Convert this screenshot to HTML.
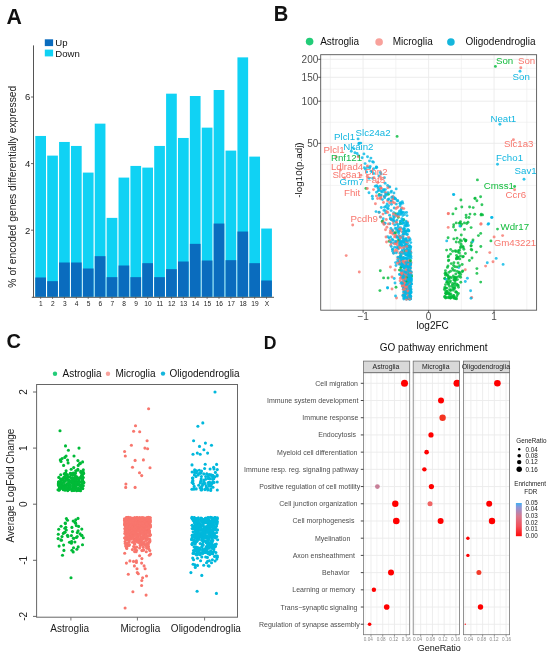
<!DOCTYPE html>
<html><head><meta charset="utf-8"><style>
html,body{margin:0;padding:0;background:#fff;}
svg{display:block;font-family:"Liberation Sans", sans-serif;will-change:transform;}
</style></head><body>
<svg width="550" height="656" viewBox="0 0 550 656">
<defs><linearGradient id="gr" x1="0" y1="0" x2="0" y2="1"><stop offset="0" stop-color="#3fb0f2"/><stop offset="0.12" stop-color="#8c96d8"/><stop offset="0.4" stop-color="#d9788e"/><stop offset="0.7" stop-color="#f2505a"/><stop offset="1" stop-color="#ff0a0a"/></linearGradient><clipPath id="cp0"><rect x="363.50" y="372.7" width="46.2" height="262.00"/></clipPath><clipPath id="cp1"><rect x="413.20" y="372.7" width="46.2" height="262.00"/></clipPath><clipPath id="cp2"><rect x="463.40" y="372.7" width="46.2" height="262.00"/></clipPath></defs>
<rect width="550" height="656" fill="#fff"/>
<text x="6.60" y="23.60" font-size="21.3" fill="#111" text-anchor="start" font-weight="bold" >A</text>
<rect x="35.30" y="135.96" width="10.70" height="160.84" fill="#10d2f4" />
<rect x="35.30" y="277.49" width="10.70" height="19.31" fill="#0a6cbe" />
<line x1="40.65" y1="296.80" x2="40.65" y2="298.80" stroke="#444" stroke-width="0.8" />
<text x="40.95" y="306.20" font-size="6.6" fill="#222" text-anchor="middle" font-weight="normal" >1</text>
<rect x="47.19" y="155.61" width="10.70" height="141.19" fill="#10d2f4" />
<rect x="47.19" y="281.15" width="10.70" height="15.65" fill="#0a6cbe" />
<line x1="52.54" y1="296.80" x2="52.54" y2="298.80" stroke="#444" stroke-width="0.8" />
<text x="52.84" y="306.20" font-size="6.6" fill="#222" text-anchor="middle" font-weight="normal" >2</text>
<rect x="59.08" y="141.96" width="10.70" height="154.84" fill="#10d2f4" />
<rect x="59.08" y="262.50" width="10.70" height="34.30" fill="#0a6cbe" />
<line x1="64.43" y1="296.80" x2="64.43" y2="298.80" stroke="#444" stroke-width="0.8" />
<text x="64.73" y="306.20" font-size="6.6" fill="#222" text-anchor="middle" font-weight="normal" >3</text>
<rect x="70.97" y="145.95" width="10.70" height="150.85" fill="#10d2f4" />
<rect x="70.97" y="262.50" width="10.70" height="34.30" fill="#0a6cbe" />
<line x1="76.32" y1="296.80" x2="76.32" y2="298.80" stroke="#444" stroke-width="0.8" />
<text x="76.62" y="306.20" font-size="6.6" fill="#222" text-anchor="middle" font-weight="normal" >4</text>
<rect x="82.86" y="172.59" width="10.70" height="124.21" fill="#10d2f4" />
<rect x="82.86" y="268.50" width="10.70" height="28.30" fill="#0a6cbe" />
<line x1="88.21" y1="296.80" x2="88.21" y2="298.80" stroke="#444" stroke-width="0.8" />
<text x="88.51" y="306.20" font-size="6.6" fill="#222" text-anchor="middle" font-weight="normal" >5</text>
<rect x="94.75" y="123.64" width="10.70" height="173.16" fill="#10d2f4" />
<rect x="94.75" y="256.17" width="10.70" height="40.63" fill="#0a6cbe" />
<line x1="100.10" y1="296.80" x2="100.10" y2="298.80" stroke="#444" stroke-width="0.8" />
<text x="100.40" y="306.20" font-size="6.6" fill="#222" text-anchor="middle" font-weight="normal" >6</text>
<rect x="106.64" y="217.88" width="10.70" height="78.92" fill="#10d2f4" />
<rect x="106.64" y="277.15" width="10.70" height="19.65" fill="#0a6cbe" />
<line x1="111.99" y1="296.80" x2="111.99" y2="298.80" stroke="#444" stroke-width="0.8" />
<text x="112.29" y="306.20" font-size="6.6" fill="#222" text-anchor="middle" font-weight="normal" >7</text>
<rect x="118.53" y="177.59" width="10.70" height="119.21" fill="#10d2f4" />
<rect x="118.53" y="265.50" width="10.70" height="31.30" fill="#0a6cbe" />
<line x1="123.88" y1="296.80" x2="123.88" y2="298.80" stroke="#444" stroke-width="0.8" />
<text x="124.18" y="306.20" font-size="6.6" fill="#222" text-anchor="middle" font-weight="normal" >8</text>
<rect x="130.42" y="165.93" width="10.70" height="130.87" fill="#10d2f4" />
<rect x="130.42" y="277.15" width="10.70" height="19.65" fill="#0a6cbe" />
<line x1="135.77" y1="296.80" x2="135.77" y2="298.80" stroke="#444" stroke-width="0.8" />
<text x="136.07" y="306.20" font-size="6.6" fill="#222" text-anchor="middle" font-weight="normal" >9</text>
<rect x="142.31" y="167.60" width="10.70" height="129.20" fill="#10d2f4" />
<rect x="142.31" y="263.17" width="10.70" height="33.63" fill="#0a6cbe" />
<line x1="147.66" y1="296.80" x2="147.66" y2="298.80" stroke="#444" stroke-width="0.8" />
<text x="147.96" y="306.20" font-size="6.6" fill="#222" text-anchor="middle" font-weight="normal" >10</text>
<rect x="154.20" y="145.95" width="10.70" height="150.85" fill="#10d2f4" />
<rect x="154.20" y="277.15" width="10.70" height="19.65" fill="#0a6cbe" />
<line x1="159.55" y1="296.80" x2="159.55" y2="298.80" stroke="#444" stroke-width="0.8" />
<text x="159.85" y="306.20" font-size="6.6" fill="#222" text-anchor="middle" font-weight="normal" >11</text>
<rect x="166.09" y="93.67" width="10.70" height="203.13" fill="#10d2f4" />
<rect x="166.09" y="269.16" width="10.70" height="27.64" fill="#0a6cbe" />
<line x1="171.44" y1="296.80" x2="171.44" y2="298.80" stroke="#444" stroke-width="0.8" />
<text x="171.74" y="306.20" font-size="6.6" fill="#222" text-anchor="middle" font-weight="normal" >12</text>
<rect x="177.98" y="137.96" width="10.70" height="158.84" fill="#10d2f4" />
<rect x="177.98" y="261.50" width="10.70" height="35.30" fill="#0a6cbe" />
<line x1="183.33" y1="296.80" x2="183.33" y2="298.80" stroke="#444" stroke-width="0.8" />
<text x="183.63" y="306.20" font-size="6.6" fill="#222" text-anchor="middle" font-weight="normal" >13</text>
<rect x="189.87" y="96.00" width="10.70" height="200.80" fill="#10d2f4" />
<rect x="189.87" y="243.85" width="10.70" height="52.95" fill="#0a6cbe" />
<line x1="195.22" y1="296.80" x2="195.22" y2="298.80" stroke="#444" stroke-width="0.8" />
<text x="195.52" y="306.20" font-size="6.6" fill="#222" text-anchor="middle" font-weight="normal" >14</text>
<rect x="201.76" y="127.64" width="10.70" height="169.16" fill="#10d2f4" />
<rect x="201.76" y="260.50" width="10.70" height="36.30" fill="#0a6cbe" />
<line x1="207.11" y1="296.80" x2="207.11" y2="298.80" stroke="#444" stroke-width="0.8" />
<text x="207.41" y="306.20" font-size="6.6" fill="#222" text-anchor="middle" font-weight="normal" >15</text>
<rect x="213.65" y="90.01" width="10.70" height="206.79" fill="#10d2f4" />
<rect x="213.65" y="223.54" width="10.70" height="73.26" fill="#0a6cbe" />
<line x1="219.00" y1="296.80" x2="219.00" y2="298.80" stroke="#444" stroke-width="0.8" />
<text x="219.30" y="306.20" font-size="6.6" fill="#222" text-anchor="middle" font-weight="normal" >16</text>
<rect x="225.54" y="150.61" width="10.70" height="146.19" fill="#10d2f4" />
<rect x="225.54" y="260.17" width="10.70" height="36.63" fill="#0a6cbe" />
<line x1="230.89" y1="296.80" x2="230.89" y2="298.80" stroke="#444" stroke-width="0.8" />
<text x="231.19" y="306.20" font-size="6.6" fill="#222" text-anchor="middle" font-weight="normal" >17</text>
<rect x="237.43" y="57.37" width="10.70" height="239.43" fill="#10d2f4" />
<rect x="237.43" y="231.53" width="10.70" height="65.27" fill="#0a6cbe" />
<line x1="242.78" y1="296.80" x2="242.78" y2="298.80" stroke="#444" stroke-width="0.8" />
<text x="243.08" y="306.20" font-size="6.6" fill="#222" text-anchor="middle" font-weight="normal" >18</text>
<rect x="249.32" y="156.61" width="10.70" height="140.19" fill="#10d2f4" />
<rect x="249.32" y="263.17" width="10.70" height="33.63" fill="#0a6cbe" />
<line x1="254.67" y1="296.80" x2="254.67" y2="298.80" stroke="#444" stroke-width="0.8" />
<text x="254.97" y="306.20" font-size="6.6" fill="#222" text-anchor="middle" font-weight="normal" >19</text>
<rect x="261.21" y="228.54" width="10.70" height="68.26" fill="#10d2f4" />
<rect x="261.21" y="280.48" width="10.70" height="16.32" fill="#0a6cbe" />
<line x1="266.56" y1="296.80" x2="266.56" y2="298.80" stroke="#444" stroke-width="0.8" />
<text x="266.86" y="306.20" font-size="6.6" fill="#222" text-anchor="middle" font-weight="normal" >X</text>
<line x1="33.50" y1="45.40" x2="33.50" y2="297.60" stroke="#555" stroke-width="1" />
<line x1="31.80" y1="297.30" x2="274.00" y2="297.30" stroke="#555" stroke-width="1" />
<line x1="31.00" y1="230.20" x2="33.50" y2="230.20" stroke="#444" stroke-width="0.8" />
<text x="30.20" y="233.60" font-size="9.5" fill="#222" text-anchor="end" font-weight="normal" >2</text>
<line x1="31.00" y1="163.60" x2="33.50" y2="163.60" stroke="#444" stroke-width="0.8" />
<text x="30.20" y="167.00" font-size="9.5" fill="#222" text-anchor="end" font-weight="normal" >4</text>
<line x1="31.00" y1="97.00" x2="33.50" y2="97.00" stroke="#444" stroke-width="0.8" />
<text x="30.20" y="100.40" font-size="9.5" fill="#222" text-anchor="end" font-weight="normal" >6</text>
<rect x="44.80" y="39.30" width="8.30" height="6.80" fill="#0a6cbe" />
<rect x="44.80" y="49.60" width="8.30" height="6.80" fill="#10d2f4" />
<text x="55.30" y="46.20" font-size="9.6" fill="#111" text-anchor="start" font-weight="normal" >Up</text>
<text x="55.30" y="56.50" font-size="9.6" fill="#111" text-anchor="start" font-weight="normal" >Down</text>
<text x="0.00" y="0.00" font-size="10.3" fill="#222" text-anchor="middle" font-weight="normal" transform="translate(16,186.7) rotate(-90)">% of encoded genes differentially expressed</text>
<text x="0.00" y="0.00" font-size="21.2" fill="#111" text-anchor="start" font-weight="bold" transform="translate(273.7,20.6) scale(0.95,1)">B</text>
<rect x="320.70" y="54.70" width="215.90" height="255.50" fill="#fff" />
<line x1="330.35" y1="54.70" x2="330.35" y2="310.20" stroke="#ebebeb" stroke-width="0.6" />
<line x1="363.10" y1="54.70" x2="363.10" y2="310.20" stroke="#ebebeb" stroke-width="0.9" />
<line x1="395.85" y1="54.70" x2="395.85" y2="310.20" stroke="#ebebeb" stroke-width="0.6" />
<line x1="428.60" y1="54.70" x2="428.60" y2="310.20" stroke="#ebebeb" stroke-width="0.9" />
<line x1="461.35" y1="54.70" x2="461.35" y2="310.20" stroke="#ebebeb" stroke-width="0.6" />
<line x1="494.10" y1="54.70" x2="494.10" y2="310.20" stroke="#ebebeb" stroke-width="0.9" />
<line x1="526.85" y1="54.70" x2="526.85" y2="310.20" stroke="#ebebeb" stroke-width="0.6" />
<line x1="320.70" y1="59.30" x2="536.60" y2="59.30" stroke="#ebebeb" stroke-width="0.9" />
<line x1="320.70" y1="77.30" x2="536.60" y2="77.30" stroke="#ebebeb" stroke-width="0.9" />
<line x1="320.70" y1="101.20" x2="536.60" y2="101.20" stroke="#ebebeb" stroke-width="0.9" />
<line x1="320.70" y1="143.30" x2="536.60" y2="143.30" stroke="#ebebeb" stroke-width="0.9" />
<line x1="320.70" y1="68.30" x2="536.60" y2="68.30" stroke="#ebebeb" stroke-width="0.6" />
<line x1="320.70" y1="89.25" x2="536.60" y2="89.25" stroke="#ebebeb" stroke-width="0.6" />
<line x1="320.70" y1="122.25" x2="536.60" y2="122.25" stroke="#ebebeb" stroke-width="0.6" />
<line x1="320.70" y1="164.35" x2="536.60" y2="164.35" stroke="#ebebeb" stroke-width="0.6" />
<line x1="320.70" y1="185.40" x2="536.60" y2="185.40" stroke="#ebebeb" stroke-width="0.6" />
<circle cx="385.5" cy="210.8" r="1.45" fill="#00b8e6" fill-opacity="0.8"/>
<circle cx="400.3" cy="221.5" r="1.45" fill="#00b8e6" fill-opacity="0.8"/>
<circle cx="457.1" cy="277.1" r="1.45" fill="#00ba38" fill-opacity="0.8"/>
<circle cx="388.4" cy="194.3" r="1.45" fill="#00ba38" fill-opacity="0.8"/>
<circle cx="460.8" cy="226.1" r="1.45" fill="#00ba38" fill-opacity="0.8"/>
<circle cx="389.8" cy="223.8" r="1.45" fill="#00b8e6" fill-opacity="0.8"/>
<circle cx="458.5" cy="250.6" r="1.45" fill="#00ba38" fill-opacity="0.8"/>
<circle cx="448.8" cy="260.1" r="1.45" fill="#00ba38" fill-opacity="0.8"/>
<circle cx="488.1" cy="224.2" r="1.45" fill="#00b8e6" fill-opacity="0.8"/>
<circle cx="411.1" cy="262.7" r="1.45" fill="#f8766d" fill-opacity="0.8"/>
<circle cx="407.6" cy="285.3" r="1.45" fill="#00b8e6" fill-opacity="0.8"/>
<circle cx="399.9" cy="253.2" r="1.45" fill="#f8766d" fill-opacity="0.8"/>
<circle cx="401.8" cy="266.5" r="1.45" fill="#00b8e6" fill-opacity="0.8"/>
<circle cx="394.5" cy="217.0" r="1.45" fill="#00b8e6" fill-opacity="0.8"/>
<circle cx="448.4" cy="260.7" r="1.45" fill="#00ba38" fill-opacity="0.8"/>
<circle cx="497.5" cy="229.1" r="1.45" fill="#00ba38" fill-opacity="0.8"/>
<circle cx="344.5" cy="178.0" r="1.45" fill="#f8766d" fill-opacity="0.8"/>
<circle cx="404.3" cy="281.5" r="1.45" fill="#00b8e6" fill-opacity="0.8"/>
<circle cx="408.8" cy="285.5" r="1.45" fill="#f8766d" fill-opacity="0.8"/>
<circle cx="409.5" cy="264.4" r="1.45" fill="#00b8e6" fill-opacity="0.8"/>
<circle cx="487.3" cy="262.7" r="1.45" fill="#00b8e6" fill-opacity="0.8"/>
<circle cx="445.9" cy="274.0" r="1.45" fill="#00ba38" fill-opacity="0.8"/>
<circle cx="390.7" cy="245.3" r="1.45" fill="#f8766d" fill-opacity="0.8"/>
<circle cx="408.3" cy="295.5" r="1.45" fill="#00b8e6" fill-opacity="0.8"/>
<circle cx="410.7" cy="288.9" r="1.45" fill="#f8766d" fill-opacity="0.8"/>
<circle cx="454.8" cy="280.2" r="1.45" fill="#00ba38" fill-opacity="0.8"/>
<circle cx="407.0" cy="258.6" r="1.45" fill="#00b8e6" fill-opacity="0.8"/>
<circle cx="379.3" cy="194.5" r="1.45" fill="#00ba38" fill-opacity="0.8"/>
<circle cx="408.5" cy="297.4" r="1.45" fill="#00b8e6" fill-opacity="0.8"/>
<circle cx="464.4" cy="222.9" r="1.45" fill="#00ba38" fill-opacity="0.8"/>
<circle cx="403.3" cy="287.3" r="1.45" fill="#00b8e6" fill-opacity="0.8"/>
<circle cx="402.1" cy="223.7" r="1.45" fill="#00b8e6" fill-opacity="0.8"/>
<circle cx="384.1" cy="223.9" r="1.45" fill="#00b8e6" fill-opacity="0.8"/>
<circle cx="404.6" cy="286.3" r="1.45" fill="#00b8e6" fill-opacity="0.8"/>
<circle cx="409.1" cy="240.6" r="1.45" fill="#00b8e6" fill-opacity="0.8"/>
<circle cx="449.6" cy="286.4" r="1.45" fill="#00ba38" fill-opacity="0.8"/>
<circle cx="392.0" cy="289.0" r="1.45" fill="#f8766d" fill-opacity="0.8"/>
<circle cx="409.7" cy="279.3" r="1.45" fill="#00b8e6" fill-opacity="0.8"/>
<circle cx="401.5" cy="266.8" r="1.45" fill="#00b8e6" fill-opacity="0.8"/>
<circle cx="459.5" cy="250.2" r="1.45" fill="#00ba38" fill-opacity="0.8"/>
<circle cx="405.4" cy="266.4" r="1.45" fill="#00b8e6" fill-opacity="0.8"/>
<circle cx="391.0" cy="201.1" r="1.45" fill="#00b8e6" fill-opacity="0.8"/>
<circle cx="393.1" cy="234.2" r="1.45" fill="#f8766d" fill-opacity="0.8"/>
<circle cx="455.6" cy="279.1" r="1.45" fill="#00ba38" fill-opacity="0.8"/>
<circle cx="381.3" cy="207.5" r="1.45" fill="#00b8e6" fill-opacity="0.8"/>
<circle cx="386.3" cy="219.5" r="1.45" fill="#f8766d" fill-opacity="0.8"/>
<circle cx="471.0" cy="246.0" r="1.45" fill="#00ba38" fill-opacity="0.8"/>
<circle cx="411.1" cy="289.5" r="1.45" fill="#00b8e6" fill-opacity="0.8"/>
<circle cx="402.5" cy="251.5" r="1.45" fill="#00b8e6" fill-opacity="0.8"/>
<circle cx="390.6" cy="236.9" r="1.45" fill="#00b8e6" fill-opacity="0.8"/>
<circle cx="406.8" cy="260.9" r="1.45" fill="#00b8e6" fill-opacity="0.8"/>
<circle cx="453.9" cy="297.7" r="1.45" fill="#00ba38" fill-opacity="0.8"/>
<circle cx="402.9" cy="295.7" r="1.45" fill="#f8766d" fill-opacity="0.8"/>
<circle cx="398.5" cy="248.8" r="1.45" fill="#00b8e6" fill-opacity="0.8"/>
<circle cx="401.2" cy="263.7" r="1.45" fill="#00b8e6" fill-opacity="0.8"/>
<circle cx="445.9" cy="293.3" r="1.45" fill="#00ba38" fill-opacity="0.8"/>
<circle cx="453.7" cy="287.9" r="1.45" fill="#00ba38" fill-opacity="0.8"/>
<circle cx="408.6" cy="295.8" r="1.45" fill="#00b8e6" fill-opacity="0.8"/>
<circle cx="402.8" cy="242.9" r="1.45" fill="#00b8e6" fill-opacity="0.8"/>
<circle cx="404.2" cy="270.8" r="1.45" fill="#00b8e6" fill-opacity="0.8"/>
<circle cx="457.0" cy="238.3" r="1.45" fill="#00ba38" fill-opacity="0.8"/>
<circle cx="369.5" cy="161.0" r="1.45" fill="#00b8e6" fill-opacity="0.8"/>
<circle cx="400.3" cy="264.1" r="1.45" fill="#f8766d" fill-opacity="0.8"/>
<circle cx="410.6" cy="292.2" r="1.45" fill="#00b8e6" fill-opacity="0.8"/>
<circle cx="410.8" cy="282.4" r="1.45" fill="#00b8e6" fill-opacity="0.8"/>
<circle cx="459.2" cy="242.2" r="1.45" fill="#00ba38" fill-opacity="0.8"/>
<circle cx="406.8" cy="265.0" r="1.45" fill="#00b8e6" fill-opacity="0.8"/>
<circle cx="453.9" cy="262.7" r="1.45" fill="#00ba38" fill-opacity="0.8"/>
<circle cx="411.5" cy="275.0" r="1.45" fill="#00b8e6" fill-opacity="0.8"/>
<circle cx="455.8" cy="274.0" r="1.45" fill="#00ba38" fill-opacity="0.8"/>
<circle cx="401.3" cy="270.1" r="1.45" fill="#f8766d" fill-opacity="0.8"/>
<circle cx="395.6" cy="213.7" r="1.45" fill="#00ba38" fill-opacity="0.8"/>
<circle cx="408.9" cy="258.7" r="1.45" fill="#00b8e6" fill-opacity="0.8"/>
<circle cx="411.3" cy="283.9" r="1.45" fill="#00b8e6" fill-opacity="0.8"/>
<circle cx="404.0" cy="233.4" r="1.45" fill="#f8766d" fill-opacity="0.8"/>
<circle cx="375.3" cy="186.2" r="1.45" fill="#00b8e6" fill-opacity="0.8"/>
<circle cx="463.9" cy="249.3" r="1.45" fill="#00ba38" fill-opacity="0.8"/>
<circle cx="445.0" cy="273.4" r="1.45" fill="#00ba38" fill-opacity="0.8"/>
<circle cx="404.9" cy="294.6" r="1.45" fill="#00b8e6" fill-opacity="0.8"/>
<circle cx="405.3" cy="283.4" r="1.45" fill="#f8766d" fill-opacity="0.8"/>
<circle cx="389.1" cy="241.3" r="1.45" fill="#00ba38" fill-opacity="0.8"/>
<circle cx="404.4" cy="214.6" r="1.45" fill="#00b8e6" fill-opacity="0.8"/>
<circle cx="408.9" cy="267.6" r="1.45" fill="#00b8e6" fill-opacity="0.8"/>
<circle cx="520.8" cy="67.7" r="1.45" fill="#f8766d" fill-opacity="0.8"/>
<circle cx="407.2" cy="234.2" r="1.45" fill="#00b8e6" fill-opacity="0.8"/>
<circle cx="409.2" cy="252.2" r="1.45" fill="#00b8e6" fill-opacity="0.8"/>
<circle cx="403.8" cy="267.1" r="1.45" fill="#f8766d" fill-opacity="0.8"/>
<circle cx="383.0" cy="221.1" r="1.45" fill="#f8766d" fill-opacity="0.8"/>
<circle cx="405.4" cy="281.9" r="1.45" fill="#f8766d" fill-opacity="0.8"/>
<circle cx="410.6" cy="298.7" r="1.45" fill="#00b8e6" fill-opacity="0.8"/>
<circle cx="446.7" cy="240.9" r="1.45" fill="#00b8e6" fill-opacity="0.8"/>
<circle cx="372.3" cy="171.9" r="1.45" fill="#00b8e6" fill-opacity="0.8"/>
<circle cx="459.9" cy="226.0" r="1.45" fill="#00b8e6" fill-opacity="0.8"/>
<circle cx="464.4" cy="229.4" r="1.45" fill="#00ba38" fill-opacity="0.8"/>
<circle cx="455.0" cy="277.5" r="1.45" fill="#00ba38" fill-opacity="0.8"/>
<circle cx="404.9" cy="287.5" r="1.45" fill="#f8766d" fill-opacity="0.8"/>
<circle cx="462.8" cy="256.9" r="1.45" fill="#00ba38" fill-opacity="0.8"/>
<circle cx="410.8" cy="273.9" r="1.45" fill="#00b8e6" fill-opacity="0.8"/>
<circle cx="476.9" cy="200.7" r="1.45" fill="#00ba38" fill-opacity="0.8"/>
<circle cx="388.6" cy="205.7" r="1.45" fill="#00b8e6" fill-opacity="0.8"/>
<circle cx="454.1" cy="297.3" r="1.45" fill="#00ba38" fill-opacity="0.8"/>
<circle cx="380.9" cy="188.1" r="1.45" fill="#f8766d" fill-opacity="0.8"/>
<circle cx="409.8" cy="256.1" r="1.45" fill="#00ba38" fill-opacity="0.8"/>
<circle cx="401.1" cy="270.8" r="1.45" fill="#00b8e6" fill-opacity="0.8"/>
<circle cx="448.8" cy="272.4" r="1.45" fill="#00ba38" fill-opacity="0.8"/>
<circle cx="387.7" cy="212.5" r="1.45" fill="#f8766d" fill-opacity="0.8"/>
<circle cx="404.3" cy="274.8" r="1.45" fill="#00b8e6" fill-opacity="0.8"/>
<circle cx="449.0" cy="277.6" r="1.45" fill="#00ba38" fill-opacity="0.8"/>
<circle cx="403.4" cy="281.6" r="1.45" fill="#f8766d" fill-opacity="0.8"/>
<circle cx="409.3" cy="282.9" r="1.45" fill="#00b8e6" fill-opacity="0.8"/>
<circle cx="377.6" cy="198.5" r="1.45" fill="#f8766d" fill-opacity="0.8"/>
<circle cx="382.5" cy="222.4" r="1.45" fill="#f8766d" fill-opacity="0.8"/>
<circle cx="466.0" cy="240.1" r="1.45" fill="#00ba38" fill-opacity="0.8"/>
<circle cx="403.8" cy="299.1" r="1.45" fill="#00b8e6" fill-opacity="0.8"/>
<circle cx="373.4" cy="162.2" r="1.45" fill="#00b8e6" fill-opacity="0.8"/>
<circle cx="402.1" cy="272.6" r="1.45" fill="#f8766d" fill-opacity="0.8"/>
<circle cx="396.3" cy="204.1" r="1.45" fill="#00b8e6" fill-opacity="0.8"/>
<circle cx="409.0" cy="252.1" r="1.45" fill="#00b8e6" fill-opacity="0.8"/>
<circle cx="406.6" cy="274.6" r="1.45" fill="#00b8e6" fill-opacity="0.8"/>
<circle cx="408.4" cy="279.0" r="1.45" fill="#00b8e6" fill-opacity="0.8"/>
<circle cx="404.0" cy="223.0" r="1.45" fill="#00b8e6" fill-opacity="0.8"/>
<circle cx="458.8" cy="267.6" r="1.45" fill="#00b8e6" fill-opacity="0.8"/>
<circle cx="406.2" cy="258.2" r="1.45" fill="#00b8e6" fill-opacity="0.8"/>
<circle cx="402.9" cy="221.5" r="1.45" fill="#00b8e6" fill-opacity="0.8"/>
<circle cx="408.9" cy="230.9" r="1.45" fill="#00b8e6" fill-opacity="0.8"/>
<circle cx="410.7" cy="276.5" r="1.45" fill="#00b8e6" fill-opacity="0.8"/>
<circle cx="399.3" cy="263.4" r="1.45" fill="#f8766d" fill-opacity="0.8"/>
<circle cx="403.2" cy="289.3" r="1.45" fill="#f8766d" fill-opacity="0.8"/>
<circle cx="396.2" cy="188.9" r="1.45" fill="#00b8e6" fill-opacity="0.8"/>
<circle cx="455.9" cy="298.6" r="1.45" fill="#00ba38" fill-opacity="0.8"/>
<circle cx="410.6" cy="263.1" r="1.45" fill="#00b8e6" fill-opacity="0.8"/>
<circle cx="372.8" cy="178.2" r="1.45" fill="#00b8e6" fill-opacity="0.8"/>
<circle cx="405.4" cy="281.9" r="1.45" fill="#00b8e6" fill-opacity="0.8"/>
<circle cx="410.1" cy="276.0" r="1.45" fill="#f8766d" fill-opacity="0.8"/>
<circle cx="393.7" cy="212.7" r="1.45" fill="#00b8e6" fill-opacity="0.8"/>
<circle cx="410.2" cy="254.4" r="1.45" fill="#00ba38" fill-opacity="0.8"/>
<circle cx="380.3" cy="186.3" r="1.45" fill="#00b8e6" fill-opacity="0.8"/>
<circle cx="405.0" cy="294.3" r="1.45" fill="#00b8e6" fill-opacity="0.8"/>
<circle cx="405.9" cy="254.7" r="1.45" fill="#00b8e6" fill-opacity="0.8"/>
<circle cx="410.3" cy="280.8" r="1.45" fill="#00b8e6" fill-opacity="0.8"/>
<circle cx="461.5" cy="241.1" r="1.45" fill="#00ba38" fill-opacity="0.8"/>
<circle cx="393.9" cy="193.0" r="1.45" fill="#00b8e6" fill-opacity="0.8"/>
<circle cx="402.7" cy="257.1" r="1.45" fill="#f8766d" fill-opacity="0.8"/>
<circle cx="392.5" cy="220.5" r="1.45" fill="#f8766d" fill-opacity="0.8"/>
<circle cx="397.8" cy="259.4" r="1.45" fill="#00b8e6" fill-opacity="0.8"/>
<circle cx="453.2" cy="270.3" r="1.45" fill="#00ba38" fill-opacity="0.8"/>
<circle cx="403.2" cy="279.0" r="1.45" fill="#f8766d" fill-opacity="0.8"/>
<circle cx="496.2" cy="258.4" r="1.45" fill="#00b8e6" fill-opacity="0.8"/>
<circle cx="461.1" cy="244.3" r="1.45" fill="#00ba38" fill-opacity="0.8"/>
<circle cx="463.3" cy="256.4" r="1.45" fill="#00ba38" fill-opacity="0.8"/>
<circle cx="396.8" cy="223.7" r="1.45" fill="#00b8e6" fill-opacity="0.8"/>
<circle cx="393.5" cy="243.3" r="1.45" fill="#00b8e6" fill-opacity="0.8"/>
<circle cx="404.1" cy="229.8" r="1.45" fill="#00b8e6" fill-opacity="0.8"/>
<circle cx="409.7" cy="294.0" r="1.45" fill="#00b8e6" fill-opacity="0.8"/>
<circle cx="399.3" cy="229.2" r="1.45" fill="#f8766d" fill-opacity="0.8"/>
<circle cx="364.4" cy="167.7" r="1.45" fill="#00b8e6" fill-opacity="0.8"/>
<circle cx="457.4" cy="294.8" r="1.45" fill="#00ba38" fill-opacity="0.8"/>
<circle cx="460.6" cy="277.2" r="1.45" fill="#00ba38" fill-opacity="0.8"/>
<circle cx="409.3" cy="279.0" r="1.45" fill="#00b8e6" fill-opacity="0.8"/>
<circle cx="395.7" cy="243.3" r="1.45" fill="#f8766d" fill-opacity="0.8"/>
<circle cx="359.3" cy="272.0" r="1.45" fill="#f8766d" fill-opacity="0.8"/>
<circle cx="474.9" cy="198.6" r="1.45" fill="#00ba38" fill-opacity="0.8"/>
<circle cx="405.9" cy="239.8" r="1.45" fill="#00b8e6" fill-opacity="0.8"/>
<circle cx="380.9" cy="197.4" r="1.45" fill="#f8766d" fill-opacity="0.8"/>
<circle cx="378.9" cy="176.0" r="1.45" fill="#00b8e6" fill-opacity="0.8"/>
<circle cx="455.1" cy="286.5" r="1.45" fill="#00ba38" fill-opacity="0.8"/>
<circle cx="404.8" cy="257.9" r="1.45" fill="#00b8e6" fill-opacity="0.8"/>
<circle cx="358.5" cy="155.6" r="1.45" fill="#00b8e6" fill-opacity="0.8"/>
<circle cx="456.7" cy="296.6" r="1.45" fill="#00ba38" fill-opacity="0.8"/>
<circle cx="402.2" cy="285.9" r="1.45" fill="#f8766d" fill-opacity="0.8"/>
<circle cx="400.7" cy="267.8" r="1.45" fill="#00ba38" fill-opacity="0.8"/>
<circle cx="406.6" cy="277.1" r="1.45" fill="#00b8e6" fill-opacity="0.8"/>
<circle cx="408.8" cy="287.4" r="1.45" fill="#00b8e6" fill-opacity="0.8"/>
<circle cx="396.7" cy="215.2" r="1.45" fill="#00b8e6" fill-opacity="0.8"/>
<circle cx="372.6" cy="198.8" r="1.45" fill="#00b8e6" fill-opacity="0.8"/>
<circle cx="409.5" cy="261.5" r="1.45" fill="#f8766d" fill-opacity="0.8"/>
<circle cx="459.2" cy="223.2" r="1.45" fill="#00ba38" fill-opacity="0.8"/>
<circle cx="406.4" cy="264.7" r="1.45" fill="#00b8e6" fill-opacity="0.8"/>
<circle cx="390.2" cy="232.8" r="1.45" fill="#f8766d" fill-opacity="0.8"/>
<circle cx="401.7" cy="231.6" r="1.45" fill="#f8766d" fill-opacity="0.8"/>
<circle cx="399.3" cy="261.3" r="1.45" fill="#f8766d" fill-opacity="0.8"/>
<circle cx="401.1" cy="228.9" r="1.45" fill="#f8766d" fill-opacity="0.8"/>
<circle cx="460.7" cy="274.5" r="1.45" fill="#00ba38" fill-opacity="0.8"/>
<circle cx="409.1" cy="290.0" r="1.45" fill="#00b8e6" fill-opacity="0.8"/>
<circle cx="469.4" cy="260.5" r="1.45" fill="#00ba38" fill-opacity="0.8"/>
<circle cx="457.9" cy="252.0" r="1.45" fill="#00ba38" fill-opacity="0.8"/>
<circle cx="405.9" cy="244.1" r="1.45" fill="#00b8e6" fill-opacity="0.8"/>
<circle cx="394.8" cy="233.5" r="1.45" fill="#f8766d" fill-opacity="0.8"/>
<circle cx="409.5" cy="276.5" r="1.45" fill="#00b8e6" fill-opacity="0.8"/>
<circle cx="360.8" cy="143.1" r="1.45" fill="#00b8e6" fill-opacity="0.8"/>
<circle cx="403.3" cy="265.7" r="1.45" fill="#f8766d" fill-opacity="0.8"/>
<circle cx="450.2" cy="277.1" r="1.45" fill="#00ba38" fill-opacity="0.8"/>
<circle cx="405.6" cy="254.8" r="1.45" fill="#00b8e6" fill-opacity="0.8"/>
<circle cx="393.7" cy="253.0" r="1.45" fill="#f8766d" fill-opacity="0.8"/>
<circle cx="400.2" cy="252.9" r="1.45" fill="#00b8e6" fill-opacity="0.8"/>
<circle cx="380.9" cy="195.4" r="1.45" fill="#f8766d" fill-opacity="0.8"/>
<circle cx="394.2" cy="232.9" r="1.45" fill="#00b8e6" fill-opacity="0.8"/>
<circle cx="387.6" cy="200.7" r="1.45" fill="#f8766d" fill-opacity="0.8"/>
<circle cx="391.4" cy="204.2" r="1.45" fill="#00b8e6" fill-opacity="0.8"/>
<circle cx="402.6" cy="278.1" r="1.45" fill="#00b8e6" fill-opacity="0.8"/>
<circle cx="451.2" cy="289.8" r="1.45" fill="#00ba38" fill-opacity="0.8"/>
<circle cx="405.1" cy="279.1" r="1.45" fill="#00b8e6" fill-opacity="0.8"/>
<circle cx="408.5" cy="273.7" r="1.45" fill="#f8766d" fill-opacity="0.8"/>
<circle cx="409.7" cy="286.4" r="1.45" fill="#00b8e6" fill-opacity="0.8"/>
<circle cx="393.0" cy="198.6" r="1.45" fill="#f8766d" fill-opacity="0.8"/>
<circle cx="410.5" cy="296.8" r="1.45" fill="#00b8e6" fill-opacity="0.8"/>
<circle cx="407.3" cy="281.8" r="1.45" fill="#f8766d" fill-opacity="0.8"/>
<circle cx="409.0" cy="247.5" r="1.45" fill="#00b8e6" fill-opacity="0.8"/>
<circle cx="445.2" cy="288.4" r="1.45" fill="#00ba38" fill-opacity="0.8"/>
<circle cx="467.4" cy="278.3" r="1.45" fill="#00b8e6" fill-opacity="0.8"/>
<circle cx="457.4" cy="271.4" r="1.45" fill="#00ba38" fill-opacity="0.8"/>
<circle cx="448.1" cy="237.8" r="1.45" fill="#00ba38" fill-opacity="0.8"/>
<circle cx="401.2" cy="237.1" r="1.45" fill="#f8766d" fill-opacity="0.8"/>
<circle cx="409.3" cy="285.1" r="1.45" fill="#00b8e6" fill-opacity="0.8"/>
<circle cx="409.1" cy="299.0" r="1.45" fill="#f8766d" fill-opacity="0.8"/>
<circle cx="461.7" cy="224.3" r="1.45" fill="#00ba38" fill-opacity="0.8"/>
<circle cx="396.5" cy="214.8" r="1.45" fill="#00b8e6" fill-opacity="0.8"/>
<circle cx="399.8" cy="244.5" r="1.45" fill="#00ba38" fill-opacity="0.8"/>
<circle cx="404.3" cy="278.5" r="1.45" fill="#00ba38" fill-opacity="0.8"/>
<circle cx="408.3" cy="288.4" r="1.45" fill="#f8766d" fill-opacity="0.8"/>
<circle cx="406.2" cy="225.1" r="1.45" fill="#f8766d" fill-opacity="0.8"/>
<circle cx="399.5" cy="262.0" r="1.45" fill="#f8766d" fill-opacity="0.8"/>
<circle cx="457.4" cy="279.6" r="1.45" fill="#00ba38" fill-opacity="0.8"/>
<circle cx="409.2" cy="265.0" r="1.45" fill="#00b8e6" fill-opacity="0.8"/>
<circle cx="411.0" cy="252.7" r="1.45" fill="#00b8e6" fill-opacity="0.8"/>
<circle cx="393.0" cy="240.2" r="1.45" fill="#00b8e6" fill-opacity="0.8"/>
<circle cx="407.1" cy="287.9" r="1.45" fill="#00b8e6" fill-opacity="0.8"/>
<circle cx="446.1" cy="293.7" r="1.45" fill="#00ba38" fill-opacity="0.8"/>
<circle cx="383.5" cy="202.5" r="1.45" fill="#f8766d" fill-opacity="0.8"/>
<circle cx="399.0" cy="237.1" r="1.45" fill="#00b8e6" fill-opacity="0.8"/>
<circle cx="403.5" cy="274.8" r="1.45" fill="#f8766d" fill-opacity="0.8"/>
<circle cx="408.1" cy="254.7" r="1.45" fill="#00b8e6" fill-opacity="0.8"/>
<circle cx="406.4" cy="285.0" r="1.45" fill="#f8766d" fill-opacity="0.8"/>
<circle cx="405.2" cy="242.9" r="1.45" fill="#00b8e6" fill-opacity="0.8"/>
<circle cx="481.0" cy="223.6" r="1.45" fill="#f8766d" fill-opacity="0.8"/>
<circle cx="404.8" cy="226.2" r="1.45" fill="#00b8e6" fill-opacity="0.8"/>
<circle cx="408.1" cy="269.7" r="1.45" fill="#f8766d" fill-opacity="0.8"/>
<circle cx="524.0" cy="179.2" r="1.45" fill="#00b8e6" fill-opacity="0.8"/>
<circle cx="410.2" cy="279.1" r="1.45" fill="#00b8e6" fill-opacity="0.8"/>
<circle cx="406.9" cy="285.8" r="1.45" fill="#00b8e6" fill-opacity="0.8"/>
<circle cx="394.2" cy="208.0" r="1.45" fill="#00b8e6" fill-opacity="0.8"/>
<circle cx="410.1" cy="287.1" r="1.45" fill="#00b8e6" fill-opacity="0.8"/>
<circle cx="401.9" cy="275.4" r="1.45" fill="#00b8e6" fill-opacity="0.8"/>
<circle cx="403.3" cy="234.5" r="1.45" fill="#00b8e6" fill-opacity="0.8"/>
<circle cx="401.9" cy="272.4" r="1.45" fill="#f8766d" fill-opacity="0.8"/>
<circle cx="400.6" cy="255.8" r="1.45" fill="#00ba38" fill-opacity="0.8"/>
<circle cx="446.6" cy="274.5" r="1.45" fill="#00ba38" fill-opacity="0.8"/>
<circle cx="406.0" cy="266.5" r="1.45" fill="#00b8e6" fill-opacity="0.8"/>
<circle cx="410.3" cy="266.2" r="1.45" fill="#f8766d" fill-opacity="0.8"/>
<circle cx="452.1" cy="296.6" r="1.45" fill="#00ba38" fill-opacity="0.8"/>
<circle cx="444.8" cy="278.6" r="1.45" fill="#00ba38" fill-opacity="0.8"/>
<circle cx="407.2" cy="293.7" r="1.45" fill="#00b8e6" fill-opacity="0.8"/>
<circle cx="407.4" cy="275.3" r="1.45" fill="#f8766d" fill-opacity="0.8"/>
<circle cx="408.9" cy="297.5" r="1.45" fill="#00b8e6" fill-opacity="0.8"/>
<circle cx="405.9" cy="281.7" r="1.45" fill="#00b8e6" fill-opacity="0.8"/>
<circle cx="380.3" cy="197.9" r="1.45" fill="#f8766d" fill-opacity="0.8"/>
<circle cx="396.3" cy="228.3" r="1.45" fill="#00b8e6" fill-opacity="0.8"/>
<circle cx="399.7" cy="214.8" r="1.45" fill="#00b8e6" fill-opacity="0.8"/>
<circle cx="381.1" cy="173.9" r="1.45" fill="#00b8e6" fill-opacity="0.8"/>
<circle cx="410.3" cy="255.5" r="1.45" fill="#00b8e6" fill-opacity="0.8"/>
<circle cx="455.4" cy="230.1" r="1.45" fill="#00ba38" fill-opacity="0.8"/>
<circle cx="470.6" cy="290.7" r="1.45" fill="#00b8e6" fill-opacity="0.8"/>
<circle cx="411.5" cy="276.2" r="1.45" fill="#00ba38" fill-opacity="0.8"/>
<circle cx="409.1" cy="293.5" r="1.45" fill="#00b8e6" fill-opacity="0.8"/>
<circle cx="410.8" cy="246.8" r="1.45" fill="#00b8e6" fill-opacity="0.8"/>
<circle cx="406.0" cy="280.8" r="1.45" fill="#00ba38" fill-opacity="0.8"/>
<circle cx="384.5" cy="192.1" r="1.45" fill="#00b8e6" fill-opacity="0.8"/>
<circle cx="410.4" cy="277.0" r="1.45" fill="#00b8e6" fill-opacity="0.8"/>
<circle cx="398.8" cy="242.4" r="1.45" fill="#00b8e6" fill-opacity="0.8"/>
<circle cx="398.8" cy="238.2" r="1.45" fill="#00b8e6" fill-opacity="0.8"/>
<circle cx="480.7" cy="282.1" r="1.45" fill="#00ba38" fill-opacity="0.8"/>
<circle cx="409.8" cy="283.1" r="1.45" fill="#00b8e6" fill-opacity="0.8"/>
<circle cx="402.1" cy="272.5" r="1.45" fill="#00b8e6" fill-opacity="0.8"/>
<circle cx="408.4" cy="225.5" r="1.45" fill="#00b8e6" fill-opacity="0.8"/>
<circle cx="401.3" cy="251.9" r="1.45" fill="#00b8e6" fill-opacity="0.8"/>
<circle cx="401.2" cy="274.6" r="1.45" fill="#00b8e6" fill-opacity="0.8"/>
<circle cx="409.7" cy="295.9" r="1.45" fill="#00b8e6" fill-opacity="0.8"/>
<circle cx="402.9" cy="234.5" r="1.45" fill="#00b8e6" fill-opacity="0.8"/>
<circle cx="409.5" cy="246.6" r="1.45" fill="#00b8e6" fill-opacity="0.8"/>
<circle cx="378.2" cy="190.9" r="1.45" fill="#00b8e6" fill-opacity="0.8"/>
<circle cx="373.7" cy="168.7" r="1.45" fill="#00b8e6" fill-opacity="0.8"/>
<circle cx="404.7" cy="277.1" r="1.45" fill="#00b8e6" fill-opacity="0.8"/>
<circle cx="407.8" cy="286.3" r="1.45" fill="#00ba38" fill-opacity="0.8"/>
<circle cx="411.0" cy="278.8" r="1.45" fill="#00b8e6" fill-opacity="0.8"/>
<circle cx="409.5" cy="267.4" r="1.45" fill="#00b8e6" fill-opacity="0.8"/>
<circle cx="403.7" cy="219.8" r="1.45" fill="#00ba38" fill-opacity="0.8"/>
<circle cx="400.5" cy="237.8" r="1.45" fill="#00b8e6" fill-opacity="0.8"/>
<circle cx="409.7" cy="245.8" r="1.45" fill="#00b8e6" fill-opacity="0.8"/>
<circle cx="457.9" cy="258.6" r="1.45" fill="#00ba38" fill-opacity="0.8"/>
<circle cx="409.4" cy="238.3" r="1.45" fill="#00b8e6" fill-opacity="0.8"/>
<circle cx="380.2" cy="176.6" r="1.45" fill="#f8766d" fill-opacity="0.8"/>
<circle cx="340.5" cy="170.0" r="1.45" fill="#f8766d" fill-opacity="0.8"/>
<circle cx="406.6" cy="279.9" r="1.45" fill="#00b8e6" fill-opacity="0.8"/>
<circle cx="460.2" cy="222.9" r="1.45" fill="#00ba38" fill-opacity="0.8"/>
<circle cx="448.0" cy="265.9" r="1.45" fill="#00ba38" fill-opacity="0.8"/>
<circle cx="407.7" cy="297.9" r="1.45" fill="#00b8e6" fill-opacity="0.8"/>
<circle cx="403.9" cy="292.3" r="1.45" fill="#00b8e6" fill-opacity="0.8"/>
<circle cx="405.7" cy="268.1" r="1.45" fill="#f8766d" fill-opacity="0.8"/>
<circle cx="409.4" cy="294.1" r="1.45" fill="#f8766d" fill-opacity="0.8"/>
<circle cx="454.7" cy="277.8" r="1.45" fill="#00ba38" fill-opacity="0.8"/>
<circle cx="455.4" cy="280.5" r="1.45" fill="#00ba38" fill-opacity="0.8"/>
<circle cx="379.1" cy="212.4" r="1.45" fill="#f8766d" fill-opacity="0.8"/>
<circle cx="407.5" cy="267.0" r="1.45" fill="#00b8e6" fill-opacity="0.8"/>
<circle cx="399.5" cy="211.3" r="1.45" fill="#00b8e6" fill-opacity="0.8"/>
<circle cx="409.9" cy="281.4" r="1.45" fill="#00b8e6" fill-opacity="0.8"/>
<circle cx="407.4" cy="279.0" r="1.45" fill="#00b8e6" fill-opacity="0.8"/>
<circle cx="502.6" cy="235.6" r="1.45" fill="#f8766d" fill-opacity="0.8"/>
<circle cx="393.1" cy="196.6" r="1.45" fill="#00b8e6" fill-opacity="0.8"/>
<circle cx="409.4" cy="286.4" r="1.45" fill="#00b8e6" fill-opacity="0.8"/>
<circle cx="404.2" cy="267.8" r="1.45" fill="#f8766d" fill-opacity="0.8"/>
<circle cx="358.2" cy="156.7" r="1.45" fill="#f8766d" fill-opacity="0.8"/>
<circle cx="405.0" cy="234.0" r="1.45" fill="#00b8e6" fill-opacity="0.8"/>
<circle cx="458.4" cy="293.4" r="1.45" fill="#00ba38" fill-opacity="0.8"/>
<circle cx="402.2" cy="276.3" r="1.45" fill="#00b8e6" fill-opacity="0.8"/>
<circle cx="402.5" cy="286.1" r="1.45" fill="#f8766d" fill-opacity="0.8"/>
<circle cx="382.2" cy="221.3" r="1.45" fill="#00ba38" fill-opacity="0.8"/>
<circle cx="409.7" cy="268.1" r="1.45" fill="#00b8e6" fill-opacity="0.8"/>
<circle cx="396.5" cy="298.0" r="1.45" fill="#f8766d" fill-opacity="0.8"/>
<circle cx="448.9" cy="294.3" r="1.45" fill="#00ba38" fill-opacity="0.8"/>
<circle cx="380.3" cy="216.9" r="1.45" fill="#00b8e6" fill-opacity="0.8"/>
<circle cx="407.0" cy="215.6" r="1.45" fill="#00b8e6" fill-opacity="0.8"/>
<circle cx="499.9" cy="124.3" r="1.45" fill="#00b8e6" fill-opacity="0.8"/>
<circle cx="404.9" cy="245.5" r="1.45" fill="#00b8e6" fill-opacity="0.8"/>
<circle cx="387.5" cy="287.6" r="1.45" fill="#00b8e6" fill-opacity="0.8"/>
<circle cx="408.8" cy="296.3" r="1.45" fill="#00b8e6" fill-opacity="0.8"/>
<circle cx="398.9" cy="239.7" r="1.45" fill="#00b8e6" fill-opacity="0.8"/>
<circle cx="402.2" cy="241.2" r="1.45" fill="#00b8e6" fill-opacity="0.8"/>
<circle cx="408.5" cy="264.9" r="1.45" fill="#00b8e6" fill-opacity="0.8"/>
<circle cx="399.7" cy="240.2" r="1.45" fill="#00b8e6" fill-opacity="0.8"/>
<circle cx="391.5" cy="191.1" r="1.45" fill="#00b8e6" fill-opacity="0.8"/>
<circle cx="406.4" cy="272.3" r="1.45" fill="#00b8e6" fill-opacity="0.8"/>
<circle cx="391.2" cy="243.1" r="1.45" fill="#f8766d" fill-opacity="0.8"/>
<circle cx="400.5" cy="221.5" r="1.45" fill="#00b8e6" fill-opacity="0.8"/>
<circle cx="383.2" cy="218.7" r="1.45" fill="#00b8e6" fill-opacity="0.8"/>
<circle cx="460.5" cy="255.9" r="1.45" fill="#00ba38" fill-opacity="0.8"/>
<circle cx="407.1" cy="274.0" r="1.45" fill="#f8766d" fill-opacity="0.8"/>
<circle cx="403.1" cy="239.5" r="1.45" fill="#00b8e6" fill-opacity="0.8"/>
<circle cx="401.6" cy="265.5" r="1.45" fill="#00b8e6" fill-opacity="0.8"/>
<circle cx="409.9" cy="271.8" r="1.45" fill="#f8766d" fill-opacity="0.8"/>
<circle cx="387.9" cy="192.8" r="1.45" fill="#00b8e6" fill-opacity="0.8"/>
<circle cx="389.0" cy="186.7" r="1.45" fill="#f8766d" fill-opacity="0.8"/>
<circle cx="405.9" cy="277.0" r="1.45" fill="#00b8e6" fill-opacity="0.8"/>
<circle cx="393.5" cy="219.9" r="1.45" fill="#00b8e6" fill-opacity="0.8"/>
<circle cx="405.8" cy="291.8" r="1.45" fill="#00b8e6" fill-opacity="0.8"/>
<circle cx="410.0" cy="278.2" r="1.45" fill="#f8766d" fill-opacity="0.8"/>
<circle cx="402.7" cy="203.3" r="1.45" fill="#00b8e6" fill-opacity="0.8"/>
<circle cx="478.4" cy="235.6" r="1.45" fill="#00ba38" fill-opacity="0.8"/>
<circle cx="405.7" cy="285.7" r="1.45" fill="#f8766d" fill-opacity="0.8"/>
<circle cx="408.5" cy="230.2" r="1.45" fill="#00b8e6" fill-opacity="0.8"/>
<circle cx="409.1" cy="263.4" r="1.45" fill="#00b8e6" fill-opacity="0.8"/>
<circle cx="448.4" cy="278.3" r="1.45" fill="#00ba38" fill-opacity="0.8"/>
<circle cx="404.7" cy="295.5" r="1.45" fill="#00b8e6" fill-opacity="0.8"/>
<circle cx="385.6" cy="212.9" r="1.45" fill="#00b8e6" fill-opacity="0.8"/>
<circle cx="402.1" cy="213.3" r="1.45" fill="#00b8e6" fill-opacity="0.8"/>
<circle cx="444.8" cy="278.5" r="1.45" fill="#00ba38" fill-opacity="0.8"/>
<circle cx="449.5" cy="296.7" r="1.45" fill="#00ba38" fill-opacity="0.8"/>
<circle cx="406.1" cy="241.3" r="1.45" fill="#00b8e6" fill-opacity="0.8"/>
<circle cx="401.8" cy="245.2" r="1.45" fill="#00b8e6" fill-opacity="0.8"/>
<circle cx="409.4" cy="274.4" r="1.45" fill="#00b8e6" fill-opacity="0.8"/>
<circle cx="408.9" cy="296.3" r="1.45" fill="#f8766d" fill-opacity="0.8"/>
<circle cx="407.7" cy="262.0" r="1.45" fill="#00b8e6" fill-opacity="0.8"/>
<circle cx="405.1" cy="290.6" r="1.45" fill="#00b8e6" fill-opacity="0.8"/>
<circle cx="346.2" cy="255.6" r="1.45" fill="#f8766d" fill-opacity="0.8"/>
<circle cx="408.4" cy="271.0" r="1.45" fill="#00b8e6" fill-opacity="0.8"/>
<circle cx="403.1" cy="232.1" r="1.45" fill="#00b8e6" fill-opacity="0.8"/>
<circle cx="456.4" cy="258.9" r="1.45" fill="#00ba38" fill-opacity="0.8"/>
<circle cx="409.2" cy="265.8" r="1.45" fill="#00b8e6" fill-opacity="0.8"/>
<circle cx="389.9" cy="240.4" r="1.45" fill="#f8766d" fill-opacity="0.8"/>
<circle cx="404.0" cy="293.2" r="1.45" fill="#f8766d" fill-opacity="0.8"/>
<circle cx="457.6" cy="257.3" r="1.45" fill="#00ba38" fill-opacity="0.8"/>
<circle cx="376.3" cy="166.9" r="1.45" fill="#00b8e6" fill-opacity="0.8"/>
<circle cx="397.4" cy="200.8" r="1.45" fill="#00b8e6" fill-opacity="0.8"/>
<circle cx="408.5" cy="253.4" r="1.45" fill="#00b8e6" fill-opacity="0.8"/>
<circle cx="404.6" cy="289.5" r="1.45" fill="#f8766d" fill-opacity="0.8"/>
<circle cx="352.7" cy="225.0" r="1.45" fill="#f8766d" fill-opacity="0.8"/>
<circle cx="383.7" cy="222.8" r="1.45" fill="#f8766d" fill-opacity="0.8"/>
<circle cx="396.8" cy="230.2" r="1.45" fill="#00b8e6" fill-opacity="0.8"/>
<circle cx="471.7" cy="297.5" r="1.45" fill="#f8766d" fill-opacity="0.8"/>
<circle cx="409.3" cy="290.0" r="1.45" fill="#00b8e6" fill-opacity="0.8"/>
<circle cx="411.5" cy="279.6" r="1.45" fill="#00b8e6" fill-opacity="0.8"/>
<circle cx="472.0" cy="258.0" r="1.45" fill="#00ba38" fill-opacity="0.8"/>
<circle cx="459.0" cy="276.2" r="1.45" fill="#00ba38" fill-opacity="0.8"/>
<circle cx="405.9" cy="292.4" r="1.45" fill="#00b8e6" fill-opacity="0.8"/>
<circle cx="396.7" cy="237.4" r="1.45" fill="#00b8e6" fill-opacity="0.8"/>
<circle cx="407.6" cy="255.8" r="1.45" fill="#00b8e6" fill-opacity="0.8"/>
<circle cx="401.8" cy="282.3" r="1.45" fill="#00b8e6" fill-opacity="0.8"/>
<circle cx="456.5" cy="255.5" r="1.45" fill="#00ba38" fill-opacity="0.8"/>
<circle cx="405.1" cy="225.2" r="1.45" fill="#00b8e6" fill-opacity="0.8"/>
<circle cx="454.7" cy="288.5" r="1.45" fill="#00ba38" fill-opacity="0.8"/>
<circle cx="395.5" cy="296.0" r="1.45" fill="#00b8e6" fill-opacity="0.8"/>
<circle cx="448.5" cy="255.9" r="1.45" fill="#00ba38" fill-opacity="0.8"/>
<circle cx="409.0" cy="295.3" r="1.45" fill="#00b8e6" fill-opacity="0.8"/>
<circle cx="464.2" cy="239.3" r="1.45" fill="#00ba38" fill-opacity="0.8"/>
<circle cx="406.0" cy="288.0" r="1.45" fill="#00b8e6" fill-opacity="0.8"/>
<circle cx="376.7" cy="167.3" r="1.45" fill="#00b8e6" fill-opacity="0.8"/>
<circle cx="410.4" cy="248.9" r="1.45" fill="#00b8e6" fill-opacity="0.8"/>
<circle cx="380.6" cy="198.9" r="1.45" fill="#f8766d" fill-opacity="0.8"/>
<circle cx="385.1" cy="223.2" r="1.45" fill="#00b8e6" fill-opacity="0.8"/>
<circle cx="408.5" cy="276.7" r="1.45" fill="#f8766d" fill-opacity="0.8"/>
<circle cx="402.3" cy="201.7" r="1.45" fill="#00b8e6" fill-opacity="0.8"/>
<circle cx="400.1" cy="260.7" r="1.45" fill="#f8766d" fill-opacity="0.8"/>
<circle cx="453.5" cy="227.0" r="1.45" fill="#00ba38" fill-opacity="0.8"/>
<circle cx="410.0" cy="282.6" r="1.45" fill="#f8766d" fill-opacity="0.8"/>
<circle cx="399.0" cy="247.8" r="1.45" fill="#f8766d" fill-opacity="0.8"/>
<circle cx="492.0" cy="217.4" r="1.45" fill="#00b8e6" fill-opacity="0.8"/>
<circle cx="407.9" cy="250.5" r="1.45" fill="#00b8e6" fill-opacity="0.8"/>
<circle cx="461.8" cy="207.0" r="1.45" fill="#00ba38" fill-opacity="0.8"/>
<circle cx="401.8" cy="264.7" r="1.45" fill="#00b8e6" fill-opacity="0.8"/>
<circle cx="396.0" cy="242.0" r="1.45" fill="#00b8e6" fill-opacity="0.8"/>
<circle cx="403.8" cy="291.4" r="1.45" fill="#00b8e6" fill-opacity="0.8"/>
<circle cx="380.6" cy="188.3" r="1.45" fill="#f8766d" fill-opacity="0.8"/>
<circle cx="401.9" cy="252.2" r="1.45" fill="#f8766d" fill-opacity="0.8"/>
<circle cx="407.7" cy="278.6" r="1.45" fill="#00b8e6" fill-opacity="0.8"/>
<circle cx="403.2" cy="223.1" r="1.45" fill="#00b8e6" fill-opacity="0.8"/>
<circle cx="394.2" cy="197.6" r="1.45" fill="#00b8e6" fill-opacity="0.8"/>
<circle cx="365.6" cy="169.3" r="1.45" fill="#00b8e6" fill-opacity="0.8"/>
<circle cx="383.9" cy="189.8" r="1.45" fill="#00b8e6" fill-opacity="0.8"/>
<circle cx="458.5" cy="287.2" r="1.45" fill="#00ba38" fill-opacity="0.8"/>
<circle cx="409.6" cy="277.6" r="1.45" fill="#00b8e6" fill-opacity="0.8"/>
<circle cx="453.8" cy="194.6" r="1.45" fill="#00b8e6" fill-opacity="0.8"/>
<circle cx="409.1" cy="263.6" r="1.45" fill="#00b8e6" fill-opacity="0.8"/>
<circle cx="410.7" cy="264.7" r="1.45" fill="#00b8e6" fill-opacity="0.8"/>
<circle cx="381.1" cy="191.3" r="1.45" fill="#00b8e6" fill-opacity="0.8"/>
<circle cx="403.1" cy="266.9" r="1.45" fill="#00b8e6" fill-opacity="0.8"/>
<circle cx="362.2" cy="157.8" r="1.45" fill="#00b8e6" fill-opacity="0.8"/>
<circle cx="376.5" cy="192.3" r="1.45" fill="#00b8e6" fill-opacity="0.8"/>
<circle cx="407.2" cy="265.3" r="1.45" fill="#00b8e6" fill-opacity="0.8"/>
<circle cx="477.4" cy="179.9" r="1.45" fill="#00ba38" fill-opacity="0.8"/>
<circle cx="446.8" cy="288.1" r="1.45" fill="#00ba38" fill-opacity="0.8"/>
<circle cx="403.4" cy="286.2" r="1.45" fill="#00b8e6" fill-opacity="0.8"/>
<circle cx="405.2" cy="274.1" r="1.45" fill="#00b8e6" fill-opacity="0.8"/>
<circle cx="452.4" cy="286.7" r="1.45" fill="#00ba38" fill-opacity="0.8"/>
<circle cx="395.7" cy="199.1" r="1.45" fill="#00b8e6" fill-opacity="0.8"/>
<circle cx="453.3" cy="275.9" r="1.45" fill="#00ba38" fill-opacity="0.8"/>
<circle cx="447.5" cy="293.0" r="1.45" fill="#00ba38" fill-opacity="0.8"/>
<circle cx="399.9" cy="242.6" r="1.45" fill="#00b8e6" fill-opacity="0.8"/>
<circle cx="392.6" cy="249.3" r="1.45" fill="#00b8e6" fill-opacity="0.8"/>
<circle cx="405.0" cy="250.7" r="1.45" fill="#00b8e6" fill-opacity="0.8"/>
<circle cx="407.5" cy="221.9" r="1.45" fill="#f8766d" fill-opacity="0.8"/>
<circle cx="396.0" cy="287.2" r="1.45" fill="#00ba38" fill-opacity="0.8"/>
<circle cx="407.7" cy="243.4" r="1.45" fill="#00b8e6" fill-opacity="0.8"/>
<circle cx="410.8" cy="242.6" r="1.45" fill="#00b8e6" fill-opacity="0.8"/>
<circle cx="405.7" cy="251.0" r="1.45" fill="#00ba38" fill-opacity="0.8"/>
<circle cx="409.3" cy="277.7" r="1.45" fill="#00ba38" fill-opacity="0.8"/>
<circle cx="468.0" cy="222.3" r="1.45" fill="#00ba38" fill-opacity="0.8"/>
<circle cx="407.6" cy="263.4" r="1.45" fill="#00b8e6" fill-opacity="0.8"/>
<circle cx="406.4" cy="286.3" r="1.45" fill="#f8766d" fill-opacity="0.8"/>
<circle cx="408.1" cy="266.9" r="1.45" fill="#00b8e6" fill-opacity="0.8"/>
<circle cx="374.0" cy="177.8" r="1.45" fill="#f8766d" fill-opacity="0.8"/>
<circle cx="404.8" cy="283.6" r="1.45" fill="#00ba38" fill-opacity="0.8"/>
<circle cx="444.6" cy="297.0" r="1.45" fill="#00ba38" fill-opacity="0.8"/>
<circle cx="408.5" cy="291.9" r="1.45" fill="#00b8e6" fill-opacity="0.8"/>
<circle cx="465.5" cy="241.0" r="1.45" fill="#00ba38" fill-opacity="0.8"/>
<circle cx="391.1" cy="210.6" r="1.45" fill="#00b8e6" fill-opacity="0.8"/>
<circle cx="399.9" cy="274.3" r="1.45" fill="#00b8e6" fill-opacity="0.8"/>
<circle cx="392.5" cy="249.4" r="1.45" fill="#00b8e6" fill-opacity="0.8"/>
<circle cx="465.4" cy="253.5" r="1.45" fill="#00ba38" fill-opacity="0.8"/>
<circle cx="407.8" cy="252.4" r="1.45" fill="#00b8e6" fill-opacity="0.8"/>
<circle cx="407.4" cy="270.0" r="1.45" fill="#00b8e6" fill-opacity="0.8"/>
<circle cx="449.9" cy="282.2" r="1.45" fill="#00ba38" fill-opacity="0.8"/>
<circle cx="410.2" cy="289.4" r="1.45" fill="#00b8e6" fill-opacity="0.8"/>
<circle cx="404.7" cy="284.5" r="1.45" fill="#f8766d" fill-opacity="0.8"/>
<circle cx="404.2" cy="268.3" r="1.45" fill="#00b8e6" fill-opacity="0.8"/>
<circle cx="403.5" cy="229.2" r="1.45" fill="#00b8e6" fill-opacity="0.8"/>
<circle cx="455.0" cy="298.6" r="1.45" fill="#00ba38" fill-opacity="0.8"/>
<circle cx="399.1" cy="235.9" r="1.45" fill="#f8766d" fill-opacity="0.8"/>
<circle cx="410.2" cy="298.5" r="1.45" fill="#00b8e6" fill-opacity="0.8"/>
<circle cx="410.2" cy="239.8" r="1.45" fill="#00b8e6" fill-opacity="0.8"/>
<circle cx="450.9" cy="293.9" r="1.45" fill="#00ba38" fill-opacity="0.8"/>
<circle cx="406.9" cy="286.9" r="1.45" fill="#00b8e6" fill-opacity="0.8"/>
<circle cx="456.6" cy="258.4" r="1.45" fill="#00ba38" fill-opacity="0.8"/>
<circle cx="402.1" cy="274.1" r="1.45" fill="#f8766d" fill-opacity="0.8"/>
<circle cx="396.0" cy="235.5" r="1.45" fill="#f8766d" fill-opacity="0.8"/>
<circle cx="408.3" cy="297.5" r="1.45" fill="#f8766d" fill-opacity="0.8"/>
<circle cx="455.7" cy="277.9" r="1.45" fill="#00ba38" fill-opacity="0.8"/>
<circle cx="459.2" cy="273.3" r="1.45" fill="#00ba38" fill-opacity="0.8"/>
<circle cx="403.4" cy="288.9" r="1.45" fill="#00b8e6" fill-opacity="0.8"/>
<circle cx="392.7" cy="251.3" r="1.45" fill="#00b8e6" fill-opacity="0.8"/>
<circle cx="405.8" cy="231.2" r="1.45" fill="#00ba38" fill-opacity="0.8"/>
<circle cx="460.9" cy="246.5" r="1.45" fill="#00ba38" fill-opacity="0.8"/>
<circle cx="451.5" cy="277.7" r="1.45" fill="#00ba38" fill-opacity="0.8"/>
<circle cx="493.0" cy="261.8" r="1.45" fill="#f8766d" fill-opacity="0.8"/>
<circle cx="406.7" cy="274.2" r="1.45" fill="#f8766d" fill-opacity="0.8"/>
<circle cx="458.5" cy="257.1" r="1.45" fill="#00ba38" fill-opacity="0.8"/>
<circle cx="406.0" cy="273.4" r="1.45" fill="#00b8e6" fill-opacity="0.8"/>
<circle cx="407.8" cy="298.2" r="1.45" fill="#00ba38" fill-opacity="0.8"/>
<circle cx="365.9" cy="188.4" r="1.45" fill="#00ba38" fill-opacity="0.8"/>
<circle cx="403.5" cy="294.9" r="1.45" fill="#00b8e6" fill-opacity="0.8"/>
<circle cx="447.4" cy="282.3" r="1.45" fill="#00ba38" fill-opacity="0.8"/>
<circle cx="395.6" cy="262.6" r="1.45" fill="#00b8e6" fill-opacity="0.8"/>
<circle cx="460.9" cy="200.0" r="1.45" fill="#00ba38" fill-opacity="0.8"/>
<circle cx="394.5" cy="203.0" r="1.45" fill="#f8766d" fill-opacity="0.8"/>
<circle cx="449.5" cy="289.6" r="1.45" fill="#00ba38" fill-opacity="0.8"/>
<circle cx="358.1" cy="138.9" r="1.45" fill="#00b8e6" fill-opacity="0.8"/>
<circle cx="406.2" cy="280.5" r="1.45" fill="#00b8e6" fill-opacity="0.8"/>
<circle cx="407.0" cy="248.0" r="1.45" fill="#00b8e6" fill-opacity="0.8"/>
<circle cx="351.3" cy="151.3" r="1.45" fill="#00b8e6" fill-opacity="0.8"/>
<circle cx="404.7" cy="258.7" r="1.45" fill="#00b8e6" fill-opacity="0.8"/>
<circle cx="382.5" cy="199.6" r="1.45" fill="#00b8e6" fill-opacity="0.8"/>
<circle cx="480.7" cy="233.4" r="1.45" fill="#00ba38" fill-opacity="0.8"/>
<circle cx="398.8" cy="231.6" r="1.45" fill="#00b8e6" fill-opacity="0.8"/>
<circle cx="384.7" cy="197.7" r="1.45" fill="#00b8e6" fill-opacity="0.8"/>
<circle cx="461.3" cy="235.0" r="1.45" fill="#00ba38" fill-opacity="0.8"/>
<circle cx="371.1" cy="171.2" r="1.45" fill="#00b8e6" fill-opacity="0.8"/>
<circle cx="394.2" cy="198.8" r="1.45" fill="#00b8e6" fill-opacity="0.8"/>
<circle cx="400.0" cy="246.6" r="1.45" fill="#00b8e6" fill-opacity="0.8"/>
<circle cx="409.5" cy="291.8" r="1.45" fill="#00b8e6" fill-opacity="0.8"/>
<circle cx="395.7" cy="221.6" r="1.45" fill="#00b8e6" fill-opacity="0.8"/>
<circle cx="393.1" cy="223.5" r="1.45" fill="#f8766d" fill-opacity="0.8"/>
<circle cx="456.8" cy="284.3" r="1.45" fill="#00ba38" fill-opacity="0.8"/>
<circle cx="409.2" cy="295.1" r="1.45" fill="#00b8e6" fill-opacity="0.8"/>
<circle cx="409.3" cy="272.0" r="1.45" fill="#f8766d" fill-opacity="0.8"/>
<circle cx="408.0" cy="287.4" r="1.45" fill="#f8766d" fill-opacity="0.8"/>
<circle cx="376.2" cy="167.9" r="1.45" fill="#00b8e6" fill-opacity="0.8"/>
<circle cx="446.0" cy="279.4" r="1.45" fill="#00b8e6" fill-opacity="0.8"/>
<circle cx="406.6" cy="251.3" r="1.45" fill="#00b8e6" fill-opacity="0.8"/>
<circle cx="408.4" cy="277.0" r="1.45" fill="#00b8e6" fill-opacity="0.8"/>
<circle cx="408.5" cy="279.9" r="1.45" fill="#00b8e6" fill-opacity="0.8"/>
<circle cx="370.2" cy="166.5" r="1.45" fill="#00b8e6" fill-opacity="0.8"/>
<circle cx="411.4" cy="278.1" r="1.45" fill="#00b8e6" fill-opacity="0.8"/>
<circle cx="409.3" cy="255.4" r="1.45" fill="#00b8e6" fill-opacity="0.8"/>
<circle cx="388.4" cy="223.9" r="1.45" fill="#f8766d" fill-opacity="0.8"/>
<circle cx="406.6" cy="250.6" r="1.45" fill="#00b8e6" fill-opacity="0.8"/>
<circle cx="406.2" cy="283.9" r="1.45" fill="#00b8e6" fill-opacity="0.8"/>
<circle cx="405.1" cy="287.8" r="1.45" fill="#00b8e6" fill-opacity="0.8"/>
<circle cx="456.2" cy="242.0" r="1.45" fill="#00ba38" fill-opacity="0.8"/>
<circle cx="403.1" cy="258.8" r="1.45" fill="#00b8e6" fill-opacity="0.8"/>
<circle cx="411.4" cy="284.0" r="1.45" fill="#00b8e6" fill-opacity="0.8"/>
<circle cx="410.1" cy="298.7" r="1.45" fill="#00b8e6" fill-opacity="0.8"/>
<circle cx="408.3" cy="266.6" r="1.45" fill="#00b8e6" fill-opacity="0.8"/>
<circle cx="409.6" cy="299.2" r="1.45" fill="#00b8e6" fill-opacity="0.8"/>
<circle cx="465.8" cy="240.7" r="1.45" fill="#00ba38" fill-opacity="0.8"/>
<circle cx="394.7" cy="225.0" r="1.45" fill="#00b8e6" fill-opacity="0.8"/>
<circle cx="448.5" cy="283.8" r="1.45" fill="#00ba38" fill-opacity="0.8"/>
<circle cx="406.6" cy="284.1" r="1.45" fill="#f8766d" fill-opacity="0.8"/>
<circle cx="408.8" cy="275.5" r="1.45" fill="#00b8e6" fill-opacity="0.8"/>
<circle cx="406.9" cy="287.0" r="1.45" fill="#f8766d" fill-opacity="0.8"/>
<circle cx="402.6" cy="283.6" r="1.45" fill="#f8766d" fill-opacity="0.8"/>
<circle cx="408.2" cy="287.0" r="1.45" fill="#f8766d" fill-opacity="0.8"/>
<circle cx="403.0" cy="260.4" r="1.45" fill="#00b8e6" fill-opacity="0.8"/>
<circle cx="407.7" cy="278.6" r="1.45" fill="#00b8e6" fill-opacity="0.8"/>
<circle cx="411.5" cy="280.9" r="1.45" fill="#00b8e6" fill-opacity="0.8"/>
<circle cx="392.8" cy="199.3" r="1.45" fill="#f8766d" fill-opacity="0.8"/>
<circle cx="404.2" cy="281.1" r="1.45" fill="#00b8e6" fill-opacity="0.8"/>
<circle cx="408.6" cy="255.8" r="1.45" fill="#00b8e6" fill-opacity="0.8"/>
<circle cx="367.3" cy="176.3" r="1.45" fill="#f8766d" fill-opacity="0.8"/>
<circle cx="471.2" cy="249.4" r="1.45" fill="#00ba38" fill-opacity="0.8"/>
<circle cx="379.0" cy="195.5" r="1.45" fill="#00b8e6" fill-opacity="0.8"/>
<circle cx="409.2" cy="246.5" r="1.45" fill="#00b8e6" fill-opacity="0.8"/>
<circle cx="402.7" cy="276.6" r="1.45" fill="#f8766d" fill-opacity="0.8"/>
<circle cx="405.4" cy="241.2" r="1.45" fill="#f8766d" fill-opacity="0.8"/>
<circle cx="445.7" cy="273.1" r="1.45" fill="#00ba38" fill-opacity="0.8"/>
<circle cx="452.6" cy="283.5" r="1.45" fill="#00ba38" fill-opacity="0.8"/>
<circle cx="460.5" cy="221.6" r="1.45" fill="#00ba38" fill-opacity="0.8"/>
<circle cx="404.9" cy="262.5" r="1.45" fill="#f8766d" fill-opacity="0.8"/>
<circle cx="399.4" cy="270.1" r="1.45" fill="#00ba38" fill-opacity="0.8"/>
<circle cx="376.4" cy="195.9" r="1.45" fill="#f8766d" fill-opacity="0.8"/>
<circle cx="404.2" cy="248.9" r="1.45" fill="#00b8e6" fill-opacity="0.8"/>
<circle cx="409.8" cy="290.9" r="1.45" fill="#00b8e6" fill-opacity="0.8"/>
<circle cx="466.1" cy="215.1" r="1.45" fill="#00ba38" fill-opacity="0.8"/>
<circle cx="394.6" cy="247.3" r="1.45" fill="#00b8e6" fill-opacity="0.8"/>
<circle cx="407.5" cy="282.9" r="1.45" fill="#00b8e6" fill-opacity="0.8"/>
<circle cx="449.0" cy="279.3" r="1.45" fill="#00ba38" fill-opacity="0.8"/>
<circle cx="386.5" cy="242.0" r="1.45" fill="#f8766d" fill-opacity="0.8"/>
<circle cx="393.9" cy="221.2" r="1.45" fill="#00b8e6" fill-opacity="0.8"/>
<circle cx="458.1" cy="263.0" r="1.45" fill="#00ba38" fill-opacity="0.8"/>
<circle cx="407.8" cy="263.4" r="1.45" fill="#00b8e6" fill-opacity="0.8"/>
<circle cx="406.4" cy="290.2" r="1.45" fill="#00b8e6" fill-opacity="0.8"/>
<circle cx="460.8" cy="282.3" r="1.45" fill="#00ba38" fill-opacity="0.8"/>
<circle cx="407.1" cy="225.2" r="1.45" fill="#00b8e6" fill-opacity="0.8"/>
<circle cx="401.3" cy="213.8" r="1.45" fill="#00b8e6" fill-opacity="0.8"/>
<circle cx="409.9" cy="260.7" r="1.45" fill="#00b8e6" fill-opacity="0.8"/>
<circle cx="403.8" cy="282.9" r="1.45" fill="#f8766d" fill-opacity="0.8"/>
<circle cx="408.4" cy="270.2" r="1.45" fill="#00b8e6" fill-opacity="0.8"/>
<circle cx="453.4" cy="295.7" r="1.45" fill="#00ba38" fill-opacity="0.8"/>
<circle cx="408.7" cy="295.3" r="1.45" fill="#00b8e6" fill-opacity="0.8"/>
<circle cx="447.5" cy="281.0" r="1.45" fill="#00ba38" fill-opacity="0.8"/>
<circle cx="406.3" cy="290.2" r="1.45" fill="#00b8e6" fill-opacity="0.8"/>
<circle cx="387.8" cy="187.7" r="1.45" fill="#f8766d" fill-opacity="0.8"/>
<circle cx="445.8" cy="297.6" r="1.45" fill="#00ba38" fill-opacity="0.8"/>
<circle cx="400.9" cy="211.8" r="1.45" fill="#00b8e6" fill-opacity="0.8"/>
<circle cx="393.5" cy="216.0" r="1.45" fill="#00b8e6" fill-opacity="0.8"/>
<circle cx="399.9" cy="244.3" r="1.45" fill="#00b8e6" fill-opacity="0.8"/>
<circle cx="489.8" cy="252.6" r="1.45" fill="#f8766d" fill-opacity="0.8"/>
<circle cx="451.3" cy="263.6" r="1.45" fill="#00ba38" fill-opacity="0.8"/>
<circle cx="405.7" cy="286.6" r="1.45" fill="#f8766d" fill-opacity="0.8"/>
<circle cx="453.5" cy="265.5" r="1.45" fill="#00ba38" fill-opacity="0.8"/>
<circle cx="408.0" cy="271.4" r="1.45" fill="#f8766d" fill-opacity="0.8"/>
<circle cx="385.5" cy="229.7" r="1.45" fill="#f8766d" fill-opacity="0.8"/>
<circle cx="398.3" cy="217.4" r="1.45" fill="#00ba38" fill-opacity="0.8"/>
<circle cx="400.9" cy="242.3" r="1.45" fill="#f8766d" fill-opacity="0.8"/>
<circle cx="405.9" cy="221.1" r="1.45" fill="#00b8e6" fill-opacity="0.8"/>
<circle cx="401.4" cy="248.0" r="1.45" fill="#f8766d" fill-opacity="0.8"/>
<circle cx="459.8" cy="258.9" r="1.45" fill="#00ba38" fill-opacity="0.8"/>
<circle cx="406.5" cy="285.3" r="1.45" fill="#00b8e6" fill-opacity="0.8"/>
<circle cx="405.9" cy="293.8" r="1.45" fill="#f8766d" fill-opacity="0.8"/>
<circle cx="387.6" cy="288.0" r="1.45" fill="#00b8e6" fill-opacity="0.8"/>
<circle cx="406.2" cy="278.7" r="1.45" fill="#00b8e6" fill-opacity="0.8"/>
<circle cx="403.8" cy="239.2" r="1.45" fill="#00b8e6" fill-opacity="0.8"/>
<circle cx="406.8" cy="277.2" r="1.45" fill="#00b8e6" fill-opacity="0.8"/>
<circle cx="401.3" cy="259.8" r="1.45" fill="#00b8e6" fill-opacity="0.8"/>
<circle cx="400.4" cy="278.3" r="1.45" fill="#f8766d" fill-opacity="0.8"/>
<circle cx="406.1" cy="265.0" r="1.45" fill="#00b8e6" fill-opacity="0.8"/>
<circle cx="406.6" cy="212.5" r="1.45" fill="#00b8e6" fill-opacity="0.8"/>
<circle cx="407.7" cy="246.2" r="1.45" fill="#00b8e6" fill-opacity="0.8"/>
<circle cx="397.8" cy="200.8" r="1.45" fill="#00b8e6" fill-opacity="0.8"/>
<circle cx="408.1" cy="275.5" r="1.45" fill="#00b8e6" fill-opacity="0.8"/>
<circle cx="402.4" cy="271.9" r="1.45" fill="#f8766d" fill-opacity="0.8"/>
<circle cx="402.4" cy="250.1" r="1.45" fill="#00b8e6" fill-opacity="0.8"/>
<circle cx="404.6" cy="271.9" r="1.45" fill="#00b8e6" fill-opacity="0.8"/>
<circle cx="403.4" cy="284.0" r="1.45" fill="#f8766d" fill-opacity="0.8"/>
<circle cx="409.2" cy="245.9" r="1.45" fill="#00b8e6" fill-opacity="0.8"/>
<circle cx="409.1" cy="260.6" r="1.45" fill="#f8766d" fill-opacity="0.8"/>
<circle cx="398.1" cy="231.8" r="1.45" fill="#00b8e6" fill-opacity="0.8"/>
<circle cx="390.6" cy="218.9" r="1.45" fill="#00b8e6" fill-opacity="0.8"/>
<circle cx="450.3" cy="298.1" r="1.45" fill="#00ba38" fill-opacity="0.8"/>
<circle cx="408.5" cy="231.1" r="1.45" fill="#00b8e6" fill-opacity="0.8"/>
<circle cx="398.5" cy="246.1" r="1.45" fill="#00b8e6" fill-opacity="0.8"/>
<circle cx="400.5" cy="256.0" r="1.45" fill="#00b8e6" fill-opacity="0.8"/>
<circle cx="385.1" cy="183.2" r="1.45" fill="#00b8e6" fill-opacity="0.8"/>
<circle cx="400.5" cy="236.1" r="1.45" fill="#00b8e6" fill-opacity="0.8"/>
<circle cx="387.1" cy="204.0" r="1.45" fill="#00b8e6" fill-opacity="0.8"/>
<circle cx="353.7" cy="148.6" r="1.45" fill="#00b8e6" fill-opacity="0.8"/>
<circle cx="389.6" cy="215.2" r="1.45" fill="#00b8e6" fill-opacity="0.8"/>
<circle cx="359.3" cy="143.1" r="1.45" fill="#00b8e6" fill-opacity="0.8"/>
<circle cx="396.0" cy="265.5" r="1.45" fill="#00b8e6" fill-opacity="0.8"/>
<circle cx="400.5" cy="227.7" r="1.45" fill="#00b8e6" fill-opacity="0.8"/>
<circle cx="397.0" cy="220.1" r="1.45" fill="#00b8e6" fill-opacity="0.8"/>
<circle cx="384.0" cy="224.4" r="1.45" fill="#f8766d" fill-opacity="0.8"/>
<circle cx="379.1" cy="212.3" r="1.45" fill="#00b8e6" fill-opacity="0.8"/>
<circle cx="471.5" cy="242.7" r="1.45" fill="#00ba38" fill-opacity="0.8"/>
<circle cx="400.6" cy="241.7" r="1.45" fill="#00b8e6" fill-opacity="0.8"/>
<circle cx="404.6" cy="228.7" r="1.45" fill="#00b8e6" fill-opacity="0.8"/>
<circle cx="357.1" cy="153.5" r="1.45" fill="#00b8e6" fill-opacity="0.8"/>
<circle cx="410.8" cy="286.7" r="1.45" fill="#00b8e6" fill-opacity="0.8"/>
<circle cx="395.9" cy="236.1" r="1.45" fill="#f8766d" fill-opacity="0.8"/>
<circle cx="466.8" cy="223.5" r="1.45" fill="#00ba38" fill-opacity="0.8"/>
<circle cx="455.0" cy="270.6" r="1.45" fill="#00ba38" fill-opacity="0.8"/>
<circle cx="392.0" cy="277.0" r="1.45" fill="#f8766d" fill-opacity="0.8"/>
<circle cx="399.5" cy="274.4" r="1.45" fill="#00b8e6" fill-opacity="0.8"/>
<circle cx="407.2" cy="242.0" r="1.45" fill="#f8766d" fill-opacity="0.8"/>
<circle cx="399.2" cy="257.3" r="1.45" fill="#00b8e6" fill-opacity="0.8"/>
<circle cx="408.6" cy="264.6" r="1.45" fill="#f8766d" fill-opacity="0.8"/>
<circle cx="405.4" cy="296.4" r="1.45" fill="#00b8e6" fill-opacity="0.8"/>
<circle cx="401.3" cy="212.3" r="1.45" fill="#00b8e6" fill-opacity="0.8"/>
<circle cx="448.9" cy="293.3" r="1.45" fill="#00ba38" fill-opacity="0.8"/>
<circle cx="406.4" cy="299.3" r="1.45" fill="#00b8e6" fill-opacity="0.8"/>
<circle cx="409.4" cy="296.9" r="1.45" fill="#f8766d" fill-opacity="0.8"/>
<circle cx="406.4" cy="299.3" r="1.45" fill="#f8766d" fill-opacity="0.8"/>
<circle cx="394.9" cy="250.8" r="1.45" fill="#f8766d" fill-opacity="0.8"/>
<circle cx="399.0" cy="229.1" r="1.45" fill="#00b8e6" fill-opacity="0.8"/>
<circle cx="367.6" cy="167.3" r="1.45" fill="#00b8e6" fill-opacity="0.8"/>
<circle cx="448.9" cy="297.7" r="1.45" fill="#00ba38" fill-opacity="0.8"/>
<circle cx="485.6" cy="266.1" r="1.45" fill="#f8766d" fill-opacity="0.8"/>
<circle cx="407.6" cy="275.8" r="1.45" fill="#f8766d" fill-opacity="0.8"/>
<circle cx="462.8" cy="270.9" r="1.45" fill="#00ba38" fill-opacity="0.8"/>
<circle cx="403.8" cy="231.1" r="1.45" fill="#00b8e6" fill-opacity="0.8"/>
<circle cx="409.8" cy="298.8" r="1.45" fill="#00b8e6" fill-opacity="0.8"/>
<circle cx="397.2" cy="251.5" r="1.45" fill="#f8766d" fill-opacity="0.8"/>
<circle cx="407.0" cy="277.5" r="1.45" fill="#00b8e6" fill-opacity="0.8"/>
<circle cx="405.0" cy="277.3" r="1.45" fill="#00b8e6" fill-opacity="0.8"/>
<circle cx="445.7" cy="298.0" r="1.45" fill="#00ba38" fill-opacity="0.8"/>
<circle cx="410.5" cy="298.9" r="1.45" fill="#00b8e6" fill-opacity="0.8"/>
<circle cx="395.0" cy="283.0" r="1.45" fill="#00b8e6" fill-opacity="0.8"/>
<circle cx="462.2" cy="264.5" r="1.45" fill="#00ba38" fill-opacity="0.8"/>
<circle cx="395.4" cy="236.3" r="1.45" fill="#f8766d" fill-opacity="0.8"/>
<circle cx="369.0" cy="192.8" r="1.45" fill="#00b8e6" fill-opacity="0.8"/>
<circle cx="409.2" cy="291.7" r="1.45" fill="#00b8e6" fill-opacity="0.8"/>
<circle cx="401.1" cy="277.5" r="1.45" fill="#f8766d" fill-opacity="0.8"/>
<circle cx="401.4" cy="208.8" r="1.45" fill="#00b8e6" fill-opacity="0.8"/>
<circle cx="471.0" cy="298.2" r="1.45" fill="#00b8e6" fill-opacity="0.8"/>
<circle cx="404.6" cy="212.6" r="1.45" fill="#00b8e6" fill-opacity="0.8"/>
<circle cx="395.2" cy="228.4" r="1.45" fill="#00b8e6" fill-opacity="0.8"/>
<circle cx="396.1" cy="208.5" r="1.45" fill="#f8766d" fill-opacity="0.8"/>
<circle cx="358.7" cy="143.8" r="1.45" fill="#00b8e6" fill-opacity="0.8"/>
<circle cx="450.5" cy="281.1" r="1.45" fill="#00ba38" fill-opacity="0.8"/>
<circle cx="393.0" cy="231.4" r="1.45" fill="#f8766d" fill-opacity="0.8"/>
<circle cx="411.2" cy="284.0" r="1.45" fill="#00b8e6" fill-opacity="0.8"/>
<circle cx="408.9" cy="257.3" r="1.45" fill="#00b8e6" fill-opacity="0.8"/>
<circle cx="404.5" cy="245.8" r="1.45" fill="#00b8e6" fill-opacity="0.8"/>
<circle cx="403.8" cy="289.4" r="1.45" fill="#f8766d" fill-opacity="0.8"/>
<circle cx="454.9" cy="266.8" r="1.45" fill="#00ba38" fill-opacity="0.8"/>
<circle cx="376.0" cy="211.6" r="1.45" fill="#00b8e6" fill-opacity="0.8"/>
<circle cx="405.8" cy="297.2" r="1.45" fill="#00b8e6" fill-opacity="0.8"/>
<circle cx="402.8" cy="212.1" r="1.45" fill="#00b8e6" fill-opacity="0.8"/>
<circle cx="404.3" cy="267.6" r="1.45" fill="#00b8e6" fill-opacity="0.8"/>
<circle cx="410.5" cy="277.2" r="1.45" fill="#00b8e6" fill-opacity="0.8"/>
<circle cx="460.3" cy="239.9" r="1.45" fill="#00ba38" fill-opacity="0.8"/>
<circle cx="398.5" cy="229.9" r="1.45" fill="#00b8e6" fill-opacity="0.8"/>
<circle cx="409.3" cy="283.3" r="1.45" fill="#00b8e6" fill-opacity="0.8"/>
<circle cx="395.0" cy="270.0" r="1.45" fill="#f8766d" fill-opacity="0.8"/>
<circle cx="369.1" cy="178.2" r="1.45" fill="#00b8e6" fill-opacity="0.8"/>
<circle cx="407.7" cy="297.2" r="1.45" fill="#f8766d" fill-opacity="0.8"/>
<circle cx="395.5" cy="232.7" r="1.45" fill="#00ba38" fill-opacity="0.8"/>
<circle cx="407.9" cy="284.9" r="1.45" fill="#00b8e6" fill-opacity="0.8"/>
<circle cx="409.6" cy="268.5" r="1.45" fill="#00b8e6" fill-opacity="0.8"/>
<circle cx="407.1" cy="230.9" r="1.45" fill="#00b8e6" fill-opacity="0.8"/>
<circle cx="448.2" cy="213.8" r="1.45" fill="#f8766d" fill-opacity="0.8"/>
<circle cx="407.3" cy="273.5" r="1.45" fill="#00b8e6" fill-opacity="0.8"/>
<circle cx="410.2" cy="251.4" r="1.45" fill="#00b8e6" fill-opacity="0.8"/>
<circle cx="409.7" cy="297.9" r="1.45" fill="#f8766d" fill-opacity="0.8"/>
<circle cx="465.3" cy="269.7" r="1.45" fill="#f8766d" fill-opacity="0.8"/>
<circle cx="388.1" cy="278.0" r="1.45" fill="#00ba38" fill-opacity="0.8"/>
<circle cx="408.4" cy="237.2" r="1.45" fill="#f8766d" fill-opacity="0.8"/>
<circle cx="373.8" cy="173.6" r="1.45" fill="#00b8e6" fill-opacity="0.8"/>
<circle cx="471.1" cy="227.6" r="1.45" fill="#00ba38" fill-opacity="0.8"/>
<circle cx="446.3" cy="293.8" r="1.45" fill="#00ba38" fill-opacity="0.8"/>
<circle cx="400.9" cy="210.1" r="1.45" fill="#00b8e6" fill-opacity="0.8"/>
<circle cx="476.9" cy="273.4" r="1.45" fill="#00ba38" fill-opacity="0.8"/>
<circle cx="404.3" cy="276.7" r="1.45" fill="#f8766d" fill-opacity="0.8"/>
<circle cx="455.9" cy="208.7" r="1.45" fill="#00ba38" fill-opacity="0.8"/>
<circle cx="401.8" cy="218.7" r="1.45" fill="#00b8e6" fill-opacity="0.8"/>
<circle cx="381.3" cy="179.3" r="1.45" fill="#f8766d" fill-opacity="0.8"/>
<circle cx="403.7" cy="297.8" r="1.45" fill="#00b8e6" fill-opacity="0.8"/>
<circle cx="403.7" cy="228.4" r="1.45" fill="#00b8e6" fill-opacity="0.8"/>
<circle cx="382.0" cy="192.0" r="1.45" fill="#00b8e6" fill-opacity="0.8"/>
<circle cx="410.2" cy="275.5" r="1.45" fill="#00b8e6" fill-opacity="0.8"/>
<circle cx="403.1" cy="285.5" r="1.45" fill="#f8766d" fill-opacity="0.8"/>
<circle cx="409.0" cy="293.4" r="1.45" fill="#00b8e6" fill-opacity="0.8"/>
<circle cx="404.2" cy="247.4" r="1.45" fill="#00b8e6" fill-opacity="0.8"/>
<circle cx="410.4" cy="264.5" r="1.45" fill="#00b8e6" fill-opacity="0.8"/>
<circle cx="402.2" cy="245.8" r="1.45" fill="#00b8e6" fill-opacity="0.8"/>
<circle cx="409.9" cy="288.9" r="1.45" fill="#00b8e6" fill-opacity="0.8"/>
<circle cx="462.2" cy="271.8" r="1.45" fill="#00ba38" fill-opacity="0.8"/>
<circle cx="475.1" cy="198.1" r="1.45" fill="#00ba38" fill-opacity="0.8"/>
<circle cx="405.3" cy="280.9" r="1.45" fill="#00b8e6" fill-opacity="0.8"/>
<circle cx="384.3" cy="196.3" r="1.45" fill="#f8766d" fill-opacity="0.8"/>
<circle cx="397.7" cy="247.9" r="1.45" fill="#00b8e6" fill-opacity="0.8"/>
<circle cx="409.5" cy="279.1" r="1.45" fill="#00b8e6" fill-opacity="0.8"/>
<circle cx="455.4" cy="250.6" r="1.45" fill="#00ba38" fill-opacity="0.8"/>
<circle cx="404.0" cy="242.0" r="1.45" fill="#00b8e6" fill-opacity="0.8"/>
<circle cx="410.0" cy="269.7" r="1.45" fill="#f8766d" fill-opacity="0.8"/>
<circle cx="408.8" cy="251.9" r="1.45" fill="#00b8e6" fill-opacity="0.8"/>
<circle cx="456.0" cy="292.2" r="1.45" fill="#00ba38" fill-opacity="0.8"/>
<circle cx="408.5" cy="279.8" r="1.45" fill="#00b8e6" fill-opacity="0.8"/>
<circle cx="399.5" cy="230.3" r="1.45" fill="#f8766d" fill-opacity="0.8"/>
<circle cx="402.0" cy="263.2" r="1.45" fill="#00b8e6" fill-opacity="0.8"/>
<circle cx="410.8" cy="291.2" r="1.45" fill="#00b8e6" fill-opacity="0.8"/>
<circle cx="453.8" cy="297.1" r="1.45" fill="#00ba38" fill-opacity="0.8"/>
<circle cx="389.2" cy="238.1" r="1.45" fill="#00b8e6" fill-opacity="0.8"/>
<circle cx="393.4" cy="214.0" r="1.45" fill="#f8766d" fill-opacity="0.8"/>
<circle cx="453.7" cy="224.8" r="1.45" fill="#00ba38" fill-opacity="0.8"/>
<circle cx="397.9" cy="240.7" r="1.45" fill="#00ba38" fill-opacity="0.8"/>
<circle cx="462.9" cy="246.5" r="1.45" fill="#00ba38" fill-opacity="0.8"/>
<circle cx="452.3" cy="285.3" r="1.45" fill="#00ba38" fill-opacity="0.8"/>
<circle cx="399.3" cy="264.3" r="1.45" fill="#00b8e6" fill-opacity="0.8"/>
<circle cx="410.4" cy="277.4" r="1.45" fill="#00b8e6" fill-opacity="0.8"/>
<circle cx="403.6" cy="282.0" r="1.45" fill="#f8766d" fill-opacity="0.8"/>
<circle cx="399.4" cy="258.4" r="1.45" fill="#00b8e6" fill-opacity="0.8"/>
<circle cx="336.0" cy="157.0" r="1.45" fill="#f8766d" fill-opacity="0.8"/>
<circle cx="400.2" cy="223.6" r="1.45" fill="#00ba38" fill-opacity="0.8"/>
<circle cx="473.2" cy="207.6" r="1.45" fill="#00ba38" fill-opacity="0.8"/>
<circle cx="411.0" cy="256.5" r="1.45" fill="#00b8e6" fill-opacity="0.8"/>
<circle cx="409.1" cy="296.2" r="1.45" fill="#00b8e6" fill-opacity="0.8"/>
<circle cx="453.8" cy="280.1" r="1.45" fill="#00ba38" fill-opacity="0.8"/>
<circle cx="394.9" cy="243.7" r="1.45" fill="#f8766d" fill-opacity="0.8"/>
<circle cx="405.8" cy="231.4" r="1.45" fill="#00b8e6" fill-opacity="0.8"/>
<circle cx="410.9" cy="292.0" r="1.45" fill="#00b8e6" fill-opacity="0.8"/>
<circle cx="408.4" cy="271.4" r="1.45" fill="#00b8e6" fill-opacity="0.8"/>
<circle cx="408.2" cy="295.0" r="1.45" fill="#f8766d" fill-opacity="0.8"/>
<circle cx="472.7" cy="241.5" r="1.45" fill="#00b8e6" fill-opacity="0.8"/>
<circle cx="403.0" cy="266.7" r="1.45" fill="#00b8e6" fill-opacity="0.8"/>
<circle cx="469.0" cy="217.5" r="1.45" fill="#00ba38" fill-opacity="0.8"/>
<circle cx="393.4" cy="218.4" r="1.45" fill="#00b8e6" fill-opacity="0.8"/>
<circle cx="407.4" cy="269.7" r="1.45" fill="#00b8e6" fill-opacity="0.8"/>
<circle cx="405.9" cy="270.1" r="1.45" fill="#f8766d" fill-opacity="0.8"/>
<circle cx="405.4" cy="287.3" r="1.45" fill="#f8766d" fill-opacity="0.8"/>
<circle cx="482.6" cy="214.9" r="1.45" fill="#00ba38" fill-opacity="0.8"/>
<circle cx="390.4" cy="267.0" r="1.45" fill="#f8766d" fill-opacity="0.8"/>
<circle cx="453.2" cy="290.3" r="1.45" fill="#00ba38" fill-opacity="0.8"/>
<circle cx="366.7" cy="171.9" r="1.45" fill="#00b8e6" fill-opacity="0.8"/>
<circle cx="410.0" cy="270.6" r="1.45" fill="#00b8e6" fill-opacity="0.8"/>
<circle cx="476.9" cy="268.6" r="1.45" fill="#00ba38" fill-opacity="0.8"/>
<circle cx="396.4" cy="243.3" r="1.45" fill="#f8766d" fill-opacity="0.8"/>
<circle cx="453.7" cy="298.1" r="1.45" fill="#00ba38" fill-opacity="0.8"/>
<circle cx="375.4" cy="203.8" r="1.45" fill="#f8766d" fill-opacity="0.8"/>
<circle cx="403.0" cy="252.8" r="1.45" fill="#00b8e6" fill-opacity="0.8"/>
<circle cx="410.4" cy="251.5" r="1.45" fill="#f8766d" fill-opacity="0.8"/>
<circle cx="401.4" cy="273.2" r="1.45" fill="#f8766d" fill-opacity="0.8"/>
<circle cx="453.7" cy="288.5" r="1.45" fill="#00ba38" fill-opacity="0.8"/>
<circle cx="403.1" cy="279.2" r="1.45" fill="#00b8e6" fill-opacity="0.8"/>
<circle cx="406.9" cy="255.2" r="1.45" fill="#00b8e6" fill-opacity="0.8"/>
<circle cx="405.7" cy="261.3" r="1.45" fill="#f8766d" fill-opacity="0.8"/>
<circle cx="410.1" cy="296.4" r="1.45" fill="#f8766d" fill-opacity="0.8"/>
<circle cx="398.2" cy="216.5" r="1.45" fill="#f8766d" fill-opacity="0.8"/>
<circle cx="407.1" cy="234.6" r="1.45" fill="#00b8e6" fill-opacity="0.8"/>
<circle cx="401.9" cy="261.6" r="1.45" fill="#00b8e6" fill-opacity="0.8"/>
<circle cx="379.1" cy="189.9" r="1.45" fill="#00b8e6" fill-opacity="0.8"/>
<circle cx="494.1" cy="237.0" r="1.45" fill="#f8766d" fill-opacity="0.8"/>
<circle cx="392.2" cy="229.9" r="1.45" fill="#f8766d" fill-opacity="0.8"/>
<circle cx="360.9" cy="175.3" r="1.45" fill="#f8766d" fill-opacity="0.8"/>
<circle cx="367.3" cy="188.5" r="1.45" fill="#f8766d" fill-opacity="0.8"/>
<circle cx="453.8" cy="295.4" r="1.45" fill="#00ba38" fill-opacity="0.8"/>
<circle cx="406.9" cy="258.8" r="1.45" fill="#00b8e6" fill-opacity="0.8"/>
<circle cx="411.1" cy="272.3" r="1.45" fill="#f8766d" fill-opacity="0.8"/>
<circle cx="385.4" cy="189.6" r="1.45" fill="#00b8e6" fill-opacity="0.8"/>
<circle cx="403.8" cy="264.5" r="1.45" fill="#00b8e6" fill-opacity="0.8"/>
<circle cx="409.6" cy="298.4" r="1.45" fill="#f8766d" fill-opacity="0.8"/>
<circle cx="411.3" cy="272.0" r="1.45" fill="#00b8e6" fill-opacity="0.8"/>
<circle cx="445.8" cy="293.2" r="1.45" fill="#00ba38" fill-opacity="0.8"/>
<circle cx="403.8" cy="208.6" r="1.45" fill="#f8766d" fill-opacity="0.8"/>
<circle cx="406.2" cy="277.8" r="1.45" fill="#f8766d" fill-opacity="0.8"/>
<circle cx="450.6" cy="249.4" r="1.45" fill="#00ba38" fill-opacity="0.8"/>
<circle cx="406.8" cy="279.1" r="1.45" fill="#f8766d" fill-opacity="0.8"/>
<circle cx="409.5" cy="295.4" r="1.45" fill="#00b8e6" fill-opacity="0.8"/>
<circle cx="385.7" cy="192.6" r="1.45" fill="#f8766d" fill-opacity="0.8"/>
<circle cx="406.8" cy="245.1" r="1.45" fill="#00b8e6" fill-opacity="0.8"/>
<circle cx="457.0" cy="266.9" r="1.45" fill="#00ba38" fill-opacity="0.8"/>
<circle cx="407.2" cy="297.7" r="1.45" fill="#00b8e6" fill-opacity="0.8"/>
<circle cx="450.5" cy="271.2" r="1.45" fill="#00ba38" fill-opacity="0.8"/>
<circle cx="460.4" cy="247.7" r="1.45" fill="#00ba38" fill-opacity="0.8"/>
<circle cx="513.4" cy="139.7" r="1.45" fill="#f8766d" fill-opacity="0.8"/>
<circle cx="490.9" cy="240.9" r="1.45" fill="#00ba38" fill-opacity="0.8"/>
<circle cx="397.4" cy="241.6" r="1.45" fill="#f8766d" fill-opacity="0.8"/>
<circle cx="406.1" cy="238.8" r="1.45" fill="#00b8e6" fill-opacity="0.8"/>
<circle cx="408.8" cy="282.2" r="1.45" fill="#f8766d" fill-opacity="0.8"/>
<circle cx="456.5" cy="298.9" r="1.45" fill="#00ba38" fill-opacity="0.8"/>
<circle cx="447.7" cy="275.8" r="1.45" fill="#00ba38" fill-opacity="0.8"/>
<circle cx="459.5" cy="272.2" r="1.45" fill="#00ba38" fill-opacity="0.8"/>
<circle cx="391.3" cy="201.1" r="1.45" fill="#00b8e6" fill-opacity="0.8"/>
<circle cx="407.7" cy="291.5" r="1.45" fill="#f8766d" fill-opacity="0.8"/>
<circle cx="391.5" cy="232.8" r="1.45" fill="#f8766d" fill-opacity="0.8"/>
<circle cx="402.5" cy="284.9" r="1.45" fill="#f8766d" fill-opacity="0.8"/>
<circle cx="396.3" cy="252.9" r="1.45" fill="#00b8e6" fill-opacity="0.8"/>
<circle cx="409.9" cy="286.5" r="1.45" fill="#00b8e6" fill-opacity="0.8"/>
<circle cx="410.1" cy="293.6" r="1.45" fill="#00b8e6" fill-opacity="0.8"/>
<circle cx="410.4" cy="278.2" r="1.45" fill="#00b8e6" fill-opacity="0.8"/>
<circle cx="445.5" cy="275.2" r="1.45" fill="#00ba38" fill-opacity="0.8"/>
<circle cx="386.3" cy="195.2" r="1.45" fill="#00b8e6" fill-opacity="0.8"/>
<circle cx="389.6" cy="202.7" r="1.45" fill="#f8766d" fill-opacity="0.8"/>
<circle cx="520.0" cy="71.3" r="1.45" fill="#00b8e6" fill-opacity="0.8"/>
<circle cx="386.0" cy="206.2" r="1.45" fill="#00b8e6" fill-opacity="0.8"/>
<circle cx="410.9" cy="258.2" r="1.45" fill="#00b8e6" fill-opacity="0.8"/>
<circle cx="373.5" cy="189.6" r="1.45" fill="#f8766d" fill-opacity="0.8"/>
<circle cx="405.4" cy="282.9" r="1.45" fill="#f8766d" fill-opacity="0.8"/>
<circle cx="390.5" cy="217.6" r="1.45" fill="#f8766d" fill-opacity="0.8"/>
<circle cx="480.9" cy="224.2" r="1.45" fill="#f8766d" fill-opacity="0.8"/>
<circle cx="405.4" cy="266.0" r="1.45" fill="#00b8e6" fill-opacity="0.8"/>
<circle cx="409.9" cy="298.4" r="1.45" fill="#f8766d" fill-opacity="0.8"/>
<circle cx="455.0" cy="282.9" r="1.45" fill="#00ba38" fill-opacity="0.8"/>
<circle cx="403.4" cy="241.2" r="1.45" fill="#00b8e6" fill-opacity="0.8"/>
<circle cx="396.5" cy="249.4" r="1.45" fill="#f8766d" fill-opacity="0.8"/>
<circle cx="392.8" cy="202.3" r="1.45" fill="#f8766d" fill-opacity="0.8"/>
<circle cx="401.0" cy="242.3" r="1.45" fill="#00b8e6" fill-opacity="0.8"/>
<circle cx="394.6" cy="236.9" r="1.45" fill="#f8766d" fill-opacity="0.8"/>
<circle cx="372.3" cy="196.2" r="1.45" fill="#00b8e6" fill-opacity="0.8"/>
<circle cx="445.7" cy="288.1" r="1.45" fill="#00ba38" fill-opacity="0.8"/>
<circle cx="387.6" cy="185.4" r="1.45" fill="#00b8e6" fill-opacity="0.8"/>
<circle cx="471.8" cy="250.0" r="1.45" fill="#00ba38" fill-opacity="0.8"/>
<circle cx="410.4" cy="283.4" r="1.45" fill="#00b8e6" fill-opacity="0.8"/>
<circle cx="397.8" cy="214.2" r="1.45" fill="#00b8e6" fill-opacity="0.8"/>
<circle cx="383.0" cy="214.1" r="1.45" fill="#f8766d" fill-opacity="0.8"/>
<circle cx="392.8" cy="196.7" r="1.45" fill="#f8766d" fill-opacity="0.8"/>
<circle cx="402.6" cy="264.9" r="1.45" fill="#00b8e6" fill-opacity="0.8"/>
<circle cx="387.7" cy="236.8" r="1.45" fill="#00b8e6" fill-opacity="0.8"/>
<circle cx="497.5" cy="164.3" r="1.45" fill="#00b8e6" fill-opacity="0.8"/>
<circle cx="410.7" cy="267.9" r="1.45" fill="#00b8e6" fill-opacity="0.8"/>
<circle cx="395.2" cy="198.4" r="1.45" fill="#00b8e6" fill-opacity="0.8"/>
<circle cx="452.7" cy="251.2" r="1.45" fill="#00ba38" fill-opacity="0.8"/>
<circle cx="392.5" cy="230.5" r="1.45" fill="#00b8e6" fill-opacity="0.8"/>
<circle cx="407.3" cy="249.2" r="1.45" fill="#00b8e6" fill-opacity="0.8"/>
<circle cx="384.4" cy="196.6" r="1.45" fill="#00b8e6" fill-opacity="0.8"/>
<circle cx="401.1" cy="242.1" r="1.45" fill="#00b8e6" fill-opacity="0.8"/>
<circle cx="402.4" cy="260.1" r="1.45" fill="#00b8e6" fill-opacity="0.8"/>
<circle cx="399.1" cy="230.9" r="1.45" fill="#00b8e6" fill-opacity="0.8"/>
<circle cx="401.9" cy="207.9" r="1.45" fill="#f8766d" fill-opacity="0.8"/>
<circle cx="409.9" cy="252.0" r="1.45" fill="#00b8e6" fill-opacity="0.8"/>
<circle cx="449.3" cy="293.6" r="1.45" fill="#00ba38" fill-opacity="0.8"/>
<circle cx="397.1" cy="136.4" r="1.45" fill="#00ba38" fill-opacity="0.8"/>
<circle cx="396.5" cy="222.2" r="1.45" fill="#f8766d" fill-opacity="0.8"/>
<circle cx="406.0" cy="222.7" r="1.45" fill="#00b8e6" fill-opacity="0.8"/>
<circle cx="406.2" cy="280.5" r="1.45" fill="#00b8e6" fill-opacity="0.8"/>
<circle cx="491.6" cy="217.5" r="1.45" fill="#00b8e6" fill-opacity="0.8"/>
<circle cx="455.8" cy="291.8" r="1.45" fill="#00ba38" fill-opacity="0.8"/>
<circle cx="378.2" cy="188.4" r="1.45" fill="#00b8e6" fill-opacity="0.8"/>
<circle cx="380.3" cy="172.4" r="1.45" fill="#00b8e6" fill-opacity="0.8"/>
<circle cx="410.0" cy="297.4" r="1.45" fill="#00b8e6" fill-opacity="0.8"/>
<circle cx="408.8" cy="253.9" r="1.45" fill="#00b8e6" fill-opacity="0.8"/>
<circle cx="376.7" cy="185.8" r="1.45" fill="#00b8e6" fill-opacity="0.8"/>
<circle cx="381.2" cy="188.3" r="1.45" fill="#f8766d" fill-opacity="0.8"/>
<circle cx="354.9" cy="152.7" r="1.45" fill="#00b8e6" fill-opacity="0.8"/>
<circle cx="407.2" cy="286.1" r="1.45" fill="#f8766d" fill-opacity="0.8"/>
<circle cx="406.4" cy="266.3" r="1.45" fill="#00b8e6" fill-opacity="0.8"/>
<circle cx="406.2" cy="277.1" r="1.45" fill="#00b8e6" fill-opacity="0.8"/>
<circle cx="481.0" cy="215.1" r="1.45" fill="#00ba38" fill-opacity="0.8"/>
<circle cx="404.3" cy="274.6" r="1.45" fill="#00b8e6" fill-opacity="0.8"/>
<circle cx="406.1" cy="293.1" r="1.45" fill="#00b8e6" fill-opacity="0.8"/>
<circle cx="397.8" cy="257.7" r="1.45" fill="#f8766d" fill-opacity="0.8"/>
<circle cx="407.1" cy="223.0" r="1.45" fill="#00b8e6" fill-opacity="0.8"/>
<circle cx="386.8" cy="211.8" r="1.45" fill="#f8766d" fill-opacity="0.8"/>
<circle cx="514.6" cy="186.5" r="1.45" fill="#00ba38" fill-opacity="0.8"/>
<circle cx="409.1" cy="283.5" r="1.45" fill="#f8766d" fill-opacity="0.8"/>
<circle cx="406.7" cy="284.5" r="1.45" fill="#00b8e6" fill-opacity="0.8"/>
<circle cx="406.8" cy="246.4" r="1.45" fill="#00b8e6" fill-opacity="0.8"/>
<circle cx="400.1" cy="280.7" r="1.45" fill="#f8766d" fill-opacity="0.8"/>
<circle cx="409.3" cy="250.2" r="1.45" fill="#00b8e6" fill-opacity="0.8"/>
<circle cx="407.4" cy="223.2" r="1.45" fill="#00b8e6" fill-opacity="0.8"/>
<circle cx="383.9" cy="210.4" r="1.45" fill="#00b8e6" fill-opacity="0.8"/>
<circle cx="400.6" cy="203.9" r="1.45" fill="#00b8e6" fill-opacity="0.8"/>
<circle cx="448.4" cy="213.5" r="1.45" fill="#f8766d" fill-opacity="0.8"/>
<circle cx="408.9" cy="292.8" r="1.45" fill="#00b8e6" fill-opacity="0.8"/>
<circle cx="398.5" cy="213.2" r="1.45" fill="#00b8e6" fill-opacity="0.8"/>
<circle cx="465.3" cy="281.5" r="1.45" fill="#00b8e6" fill-opacity="0.8"/>
<circle cx="405.0" cy="279.7" r="1.45" fill="#f8766d" fill-opacity="0.8"/>
<circle cx="408.3" cy="290.9" r="1.45" fill="#f8766d" fill-opacity="0.8"/>
<circle cx="459.6" cy="265.7" r="1.45" fill="#00ba38" fill-opacity="0.8"/>
<circle cx="406.8" cy="246.4" r="1.45" fill="#f8766d" fill-opacity="0.8"/>
<circle cx="401.9" cy="277.1" r="1.45" fill="#f8766d" fill-opacity="0.8"/>
<circle cx="397.7" cy="261.4" r="1.45" fill="#00b8e6" fill-opacity="0.8"/>
<circle cx="384.6" cy="207.3" r="1.45" fill="#00b8e6" fill-opacity="0.8"/>
<circle cx="410.4" cy="295.6" r="1.45" fill="#00b8e6" fill-opacity="0.8"/>
<circle cx="390.8" cy="242.0" r="1.45" fill="#00b8e6" fill-opacity="0.8"/>
<circle cx="480.8" cy="246.5" r="1.45" fill="#00ba38" fill-opacity="0.8"/>
<circle cx="406.3" cy="251.0" r="1.45" fill="#f8766d" fill-opacity="0.8"/>
<circle cx="399.5" cy="247.1" r="1.45" fill="#f8766d" fill-opacity="0.8"/>
<circle cx="406.5" cy="278.3" r="1.45" fill="#f8766d" fill-opacity="0.8"/>
<circle cx="403.0" cy="278.1" r="1.45" fill="#00b8e6" fill-opacity="0.8"/>
<circle cx="406.2" cy="277.6" r="1.45" fill="#f8766d" fill-opacity="0.8"/>
<circle cx="388.0" cy="199.5" r="1.45" fill="#00b8e6" fill-opacity="0.8"/>
<circle cx="401.0" cy="283.2" r="1.45" fill="#00b8e6" fill-opacity="0.8"/>
<circle cx="391.3" cy="219.7" r="1.45" fill="#00b8e6" fill-opacity="0.8"/>
<circle cx="401.8" cy="270.5" r="1.45" fill="#00b8e6" fill-opacity="0.8"/>
<circle cx="380.3" cy="270.8" r="1.45" fill="#00ba38" fill-opacity="0.8"/>
<circle cx="383.4" cy="189.9" r="1.45" fill="#00b8e6" fill-opacity="0.8"/>
<circle cx="457.0" cy="257.7" r="1.45" fill="#00ba38" fill-opacity="0.8"/>
<circle cx="399.9" cy="228.7" r="1.45" fill="#f8766d" fill-opacity="0.8"/>
<circle cx="403.0" cy="279.4" r="1.45" fill="#f8766d" fill-opacity="0.8"/>
<circle cx="403.7" cy="247.4" r="1.45" fill="#f8766d" fill-opacity="0.8"/>
<circle cx="405.7" cy="280.6" r="1.45" fill="#00b8e6" fill-opacity="0.8"/>
<circle cx="392.2" cy="239.3" r="1.45" fill="#00b8e6" fill-opacity="0.8"/>
<circle cx="401.4" cy="220.9" r="1.45" fill="#00b8e6" fill-opacity="0.8"/>
<circle cx="400.6" cy="257.2" r="1.45" fill="#00b8e6" fill-opacity="0.8"/>
<circle cx="402.5" cy="283.4" r="1.45" fill="#00b8e6" fill-opacity="0.8"/>
<circle cx="372.5" cy="161.6" r="1.45" fill="#00b8e6" fill-opacity="0.8"/>
<circle cx="445.4" cy="270.8" r="1.45" fill="#00ba38" fill-opacity="0.8"/>
<circle cx="451.2" cy="297.6" r="1.45" fill="#00ba38" fill-opacity="0.8"/>
<circle cx="400.1" cy="223.8" r="1.45" fill="#00b8e6" fill-opacity="0.8"/>
<circle cx="452.4" cy="268.5" r="1.45" fill="#00ba38" fill-opacity="0.8"/>
<circle cx="403.7" cy="262.0" r="1.45" fill="#f8766d" fill-opacity="0.8"/>
<circle cx="452.9" cy="213.9" r="1.45" fill="#00ba38" fill-opacity="0.8"/>
<circle cx="409.9" cy="278.0" r="1.45" fill="#00b8e6" fill-opacity="0.8"/>
<circle cx="495.4" cy="66.4" r="1.45" fill="#00ba38" fill-opacity="0.8"/>
<circle cx="450.6" cy="298.0" r="1.45" fill="#00ba38" fill-opacity="0.8"/>
<circle cx="379.9" cy="290.6" r="1.45" fill="#00ba38" fill-opacity="0.8"/>
<circle cx="445.0" cy="296.3" r="1.45" fill="#00ba38" fill-opacity="0.8"/>
<circle cx="394.2" cy="278.5" r="1.45" fill="#00b8e6" fill-opacity="0.8"/>
<circle cx="370.9" cy="158.1" r="1.45" fill="#00b8e6" fill-opacity="0.8"/>
<circle cx="466.2" cy="217.5" r="1.45" fill="#00ba38" fill-opacity="0.8"/>
<circle cx="367.5" cy="156.8" r="1.45" fill="#00b8e6" fill-opacity="0.8"/>
<circle cx="403.3" cy="276.4" r="1.45" fill="#00b8e6" fill-opacity="0.8"/>
<circle cx="410.8" cy="296.2" r="1.45" fill="#00b8e6" fill-opacity="0.8"/>
<circle cx="448.2" cy="227.4" r="1.45" fill="#f8766d" fill-opacity="0.8"/>
<circle cx="397.9" cy="257.1" r="1.45" fill="#00b8e6" fill-opacity="0.8"/>
<circle cx="476.4" cy="252.1" r="1.45" fill="#00ba38" fill-opacity="0.8"/>
<circle cx="409.7" cy="276.1" r="1.45" fill="#00b8e6" fill-opacity="0.8"/>
<circle cx="447.6" cy="297.5" r="1.45" fill="#00ba38" fill-opacity="0.8"/>
<circle cx="406.6" cy="226.0" r="1.45" fill="#00b8e6" fill-opacity="0.8"/>
<circle cx="405.1" cy="294.2" r="1.45" fill="#00b8e6" fill-opacity="0.8"/>
<circle cx="447.2" cy="291.3" r="1.45" fill="#00ba38" fill-opacity="0.8"/>
<circle cx="400.6" cy="202.8" r="1.45" fill="#00b8e6" fill-opacity="0.8"/>
<circle cx="450.4" cy="290.8" r="1.45" fill="#00ba38" fill-opacity="0.8"/>
<circle cx="480.6" cy="196.7" r="1.45" fill="#00ba38" fill-opacity="0.8"/>
<circle cx="369.7" cy="168.0" r="1.45" fill="#00b8e6" fill-opacity="0.8"/>
<circle cx="481.3" cy="214.2" r="1.45" fill="#00ba38" fill-opacity="0.8"/>
<circle cx="386.9" cy="227.3" r="1.45" fill="#f8766d" fill-opacity="0.8"/>
<circle cx="454.3" cy="277.8" r="1.45" fill="#00ba38" fill-opacity="0.8"/>
<circle cx="450.5" cy="254.1" r="1.45" fill="#00ba38" fill-opacity="0.8"/>
<circle cx="474.8" cy="214.2" r="1.45" fill="#00ba38" fill-opacity="0.8"/>
<circle cx="407.1" cy="279.6" r="1.45" fill="#f8766d" fill-opacity="0.8"/>
<circle cx="448.4" cy="284.6" r="1.45" fill="#00ba38" fill-opacity="0.8"/>
<circle cx="473.0" cy="240.0" r="1.45" fill="#00ba38" fill-opacity="0.8"/>
<circle cx="395.6" cy="241.5" r="1.45" fill="#00b8e6" fill-opacity="0.8"/>
<circle cx="408.9" cy="274.1" r="1.45" fill="#00b8e6" fill-opacity="0.8"/>
<circle cx="408.6" cy="278.6" r="1.45" fill="#00b8e6" fill-opacity="0.8"/>
<circle cx="503.1" cy="264.4" r="1.45" fill="#00b8e6" fill-opacity="0.8"/>
<circle cx="396.8" cy="247.4" r="1.45" fill="#00b8e6" fill-opacity="0.8"/>
<circle cx="444.9" cy="287.2" r="1.45" fill="#00ba38" fill-opacity="0.8"/>
<circle cx="391.3" cy="246.6" r="1.45" fill="#00b8e6" fill-opacity="0.8"/>
<circle cx="463.2" cy="247.5" r="1.45" fill="#00ba38" fill-opacity="0.8"/>
<circle cx="455.7" cy="251.5" r="1.45" fill="#00ba38" fill-opacity="0.8"/>
<circle cx="454.3" cy="284.4" r="1.45" fill="#00ba38" fill-opacity="0.8"/>
<circle cx="398.7" cy="233.5" r="1.45" fill="#00b8e6" fill-opacity="0.8"/>
<circle cx="390.9" cy="192.3" r="1.45" fill="#00b8e6" fill-opacity="0.8"/>
<circle cx="410.1" cy="291.7" r="1.45" fill="#00b8e6" fill-opacity="0.8"/>
<circle cx="446.6" cy="250.1" r="1.45" fill="#00ba38" fill-opacity="0.8"/>
<circle cx="409.1" cy="287.3" r="1.45" fill="#00b8e6" fill-opacity="0.8"/>
<circle cx="409.9" cy="280.1" r="1.45" fill="#00b8e6" fill-opacity="0.8"/>
<circle cx="398.3" cy="226.9" r="1.45" fill="#00b8e6" fill-opacity="0.8"/>
<circle cx="386.0" cy="237.0" r="1.45" fill="#f8766d" fill-opacity="0.8"/>
<circle cx="365.1" cy="163.6" r="1.45" fill="#00b8e6" fill-opacity="0.8"/>
<circle cx="377.8" cy="182.5" r="1.45" fill="#f8766d" fill-opacity="0.8"/>
<circle cx="402.9" cy="295.5" r="1.45" fill="#00b8e6" fill-opacity="0.8"/>
<circle cx="408.6" cy="276.1" r="1.45" fill="#00b8e6" fill-opacity="0.8"/>
<circle cx="514.6" cy="189.8" r="1.45" fill="#f8766d" fill-opacity="0.8"/>
<circle cx="395.9" cy="215.6" r="1.45" fill="#f8766d" fill-opacity="0.8"/>
<circle cx="406.7" cy="272.8" r="1.45" fill="#f8766d" fill-opacity="0.8"/>
<circle cx="377.7" cy="186.7" r="1.45" fill="#00b8e6" fill-opacity="0.8"/>
<circle cx="410.6" cy="279.3" r="1.45" fill="#00b8e6" fill-opacity="0.8"/>
<circle cx="407.1" cy="281.6" r="1.45" fill="#00ba38" fill-opacity="0.8"/>
<circle cx="406.0" cy="238.9" r="1.45" fill="#00b8e6" fill-opacity="0.8"/>
<circle cx="397.1" cy="244.8" r="1.45" fill="#f8766d" fill-opacity="0.8"/>
<circle cx="390.3" cy="218.7" r="1.45" fill="#00b8e6" fill-opacity="0.8"/>
<circle cx="407.8" cy="229.4" r="1.45" fill="#00b8e6" fill-opacity="0.8"/>
<circle cx="404.3" cy="298.0" r="1.45" fill="#00b8e6" fill-opacity="0.8"/>
<circle cx="407.7" cy="283.2" r="1.45" fill="#00b8e6" fill-opacity="0.8"/>
<circle cx="469.6" cy="207.0" r="1.45" fill="#00ba38" fill-opacity="0.8"/>
<circle cx="405.4" cy="274.1" r="1.45" fill="#f8766d" fill-opacity="0.8"/>
<circle cx="408.3" cy="279.6" r="1.45" fill="#00b8e6" fill-opacity="0.8"/>
<circle cx="406.6" cy="277.9" r="1.45" fill="#00ba38" fill-opacity="0.8"/>
<circle cx="405.8" cy="278.8" r="1.45" fill="#f8766d" fill-opacity="0.8"/>
<circle cx="408.3" cy="282.6" r="1.45" fill="#00b8e6" fill-opacity="0.8"/>
<circle cx="447.4" cy="267.4" r="1.45" fill="#00ba38" fill-opacity="0.8"/>
<circle cx="403.5" cy="253.3" r="1.45" fill="#f8766d" fill-opacity="0.8"/>
<circle cx="407.4" cy="240.8" r="1.45" fill="#00b8e6" fill-opacity="0.8"/>
<circle cx="444.4" cy="289.5" r="1.45" fill="#00ba38" fill-opacity="0.8"/>
<circle cx="398.0" cy="225.0" r="1.45" fill="#00b8e6" fill-opacity="0.8"/>
<circle cx="385.7" cy="194.2" r="1.45" fill="#00b8e6" fill-opacity="0.8"/>
<circle cx="401.3" cy="258.1" r="1.45" fill="#00b8e6" fill-opacity="0.8"/>
<circle cx="405.4" cy="240.0" r="1.45" fill="#00b8e6" fill-opacity="0.8"/>
<circle cx="401.2" cy="244.4" r="1.45" fill="#00b8e6" fill-opacity="0.8"/>
<circle cx="459.4" cy="253.0" r="1.45" fill="#00ba38" fill-opacity="0.8"/>
<circle cx="389.8" cy="187.0" r="1.45" fill="#00b8e6" fill-opacity="0.8"/>
<circle cx="410.6" cy="273.5" r="1.45" fill="#f8766d" fill-opacity="0.8"/>
<circle cx="404.1" cy="253.4" r="1.45" fill="#00b8e6" fill-opacity="0.8"/>
<circle cx="405.9" cy="232.6" r="1.45" fill="#00b8e6" fill-opacity="0.8"/>
<circle cx="411.1" cy="292.7" r="1.45" fill="#00b8e6" fill-opacity="0.8"/>
<circle cx="401.5" cy="254.4" r="1.45" fill="#00b8e6" fill-opacity="0.8"/>
<circle cx="457.5" cy="285.2" r="1.45" fill="#00ba38" fill-opacity="0.8"/>
<circle cx="387.4" cy="207.9" r="1.45" fill="#00b8e6" fill-opacity="0.8"/>
<circle cx="470.0" cy="214.1" r="1.45" fill="#00ba38" fill-opacity="0.8"/>
<circle cx="454.7" cy="279.2" r="1.45" fill="#00ba38" fill-opacity="0.8"/>
<circle cx="400.2" cy="243.2" r="1.45" fill="#00b8e6" fill-opacity="0.8"/>
<circle cx="456.2" cy="222.9" r="1.45" fill="#00ba38" fill-opacity="0.8"/>
<circle cx="410.5" cy="260.8" r="1.45" fill="#00ba38" fill-opacity="0.8"/>
<circle cx="403.4" cy="257.5" r="1.45" fill="#00b8e6" fill-opacity="0.8"/>
<circle cx="403.0" cy="219.5" r="1.45" fill="#00b8e6" fill-opacity="0.8"/>
<circle cx="397.5" cy="263.2" r="1.45" fill="#f8766d" fill-opacity="0.8"/>
<circle cx="403.0" cy="236.8" r="1.45" fill="#f8766d" fill-opacity="0.8"/>
<circle cx="405.0" cy="263.2" r="1.45" fill="#f8766d" fill-opacity="0.8"/>
<circle cx="399.9" cy="203.3" r="1.45" fill="#00b8e6" fill-opacity="0.8"/>
<circle cx="405.5" cy="253.3" r="1.45" fill="#00b8e6" fill-opacity="0.8"/>
<circle cx="403.0" cy="277.2" r="1.45" fill="#00b8e6" fill-opacity="0.8"/>
<circle cx="363.9" cy="153.9" r="1.45" fill="#00b8e6" fill-opacity="0.8"/>
<circle cx="456.6" cy="292.1" r="1.45" fill="#00ba38" fill-opacity="0.8"/>
<circle cx="380.6" cy="217.1" r="1.45" fill="#f8766d" fill-opacity="0.8"/>
<circle cx="367.4" cy="165.9" r="1.45" fill="#f8766d" fill-opacity="0.8"/>
<circle cx="448.1" cy="275.6" r="1.45" fill="#00ba38" fill-opacity="0.8"/>
<circle cx="405.0" cy="290.2" r="1.45" fill="#f8766d" fill-opacity="0.8"/>
<circle cx="471.2" cy="245.6" r="1.45" fill="#00ba38" fill-opacity="0.8"/>
<circle cx="384.4" cy="177.8" r="1.45" fill="#00b8e6" fill-opacity="0.8"/>
<circle cx="446.7" cy="282.2" r="1.45" fill="#00ba38" fill-opacity="0.8"/>
<circle cx="448.2" cy="256.9" r="1.45" fill="#00ba38" fill-opacity="0.8"/>
<circle cx="403.0" cy="237.5" r="1.45" fill="#00b8e6" fill-opacity="0.8"/>
<circle cx="405.1" cy="291.7" r="1.45" fill="#00b8e6" fill-opacity="0.8"/>
<circle cx="406.0" cy="272.9" r="1.45" fill="#f8766d" fill-opacity="0.8"/>
<circle cx="393.5" cy="253.2" r="1.45" fill="#00b8e6" fill-opacity="0.8"/>
<circle cx="397.1" cy="236.8" r="1.45" fill="#00b8e6" fill-opacity="0.8"/>
<circle cx="388.3" cy="208.8" r="1.45" fill="#00b8e6" fill-opacity="0.8"/>
<circle cx="458.9" cy="272.6" r="1.45" fill="#00ba38" fill-opacity="0.8"/>
<circle cx="381.1" cy="195.1" r="1.45" fill="#00b8e6" fill-opacity="0.8"/>
<circle cx="400.3" cy="237.7" r="1.45" fill="#f8766d" fill-opacity="0.8"/>
<circle cx="408.8" cy="266.4" r="1.45" fill="#00b8e6" fill-opacity="0.8"/>
<circle cx="445.8" cy="291.5" r="1.45" fill="#00ba38" fill-opacity="0.8"/>
<circle cx="481.9" cy="204.7" r="1.45" fill="#00ba38" fill-opacity="0.8"/>
<circle cx="488.6" cy="223.6" r="1.45" fill="#00b8e6" fill-opacity="0.8"/>
<circle cx="453.8" cy="238.9" r="1.45" fill="#00ba38" fill-opacity="0.8"/>
<circle cx="445.5" cy="284.6" r="1.45" fill="#00ba38" fill-opacity="0.8"/>
<circle cx="406.0" cy="262.6" r="1.45" fill="#00b8e6" fill-opacity="0.8"/>
<circle cx="390.9" cy="228.5" r="1.45" fill="#00b8e6" fill-opacity="0.8"/>
<circle cx="389.1" cy="199.0" r="1.45" fill="#00b8e6" fill-opacity="0.8"/>
<circle cx="403.0" cy="261.2" r="1.45" fill="#f8766d" fill-opacity="0.8"/>
<circle cx="383.6" cy="277.9" r="1.45" fill="#00ba38" fill-opacity="0.8"/>
<circle cx="410.5" cy="247.2" r="1.45" fill="#00b8e6" fill-opacity="0.8"/>
<circle cx="450.7" cy="295.8" r="1.45" fill="#00ba38" fill-opacity="0.8"/>
<circle cx="453.5" cy="194.5" r="1.45" fill="#00b8e6" fill-opacity="0.8"/>
<circle cx="397.7" cy="207.2" r="1.45" fill="#f8766d" fill-opacity="0.8"/>
<circle cx="446.9" cy="291.7" r="1.45" fill="#00ba38" fill-opacity="0.8"/>
<circle cx="400.1" cy="205.8" r="1.45" fill="#00b8e6" fill-opacity="0.8"/>
<circle cx="407.8" cy="279.3" r="1.45" fill="#00b8e6" fill-opacity="0.8"/>
<circle cx="390.4" cy="230.8" r="1.45" fill="#f8766d" fill-opacity="0.8"/>
<circle cx="405.5" cy="272.3" r="1.45" fill="#00b8e6" fill-opacity="0.8"/>
<circle cx="410.4" cy="274.6" r="1.45" fill="#00b8e6" fill-opacity="0.8"/>
<circle cx="391.8" cy="197.3" r="1.45" fill="#00b8e6" fill-opacity="0.8"/>
<circle cx="403.4" cy="277.4" r="1.45" fill="#00b8e6" fill-opacity="0.8"/>
<circle cx="458.1" cy="285.3" r="1.45" fill="#00ba38" fill-opacity="0.8"/>
<circle cx="402.7" cy="215.6" r="1.45" fill="#00b8e6" fill-opacity="0.8"/>
<circle cx="406.5" cy="272.7" r="1.45" fill="#00b8e6" fill-opacity="0.8"/>
<circle cx="409.7" cy="281.1" r="1.45" fill="#00b8e6" fill-opacity="0.8"/>
<rect x="320.70" y="54.70" width="215.90" height="255.50" fill="none" stroke="#555" stroke-width="0.9"/>
<text x="496.00" y="63.80" font-size="9.7" fill="#12bb3c" text-anchor="start" font-weight="normal" >Son</text>
<text x="518.00" y="63.80" font-size="9.7" fill="#f8766d" text-anchor="start" font-weight="normal" >Son</text>
<text x="512.60" y="79.80" font-size="9.7" fill="#12b6e0" text-anchor="start" font-weight="normal" >Son</text>
<text x="490.40" y="121.80" font-size="9.7" fill="#12b6e0" text-anchor="start" font-weight="normal" >Neat1</text>
<text x="503.90" y="147.10" font-size="9.7" fill="#f8766d" text-anchor="start" font-weight="normal" >Slc1a3</text>
<text x="496.10" y="161.30" font-size="9.7" fill="#12b6e0" text-anchor="start" font-weight="normal" >Fcho1</text>
<text x="514.60" y="174.30" font-size="9.7" fill="#12b6e0" text-anchor="start" font-weight="normal" >Sav1</text>
<text x="483.80" y="189.00" font-size="9.7" fill="#12bb3c" text-anchor="start" font-weight="normal" >Cmss1</text>
<text x="505.60" y="198.40" font-size="9.7" fill="#f8766d" text-anchor="start" font-weight="normal" >Ccr6</text>
<text x="500.50" y="230.40" font-size="9.7" fill="#12bb3c" text-anchor="start" font-weight="normal" >Wdr17</text>
<text x="493.70" y="245.80" font-size="9.7" fill="#f8766d" text-anchor="start" font-weight="normal" >Gm43221</text>
<text x="355.60" y="135.60" font-size="9.7" fill="#12b6e0" text-anchor="start" font-weight="normal" >Slc24a2</text>
<text x="334.10" y="140.40" font-size="9.7" fill="#12b6e0" text-anchor="start" font-weight="normal" >Plcl1</text>
<text x="343.30" y="149.80" font-size="9.7" fill="#12b6e0" text-anchor="start" font-weight="normal" >Nkain2</text>
<text x="323.60" y="152.70" font-size="9.7" fill="#f8766d" text-anchor="start" font-weight="normal" >Plcl1</text>
<text x="330.90" y="160.70" font-size="9.7" fill="#13b84a" text-anchor="start" font-weight="normal" >Rnf121</text>
<text x="330.90" y="169.50" font-size="9.7" fill="#f8766d" text-anchor="start" font-weight="normal" >Ldlrad4</text>
<text x="364.40" y="174.50" font-size="9.7" fill="#f8766d" text-anchor="start" font-weight="normal" >Chn2</text>
<text x="332.40" y="177.50" font-size="9.7" fill="#f8766d" text-anchor="start" font-weight="normal" >Slc8a1</text>
<text x="339.60" y="184.70" font-size="9.7" fill="#12b6e0" text-anchor="start" font-weight="normal" >Grm7</text>
<text x="365.80" y="183.30" font-size="9.7" fill="#f8766d" text-anchor="start" font-weight="normal" >Fat3</text>
<text x="344.00" y="196.40" font-size="9.7" fill="#f8766d" text-anchor="start" font-weight="normal" >Fhit</text>
<text x="350.50" y="221.60" font-size="9.7" fill="#f8766d" text-anchor="start" font-weight="normal" >Pcdh9</text>
<line x1="318.20" y1="59.30" x2="320.70" y2="59.30" stroke="#333" stroke-width="0.8" />
<text x="318.30" y="62.60" font-size="10" fill="#4d4d4d" text-anchor="end" font-weight="normal" >200</text>
<line x1="318.20" y1="77.30" x2="320.70" y2="77.30" stroke="#333" stroke-width="0.8" />
<text x="318.30" y="80.60" font-size="10" fill="#4d4d4d" text-anchor="end" font-weight="normal" >150</text>
<line x1="318.20" y1="101.20" x2="320.70" y2="101.20" stroke="#333" stroke-width="0.8" />
<text x="318.30" y="104.50" font-size="10" fill="#4d4d4d" text-anchor="end" font-weight="normal" >100</text>
<line x1="318.20" y1="143.30" x2="320.70" y2="143.30" stroke="#333" stroke-width="0.8" />
<text x="318.30" y="146.60" font-size="10" fill="#4d4d4d" text-anchor="end" font-weight="normal" >50</text>
<line x1="363.10" y1="310.20" x2="363.10" y2="312.70" stroke="#333" stroke-width="0.8" />
<text x="363.10" y="319.60" font-size="10" fill="#4d4d4d" text-anchor="middle" font-weight="normal" >−1</text>
<line x1="428.60" y1="310.20" x2="428.60" y2="312.70" stroke="#333" stroke-width="0.8" />
<text x="428.60" y="319.60" font-size="10" fill="#4d4d4d" text-anchor="middle" font-weight="normal" >0</text>
<line x1="494.10" y1="310.20" x2="494.10" y2="312.70" stroke="#333" stroke-width="0.8" />
<text x="494.10" y="319.60" font-size="10" fill="#4d4d4d" text-anchor="middle" font-weight="normal" >1</text>
<text x="432.70" y="329.40" font-size="10" fill="#111" text-anchor="middle" font-weight="normal" >log2FC</text>
<text x="0.00" y="0.00" font-size="9.9" fill="#111" text-anchor="middle" font-weight="normal" transform="translate(302.4,170.1) rotate(-90)">-log10(p.adj)</text>
<circle cx="309.6" cy="41.6" r="3.80" fill="#22cc78" />
<circle cx="379.1" cy="42.0" r="3.80" fill="#f8a19b" />
<circle cx="450.9" cy="42.0" r="3.80" fill="#14b6dc" />
<text x="320.20" y="45.30" font-size="10" fill="#111" text-anchor="start" font-weight="normal" >Astroglia</text>
<text x="392.70" y="45.30" font-size="10" fill="#111" text-anchor="start" font-weight="normal" >Microglia</text>
<text x="465.50" y="45.30" font-size="10" fill="#111" text-anchor="start" font-weight="normal" >Oligodendroglia</text>
<text x="6.60" y="348.30" font-size="20" fill="#111" text-anchor="start" font-weight="bold" >C</text>
<circle cx="75.1" cy="477.3" r="1.55" fill="#00ba38" />
<circle cx="63.1" cy="486.5" r="1.55" fill="#00ba38" />
<circle cx="58.7" cy="482.2" r="1.55" fill="#00ba38" />
<circle cx="75.2" cy="481.4" r="1.55" fill="#00ba38" />
<circle cx="75.1" cy="478.1" r="1.55" fill="#00ba38" />
<circle cx="64.7" cy="484.6" r="1.55" fill="#00ba38" />
<circle cx="78.2" cy="478.0" r="1.55" fill="#00ba38" />
<circle cx="76.8" cy="482.9" r="1.55" fill="#00ba38" />
<circle cx="74.8" cy="489.3" r="1.55" fill="#00ba38" />
<circle cx="62.5" cy="487.4" r="1.55" fill="#00ba38" />
<circle cx="76.5" cy="482.4" r="1.55" fill="#00ba38" />
<circle cx="65.3" cy="481.1" r="1.55" fill="#00ba38" />
<circle cx="82.4" cy="477.6" r="1.55" fill="#00ba38" />
<circle cx="74.1" cy="478.8" r="1.55" fill="#00ba38" />
<circle cx="76.8" cy="476.9" r="1.55" fill="#00ba38" />
<circle cx="69.4" cy="489.2" r="1.55" fill="#00ba38" />
<circle cx="80.8" cy="487.4" r="1.55" fill="#00ba38" />
<circle cx="64.9" cy="488.2" r="1.55" fill="#00ba38" />
<circle cx="74.4" cy="485.7" r="1.55" fill="#00ba38" />
<circle cx="80.2" cy="489.3" r="1.55" fill="#00ba38" />
<circle cx="73.0" cy="487.8" r="1.55" fill="#00ba38" />
<circle cx="78.7" cy="480.8" r="1.55" fill="#00ba38" />
<circle cx="62.1" cy="486.6" r="1.55" fill="#00ba38" />
<circle cx="80.9" cy="477.1" r="1.55" fill="#00ba38" />
<circle cx="74.2" cy="489.4" r="1.55" fill="#00ba38" />
<circle cx="71.4" cy="480.6" r="1.55" fill="#00ba38" />
<circle cx="77.3" cy="478.6" r="1.55" fill="#00ba38" />
<circle cx="76.6" cy="490.7" r="1.55" fill="#00ba38" />
<circle cx="65.6" cy="473.2" r="1.55" fill="#00ba38" />
<circle cx="72.8" cy="484.6" r="1.55" fill="#00ba38" />
<circle cx="64.2" cy="473.9" r="1.55" fill="#00ba38" />
<circle cx="72.9" cy="480.8" r="1.55" fill="#00ba38" />
<circle cx="79.3" cy="480.1" r="1.55" fill="#00ba38" />
<circle cx="74.9" cy="480.2" r="1.55" fill="#00ba38" />
<circle cx="68.9" cy="482.0" r="1.55" fill="#00ba38" />
<circle cx="63.3" cy="489.8" r="1.55" fill="#00ba38" />
<circle cx="80.5" cy="490.7" r="1.55" fill="#00ba38" />
<circle cx="74.8" cy="473.7" r="1.55" fill="#00ba38" />
<circle cx="75.9" cy="477.3" r="1.55" fill="#00ba38" />
<circle cx="68.7" cy="485.2" r="1.55" fill="#00ba38" />
<circle cx="73.3" cy="488.8" r="1.55" fill="#00ba38" />
<circle cx="75.6" cy="473.1" r="1.55" fill="#00ba38" />
<circle cx="61.8" cy="485.8" r="1.55" fill="#00ba38" />
<circle cx="82.8" cy="488.6" r="1.55" fill="#00ba38" />
<circle cx="74.6" cy="481.3" r="1.55" fill="#00ba38" />
<circle cx="65.4" cy="473.9" r="1.55" fill="#00ba38" />
<circle cx="69.9" cy="476.7" r="1.55" fill="#00ba38" />
<circle cx="81.9" cy="477.7" r="1.55" fill="#00ba38" />
<circle cx="83.2" cy="472.0" r="1.55" fill="#00ba38" />
<circle cx="58.8" cy="477.4" r="1.55" fill="#00ba38" />
<circle cx="68.2" cy="489.0" r="1.55" fill="#00ba38" />
<circle cx="59.0" cy="490.2" r="1.55" fill="#00ba38" />
<circle cx="80.9" cy="482.3" r="1.55" fill="#00ba38" />
<circle cx="62.6" cy="485.9" r="1.55" fill="#00ba38" />
<circle cx="77.1" cy="483.6" r="1.55" fill="#00ba38" />
<circle cx="70.3" cy="473.4" r="1.55" fill="#00ba38" />
<circle cx="83.2" cy="481.5" r="1.55" fill="#00ba38" />
<circle cx="63.7" cy="488.6" r="1.55" fill="#00ba38" />
<circle cx="66.4" cy="485.4" r="1.55" fill="#00ba38" />
<circle cx="63.5" cy="482.4" r="1.55" fill="#00ba38" />
<circle cx="71.5" cy="478.3" r="1.55" fill="#00ba38" />
<circle cx="68.6" cy="488.9" r="1.55" fill="#00ba38" />
<circle cx="74.3" cy="479.4" r="1.55" fill="#00ba38" />
<circle cx="73.2" cy="474.2" r="1.55" fill="#00ba38" />
<circle cx="71.3" cy="474.4" r="1.55" fill="#00ba38" />
<circle cx="60.5" cy="479.1" r="1.55" fill="#00ba38" />
<circle cx="71.5" cy="482.9" r="1.55" fill="#00ba38" />
<circle cx="77.9" cy="490.0" r="1.55" fill="#00ba38" />
<circle cx="76.3" cy="478.1" r="1.55" fill="#00ba38" />
<circle cx="77.9" cy="481.5" r="1.55" fill="#00ba38" />
<circle cx="81.2" cy="476.6" r="1.55" fill="#00ba38" />
<circle cx="82.5" cy="476.1" r="1.55" fill="#00ba38" />
<circle cx="72.4" cy="478.4" r="1.55" fill="#00ba38" />
<circle cx="60.1" cy="487.7" r="1.55" fill="#00ba38" />
<circle cx="60.8" cy="483.9" r="1.55" fill="#00ba38" />
<circle cx="80.2" cy="485.7" r="1.55" fill="#00ba38" />
<circle cx="74.5" cy="487.6" r="1.55" fill="#00ba38" />
<circle cx="66.0" cy="478.6" r="1.55" fill="#00ba38" />
<circle cx="59.5" cy="487.6" r="1.55" fill="#00ba38" />
<circle cx="76.2" cy="487.0" r="1.55" fill="#00ba38" />
<circle cx="75.2" cy="478.4" r="1.55" fill="#00ba38" />
<circle cx="74.6" cy="486.1" r="1.55" fill="#00ba38" />
<circle cx="68.4" cy="489.6" r="1.55" fill="#00ba38" />
<circle cx="58.5" cy="485.4" r="1.55" fill="#00ba38" />
<circle cx="75.2" cy="475.6" r="1.55" fill="#00ba38" />
<circle cx="68.0" cy="476.9" r="1.55" fill="#00ba38" />
<circle cx="77.0" cy="484.6" r="1.55" fill="#00ba38" />
<circle cx="68.9" cy="479.8" r="1.55" fill="#00ba38" />
<circle cx="58.7" cy="482.0" r="1.55" fill="#00ba38" />
<circle cx="75.6" cy="484.7" r="1.55" fill="#00ba38" />
<circle cx="59.6" cy="488.2" r="1.55" fill="#00ba38" />
<circle cx="73.4" cy="473.3" r="1.55" fill="#00ba38" />
<circle cx="67.5" cy="480.1" r="1.55" fill="#00ba38" />
<circle cx="58.7" cy="481.7" r="1.55" fill="#00ba38" />
<circle cx="75.6" cy="484.9" r="1.55" fill="#00ba38" />
<circle cx="82.4" cy="479.8" r="1.55" fill="#00ba38" />
<circle cx="79.1" cy="489.1" r="1.55" fill="#00ba38" />
<circle cx="79.0" cy="490.4" r="1.55" fill="#00ba38" />
<circle cx="68.6" cy="487.4" r="1.55" fill="#00ba38" />
<circle cx="65.3" cy="488.8" r="1.55" fill="#00ba38" />
<circle cx="82.5" cy="480.0" r="1.55" fill="#00ba38" />
<circle cx="82.7" cy="473.7" r="1.55" fill="#00ba38" />
<circle cx="72.0" cy="488.9" r="1.55" fill="#00ba38" />
<circle cx="83.5" cy="473.3" r="1.55" fill="#00ba38" />
<circle cx="73.1" cy="473.1" r="1.55" fill="#00ba38" />
<circle cx="68.2" cy="480.2" r="1.55" fill="#00ba38" />
<circle cx="60.5" cy="488.7" r="1.55" fill="#00ba38" />
<circle cx="62.6" cy="486.4" r="1.55" fill="#00ba38" />
<circle cx="62.1" cy="479.6" r="1.55" fill="#00ba38" />
<circle cx="69.5" cy="485.2" r="1.55" fill="#00ba38" />
<circle cx="74.1" cy="479.1" r="1.55" fill="#00ba38" />
<circle cx="78.1" cy="478.5" r="1.55" fill="#00ba38" />
<circle cx="60.9" cy="480.9" r="1.55" fill="#00ba38" />
<circle cx="74.3" cy="489.8" r="1.55" fill="#00ba38" />
<circle cx="83.9" cy="482.5" r="1.55" fill="#00ba38" />
<circle cx="78.9" cy="485.2" r="1.55" fill="#00ba38" />
<circle cx="66.7" cy="484.8" r="1.55" fill="#00ba38" />
<circle cx="72.5" cy="482.2" r="1.55" fill="#00ba38" />
<circle cx="72.7" cy="477.9" r="1.55" fill="#00ba38" />
<circle cx="64.9" cy="477.3" r="1.55" fill="#00ba38" />
<circle cx="68.0" cy="484.2" r="1.55" fill="#00ba38" />
<circle cx="80.9" cy="472.5" r="1.55" fill="#00ba38" />
<circle cx="72.6" cy="475.3" r="1.55" fill="#00ba38" />
<circle cx="58.0" cy="489.7" r="1.55" fill="#00ba38" />
<circle cx="68.6" cy="487.8" r="1.55" fill="#00ba38" />
<circle cx="74.7" cy="483.2" r="1.55" fill="#00ba38" />
<circle cx="58.7" cy="483.3" r="1.55" fill="#00ba38" />
<circle cx="62.0" cy="484.3" r="1.55" fill="#00ba38" />
<circle cx="67.4" cy="485.2" r="1.55" fill="#00ba38" />
<circle cx="60.0" cy="482.8" r="1.55" fill="#00ba38" />
<circle cx="61.8" cy="479.1" r="1.55" fill="#00ba38" />
<circle cx="65.5" cy="487.2" r="1.55" fill="#00ba38" />
<circle cx="81.9" cy="474.5" r="1.55" fill="#00ba38" />
<circle cx="69.3" cy="487.6" r="1.55" fill="#00ba38" />
<circle cx="69.5" cy="484.9" r="1.55" fill="#00ba38" />
<circle cx="63.2" cy="479.6" r="1.55" fill="#00ba38" />
<circle cx="64.8" cy="480.9" r="1.55" fill="#00ba38" />
<circle cx="65.5" cy="474.6" r="1.55" fill="#00ba38" />
<circle cx="75.0" cy="489.5" r="1.55" fill="#00ba38" />
<circle cx="67.3" cy="483.6" r="1.55" fill="#00ba38" />
<circle cx="59.3" cy="489.8" r="1.55" fill="#00ba38" />
<circle cx="75.3" cy="477.2" r="1.55" fill="#00ba38" />
<circle cx="66.0" cy="474.9" r="1.55" fill="#00ba38" />
<circle cx="73.6" cy="483.3" r="1.55" fill="#00ba38" />
<circle cx="75.9" cy="485.5" r="1.55" fill="#00ba38" />
<circle cx="70.1" cy="481.5" r="1.55" fill="#00ba38" />
<circle cx="78.9" cy="482.9" r="1.55" fill="#00ba38" />
<circle cx="73.9" cy="490.5" r="1.55" fill="#00ba38" />
<circle cx="61.6" cy="482.9" r="1.55" fill="#00ba38" />
<circle cx="64.8" cy="487.3" r="1.55" fill="#00ba38" />
<circle cx="59.5" cy="485.2" r="1.55" fill="#00ba38" />
<circle cx="75.9" cy="480.0" r="1.55" fill="#00ba38" />
<circle cx="81.9" cy="484.5" r="1.55" fill="#00ba38" />
<circle cx="78.0" cy="483.3" r="1.55" fill="#00ba38" />
<circle cx="77.9" cy="478.8" r="1.55" fill="#00ba38" />
<circle cx="65.8" cy="487.2" r="1.55" fill="#00ba38" />
<circle cx="72.8" cy="489.4" r="1.55" fill="#00ba38" />
<circle cx="66.1" cy="475.1" r="1.55" fill="#00ba38" />
<circle cx="60.8" cy="486.3" r="1.55" fill="#00ba38" />
<circle cx="77.3" cy="484.4" r="1.55" fill="#00ba38" />
<circle cx="73.4" cy="484.6" r="1.55" fill="#00ba38" />
<circle cx="75.6" cy="488.5" r="1.55" fill="#00ba38" />
<circle cx="78.3" cy="488.2" r="1.55" fill="#00ba38" />
<circle cx="69.3" cy="484.3" r="1.55" fill="#00ba38" />
<circle cx="79.8" cy="478.1" r="1.55" fill="#00ba38" />
<circle cx="82.4" cy="481.8" r="1.55" fill="#00ba38" />
<circle cx="64.0" cy="477.3" r="1.55" fill="#00ba38" />
<circle cx="69.1" cy="487.2" r="1.55" fill="#00ba38" />
<circle cx="72.5" cy="485.9" r="1.55" fill="#00ba38" />
<circle cx="80.4" cy="485.6" r="1.55" fill="#00ba38" />
<circle cx="71.4" cy="488.8" r="1.55" fill="#00ba38" />
<circle cx="67.7" cy="477.2" r="1.55" fill="#00ba38" />
<circle cx="82.4" cy="488.2" r="1.55" fill="#00ba38" />
<circle cx="59.3" cy="484.8" r="1.55" fill="#00ba38" />
<circle cx="66.6" cy="478.2" r="1.55" fill="#00ba38" />
<circle cx="83.5" cy="483.1" r="1.55" fill="#00ba38" />
<circle cx="70.0" cy="486.2" r="1.55" fill="#00ba38" />
<circle cx="65.1" cy="490.3" r="1.55" fill="#00ba38" />
<circle cx="79.3" cy="484.8" r="1.55" fill="#00ba38" />
<circle cx="63.9" cy="481.3" r="1.55" fill="#00ba38" />
<circle cx="71.0" cy="474.7" r="1.55" fill="#00ba38" />
<circle cx="83.3" cy="485.8" r="1.55" fill="#00ba38" />
<circle cx="71.9" cy="490.6" r="1.55" fill="#00ba38" />
<circle cx="76.1" cy="484.9" r="1.55" fill="#00ba38" />
<circle cx="81.5" cy="477.8" r="1.55" fill="#00ba38" />
<circle cx="69.7" cy="488.5" r="1.55" fill="#00ba38" />
<circle cx="83.3" cy="477.6" r="1.55" fill="#00ba38" />
<circle cx="81.3" cy="485.6" r="1.55" fill="#00ba38" />
<circle cx="71.2" cy="481.1" r="1.55" fill="#00ba38" />
<circle cx="58.3" cy="483.9" r="1.55" fill="#00ba38" />
<circle cx="81.6" cy="476.1" r="1.55" fill="#00ba38" />
<circle cx="63.0" cy="487.7" r="1.55" fill="#00ba38" />
<circle cx="71.9" cy="474.0" r="1.55" fill="#00ba38" />
<circle cx="67.8" cy="490.6" r="1.55" fill="#00ba38" />
<circle cx="64.0" cy="477.2" r="1.55" fill="#00ba38" />
<circle cx="66.9" cy="489.8" r="1.55" fill="#00ba38" />
<circle cx="82.3" cy="482.8" r="1.55" fill="#00ba38" />
<circle cx="60.2" cy="488.2" r="1.55" fill="#00ba38" />
<circle cx="74.2" cy="489.8" r="1.55" fill="#00ba38" />
<circle cx="76.0" cy="482.9" r="1.55" fill="#00ba38" />
<circle cx="77.8" cy="469.2" r="1.55" fill="#00ba38" />
<circle cx="61.0" cy="461.4" r="1.55" fill="#00ba38" />
<circle cx="60.3" cy="459.9" r="1.55" fill="#00ba38" />
<circle cx="83.3" cy="469.7" r="1.55" fill="#00ba38" />
<circle cx="80.2" cy="463.0" r="1.55" fill="#00ba38" />
<circle cx="64.8" cy="457.4" r="1.55" fill="#00ba38" />
<circle cx="67.6" cy="460.1" r="1.55" fill="#00ba38" />
<circle cx="60.7" cy="474.8" r="1.55" fill="#00ba38" />
<circle cx="74.3" cy="473.6" r="1.55" fill="#00ba38" />
<circle cx="79.9" cy="463.2" r="1.55" fill="#00ba38" />
<circle cx="77.7" cy="470.2" r="1.55" fill="#00ba38" />
<circle cx="66.1" cy="470.8" r="1.55" fill="#00ba38" />
<circle cx="68.1" cy="462.9" r="1.55" fill="#00ba38" />
<circle cx="66.1" cy="456.0" r="1.55" fill="#00ba38" />
<circle cx="80.8" cy="471.4" r="1.55" fill="#00ba38" />
<circle cx="62.1" cy="458.5" r="1.55" fill="#00ba38" />
<circle cx="71.2" cy="469.3" r="1.55" fill="#00ba38" />
<circle cx="67.5" cy="474.8" r="1.55" fill="#00ba38" />
<circle cx="77.9" cy="460.6" r="1.55" fill="#00ba38" />
<circle cx="65.8" cy="473.1" r="1.55" fill="#00ba38" />
<circle cx="75.7" cy="470.7" r="1.55" fill="#00ba38" />
<circle cx="83.5" cy="473.5" r="1.55" fill="#00ba38" />
<circle cx="71.6" cy="473.8" r="1.55" fill="#00ba38" />
<circle cx="82.6" cy="461.9" r="1.55" fill="#00ba38" />
<circle cx="80.1" cy="463.7" r="1.55" fill="#00ba38" />
<circle cx="63.6" cy="465.4" r="1.55" fill="#00ba38" />
<circle cx="73.7" cy="467.6" r="1.55" fill="#00ba38" />
<circle cx="78.2" cy="465.4" r="1.55" fill="#00ba38" />
<circle cx="65.5" cy="445.9" r="1.55" fill="#00ba38" />
<circle cx="68.4" cy="450.3" r="1.55" fill="#00ba38" />
<circle cx="60.0" cy="430.7" r="1.55" fill="#00ba38" />
<circle cx="79.0" cy="448.1" r="1.55" fill="#00ba38" />
<circle cx="74.0" cy="456.0" r="1.55" fill="#00ba38" />
<circle cx="67.9" cy="536.4" r="1.55" fill="#00ba38" />
<circle cx="71.4" cy="535.6" r="1.55" fill="#00ba38" />
<circle cx="66.4" cy="518.6" r="1.55" fill="#00ba38" />
<circle cx="76.4" cy="537.5" r="1.55" fill="#00ba38" />
<circle cx="77.3" cy="532.6" r="1.55" fill="#00ba38" />
<circle cx="67.5" cy="535.2" r="1.55" fill="#00ba38" />
<circle cx="78.6" cy="526.4" r="1.55" fill="#00ba38" />
<circle cx="76.9" cy="549.3" r="1.55" fill="#00ba38" />
<circle cx="76.3" cy="525.6" r="1.55" fill="#00ba38" />
<circle cx="81.9" cy="535.2" r="1.55" fill="#00ba38" />
<circle cx="78.0" cy="518.4" r="1.55" fill="#00ba38" />
<circle cx="80.1" cy="533.9" r="1.55" fill="#00ba38" />
<circle cx="58.1" cy="538.6" r="1.55" fill="#00ba38" />
<circle cx="71.8" cy="541.5" r="1.55" fill="#00ba38" />
<circle cx="61.1" cy="526.3" r="1.55" fill="#00ba38" />
<circle cx="72.5" cy="531.6" r="1.55" fill="#00ba38" />
<circle cx="58.3" cy="534.3" r="1.55" fill="#00ba38" />
<circle cx="75.6" cy="523.2" r="1.55" fill="#00ba38" />
<circle cx="77.2" cy="536.6" r="1.55" fill="#00ba38" />
<circle cx="64.6" cy="532.2" r="1.55" fill="#00ba38" />
<circle cx="63.6" cy="545.1" r="1.55" fill="#00ba38" />
<circle cx="67.5" cy="520.3" r="1.55" fill="#00ba38" />
<circle cx="63.3" cy="533.4" r="1.55" fill="#00ba38" />
<circle cx="63.9" cy="550.4" r="1.55" fill="#00ba38" />
<circle cx="75.1" cy="522.3" r="1.55" fill="#00ba38" />
<circle cx="65.2" cy="523.0" r="1.55" fill="#00ba38" />
<circle cx="65.0" cy="532.2" r="1.55" fill="#00ba38" />
<circle cx="61.5" cy="540.2" r="1.55" fill="#00ba38" />
<circle cx="60.9" cy="539.9" r="1.55" fill="#00ba38" />
<circle cx="83.3" cy="537.8" r="1.55" fill="#00ba38" />
<circle cx="82.5" cy="544.7" r="1.55" fill="#00ba38" />
<circle cx="62.0" cy="536.6" r="1.55" fill="#00ba38" />
<circle cx="78.1" cy="530.7" r="1.55" fill="#00ba38" />
<circle cx="75.2" cy="522.7" r="1.55" fill="#00ba38" />
<circle cx="81.8" cy="529.1" r="1.55" fill="#00ba38" />
<circle cx="66.3" cy="530.0" r="1.55" fill="#00ba38" />
<circle cx="71.9" cy="527.4" r="1.55" fill="#00ba38" />
<circle cx="71.9" cy="550.3" r="1.55" fill="#00ba38" />
<circle cx="71.4" cy="543.2" r="1.55" fill="#00ba38" />
<circle cx="73.2" cy="521.0" r="1.55" fill="#00ba38" />
<circle cx="73.4" cy="538.2" r="1.55" fill="#00ba38" />
<circle cx="64.8" cy="528.3" r="1.55" fill="#00ba38" />
<circle cx="58.7" cy="529.3" r="1.55" fill="#00ba38" />
<circle cx="65.4" cy="523.6" r="1.55" fill="#00ba38" />
<circle cx="81.6" cy="535.5" r="1.55" fill="#00ba38" />
<circle cx="71.3" cy="541.8" r="1.55" fill="#00ba38" />
<circle cx="69.5" cy="542.3" r="1.55" fill="#00ba38" />
<circle cx="75.7" cy="519.8" r="1.55" fill="#00ba38" />
<circle cx="74.9" cy="542.0" r="1.55" fill="#00ba38" />
<circle cx="78.2" cy="546.9" r="1.55" fill="#00ba38" />
<circle cx="59.1" cy="546.1" r="1.55" fill="#00ba38" />
<circle cx="73.2" cy="551.9" r="1.55" fill="#00ba38" />
<circle cx="73.8" cy="538.2" r="1.55" fill="#00ba38" />
<circle cx="65.8" cy="527.3" r="1.55" fill="#00ba38" />
<circle cx="73.5" cy="547.7" r="1.55" fill="#00ba38" />
<circle cx="62.5" cy="555.3" r="1.55" fill="#00ba38" />
<circle cx="71.0" cy="577.7" r="1.55" fill="#00ba38" />
<circle cx="148.6" cy="408.8" r="1.55" fill="#f8766d" />
<circle cx="135.5" cy="425.7" r="1.55" fill="#f8766d" />
<circle cx="133.6" cy="431.3" r="1.55" fill="#f8766d" />
<circle cx="139.7" cy="431.8" r="1.55" fill="#f8766d" />
<circle cx="147.1" cy="440.8" r="1.55" fill="#f8766d" />
<circle cx="131.4" cy="445.3" r="1.55" fill="#f8766d" />
<circle cx="144.9" cy="448.1" r="1.55" fill="#f8766d" />
<circle cx="147.6" cy="448.7" r="1.55" fill="#f8766d" />
<circle cx="124.6" cy="451.5" r="1.55" fill="#f8766d" />
<circle cx="125.3" cy="456.0" r="1.55" fill="#f8766d" />
<circle cx="135.1" cy="460.4" r="1.55" fill="#f8766d" />
<circle cx="143.4" cy="459.9" r="1.55" fill="#f8766d" />
<circle cx="132.5" cy="467.2" r="1.55" fill="#f8766d" />
<circle cx="150.0" cy="467.7" r="1.55" fill="#f8766d" />
<circle cx="139.5" cy="472.8" r="1.55" fill="#f8766d" />
<circle cx="141.7" cy="475.6" r="1.55" fill="#f8766d" />
<circle cx="125.9" cy="484.0" r="1.55" fill="#f8766d" />
<circle cx="125.7" cy="487.4" r="1.55" fill="#f8766d" />
<circle cx="135.1" cy="487.4" r="1.55" fill="#f8766d" />
<circle cx="140.0" cy="527.5" r="1.55" fill="#f8766d" />
<circle cx="135.6" cy="519.1" r="1.55" fill="#f8766d" />
<circle cx="147.6" cy="519.9" r="1.55" fill="#f8766d" />
<circle cx="142.6" cy="539.2" r="1.55" fill="#f8766d" />
<circle cx="139.1" cy="525.1" r="1.55" fill="#f8766d" />
<circle cx="126.0" cy="531.4" r="1.55" fill="#f8766d" />
<circle cx="130.1" cy="534.1" r="1.55" fill="#f8766d" />
<circle cx="126.5" cy="517.8" r="1.55" fill="#f8766d" />
<circle cx="140.2" cy="539.5" r="1.55" fill="#f8766d" />
<circle cx="127.2" cy="519.1" r="1.55" fill="#f8766d" />
<circle cx="126.5" cy="531.2" r="1.55" fill="#f8766d" />
<circle cx="142.8" cy="532.6" r="1.55" fill="#f8766d" />
<circle cx="142.9" cy="525.3" r="1.55" fill="#f8766d" />
<circle cx="149.7" cy="519.5" r="1.55" fill="#f8766d" />
<circle cx="133.8" cy="521.6" r="1.55" fill="#f8766d" />
<circle cx="145.0" cy="525.7" r="1.55" fill="#f8766d" />
<circle cx="144.7" cy="531.5" r="1.55" fill="#f8766d" />
<circle cx="134.4" cy="518.4" r="1.55" fill="#f8766d" />
<circle cx="131.5" cy="526.9" r="1.55" fill="#f8766d" />
<circle cx="143.9" cy="519.8" r="1.55" fill="#f8766d" />
<circle cx="132.5" cy="542.2" r="1.55" fill="#f8766d" />
<circle cx="128.6" cy="523.1" r="1.55" fill="#f8766d" />
<circle cx="134.7" cy="527.8" r="1.55" fill="#f8766d" />
<circle cx="126.8" cy="517.5" r="1.55" fill="#f8766d" />
<circle cx="133.3" cy="518.9" r="1.55" fill="#f8766d" />
<circle cx="138.0" cy="520.1" r="1.55" fill="#f8766d" />
<circle cx="136.3" cy="527.4" r="1.55" fill="#f8766d" />
<circle cx="134.2" cy="523.2" r="1.55" fill="#f8766d" />
<circle cx="132.5" cy="520.8" r="1.55" fill="#f8766d" />
<circle cx="137.4" cy="522.5" r="1.55" fill="#f8766d" />
<circle cx="143.0" cy="537.9" r="1.55" fill="#f8766d" />
<circle cx="145.8" cy="534.6" r="1.55" fill="#f8766d" />
<circle cx="147.4" cy="539.5" r="1.55" fill="#f8766d" />
<circle cx="133.7" cy="518.9" r="1.55" fill="#f8766d" />
<circle cx="132.4" cy="549.6" r="1.55" fill="#f8766d" />
<circle cx="127.7" cy="545.0" r="1.55" fill="#f8766d" />
<circle cx="147.1" cy="517.9" r="1.55" fill="#f8766d" />
<circle cx="139.4" cy="531.1" r="1.55" fill="#f8766d" />
<circle cx="139.5" cy="534.1" r="1.55" fill="#f8766d" />
<circle cx="149.7" cy="525.7" r="1.55" fill="#f8766d" />
<circle cx="141.0" cy="521.5" r="1.55" fill="#f8766d" />
<circle cx="147.6" cy="524.0" r="1.55" fill="#f8766d" />
<circle cx="125.0" cy="528.8" r="1.55" fill="#f8766d" />
<circle cx="146.0" cy="529.6" r="1.55" fill="#f8766d" />
<circle cx="125.0" cy="538.1" r="1.55" fill="#f8766d" />
<circle cx="135.2" cy="539.2" r="1.55" fill="#f8766d" />
<circle cx="146.7" cy="530.6" r="1.55" fill="#f8766d" />
<circle cx="145.8" cy="538.7" r="1.55" fill="#f8766d" />
<circle cx="143.7" cy="521.0" r="1.55" fill="#f8766d" />
<circle cx="144.7" cy="535.4" r="1.55" fill="#f8766d" />
<circle cx="136.5" cy="518.7" r="1.55" fill="#f8766d" />
<circle cx="149.9" cy="519.4" r="1.55" fill="#f8766d" />
<circle cx="146.8" cy="518.3" r="1.55" fill="#f8766d" />
<circle cx="124.5" cy="520.4" r="1.55" fill="#f8766d" />
<circle cx="149.1" cy="542.0" r="1.55" fill="#f8766d" />
<circle cx="132.6" cy="526.6" r="1.55" fill="#f8766d" />
<circle cx="132.1" cy="522.4" r="1.55" fill="#f8766d" />
<circle cx="148.1" cy="529.9" r="1.55" fill="#f8766d" />
<circle cx="145.4" cy="538.4" r="1.55" fill="#f8766d" />
<circle cx="136.5" cy="533.4" r="1.55" fill="#f8766d" />
<circle cx="134.3" cy="534.6" r="1.55" fill="#f8766d" />
<circle cx="146.4" cy="535.4" r="1.55" fill="#f8766d" />
<circle cx="129.1" cy="541.7" r="1.55" fill="#f8766d" />
<circle cx="142.5" cy="527.3" r="1.55" fill="#f8766d" />
<circle cx="149.2" cy="527.3" r="1.55" fill="#f8766d" />
<circle cx="126.8" cy="539.6" r="1.55" fill="#f8766d" />
<circle cx="130.1" cy="530.8" r="1.55" fill="#f8766d" />
<circle cx="129.0" cy="526.1" r="1.55" fill="#f8766d" />
<circle cx="145.3" cy="534.7" r="1.55" fill="#f8766d" />
<circle cx="139.8" cy="528.2" r="1.55" fill="#f8766d" />
<circle cx="145.1" cy="536.5" r="1.55" fill="#f8766d" />
<circle cx="129.2" cy="525.1" r="1.55" fill="#f8766d" />
<circle cx="133.3" cy="538.4" r="1.55" fill="#f8766d" />
<circle cx="135.2" cy="525.9" r="1.55" fill="#f8766d" />
<circle cx="127.3" cy="545.8" r="1.55" fill="#f8766d" />
<circle cx="126.0" cy="519.8" r="1.55" fill="#f8766d" />
<circle cx="149.9" cy="522.6" r="1.55" fill="#f8766d" />
<circle cx="141.3" cy="527.9" r="1.55" fill="#f8766d" />
<circle cx="149.3" cy="519.5" r="1.55" fill="#f8766d" />
<circle cx="136.1" cy="540.8" r="1.55" fill="#f8766d" />
<circle cx="148.2" cy="525.1" r="1.55" fill="#f8766d" />
<circle cx="143.8" cy="517.9" r="1.55" fill="#f8766d" />
<circle cx="141.2" cy="537.0" r="1.55" fill="#f8766d" />
<circle cx="133.2" cy="536.3" r="1.55" fill="#f8766d" />
<circle cx="132.3" cy="521.9" r="1.55" fill="#f8766d" />
<circle cx="126.8" cy="534.3" r="1.55" fill="#f8766d" />
<circle cx="131.7" cy="523.0" r="1.55" fill="#f8766d" />
<circle cx="145.3" cy="524.1" r="1.55" fill="#f8766d" />
<circle cx="126.2" cy="538.0" r="1.55" fill="#f8766d" />
<circle cx="141.5" cy="541.0" r="1.55" fill="#f8766d" />
<circle cx="138.3" cy="534.4" r="1.55" fill="#f8766d" />
<circle cx="146.8" cy="529.9" r="1.55" fill="#f8766d" />
<circle cx="142.6" cy="526.0" r="1.55" fill="#f8766d" />
<circle cx="133.4" cy="534.2" r="1.55" fill="#f8766d" />
<circle cx="129.1" cy="537.5" r="1.55" fill="#f8766d" />
<circle cx="141.6" cy="544.9" r="1.55" fill="#f8766d" />
<circle cx="131.5" cy="533.1" r="1.55" fill="#f8766d" />
<circle cx="142.9" cy="532.2" r="1.55" fill="#f8766d" />
<circle cx="134.8" cy="547.5" r="1.55" fill="#f8766d" />
<circle cx="124.6" cy="524.8" r="1.55" fill="#f8766d" />
<circle cx="134.3" cy="530.4" r="1.55" fill="#f8766d" />
<circle cx="133.8" cy="520.6" r="1.55" fill="#f8766d" />
<circle cx="140.1" cy="528.9" r="1.55" fill="#f8766d" />
<circle cx="129.5" cy="527.4" r="1.55" fill="#f8766d" />
<circle cx="140.8" cy="531.8" r="1.55" fill="#f8766d" />
<circle cx="128.5" cy="539.9" r="1.55" fill="#f8766d" />
<circle cx="125.1" cy="541.5" r="1.55" fill="#f8766d" />
<circle cx="136.2" cy="533.0" r="1.55" fill="#f8766d" />
<circle cx="127.1" cy="533.2" r="1.55" fill="#f8766d" />
<circle cx="149.4" cy="523.2" r="1.55" fill="#f8766d" />
<circle cx="143.3" cy="527.8" r="1.55" fill="#f8766d" />
<circle cx="142.0" cy="522.3" r="1.55" fill="#f8766d" />
<circle cx="145.6" cy="520.2" r="1.55" fill="#f8766d" />
<circle cx="133.6" cy="532.7" r="1.55" fill="#f8766d" />
<circle cx="149.6" cy="533.1" r="1.55" fill="#f8766d" />
<circle cx="132.0" cy="523.1" r="1.55" fill="#f8766d" />
<circle cx="126.0" cy="519.6" r="1.55" fill="#f8766d" />
<circle cx="149.1" cy="529.9" r="1.55" fill="#f8766d" />
<circle cx="138.2" cy="528.1" r="1.55" fill="#f8766d" />
<circle cx="126.0" cy="519.1" r="1.55" fill="#f8766d" />
<circle cx="126.9" cy="521.7" r="1.55" fill="#f8766d" />
<circle cx="142.4" cy="518.5" r="1.55" fill="#f8766d" />
<circle cx="127.7" cy="528.2" r="1.55" fill="#f8766d" />
<circle cx="148.7" cy="528.0" r="1.55" fill="#f8766d" />
<circle cx="125.8" cy="539.8" r="1.55" fill="#f8766d" />
<circle cx="140.4" cy="520.7" r="1.55" fill="#f8766d" />
<circle cx="136.5" cy="550.2" r="1.55" fill="#f8766d" />
<circle cx="130.7" cy="524.1" r="1.55" fill="#f8766d" />
<circle cx="137.4" cy="539.2" r="1.55" fill="#f8766d" />
<circle cx="142.8" cy="531.6" r="1.55" fill="#f8766d" />
<circle cx="148.5" cy="526.0" r="1.55" fill="#f8766d" />
<circle cx="134.6" cy="534.8" r="1.55" fill="#f8766d" />
<circle cx="148.2" cy="546.7" r="1.55" fill="#f8766d" />
<circle cx="134.7" cy="517.7" r="1.55" fill="#f8766d" />
<circle cx="134.3" cy="519.1" r="1.55" fill="#f8766d" />
<circle cx="146.1" cy="524.7" r="1.55" fill="#f8766d" />
<circle cx="136.5" cy="535.4" r="1.55" fill="#f8766d" />
<circle cx="150.4" cy="526.5" r="1.55" fill="#f8766d" />
<circle cx="140.8" cy="520.1" r="1.55" fill="#f8766d" />
<circle cx="143.8" cy="528.5" r="1.55" fill="#f8766d" />
<circle cx="147.3" cy="525.4" r="1.55" fill="#f8766d" />
<circle cx="129.9" cy="534.9" r="1.55" fill="#f8766d" />
<circle cx="149.1" cy="518.6" r="1.55" fill="#f8766d" />
<circle cx="127.8" cy="520.5" r="1.55" fill="#f8766d" />
<circle cx="148.8" cy="521.5" r="1.55" fill="#f8766d" />
<circle cx="145.1" cy="521.5" r="1.55" fill="#f8766d" />
<circle cx="141.6" cy="537.2" r="1.55" fill="#f8766d" />
<circle cx="132.8" cy="537.5" r="1.55" fill="#f8766d" />
<circle cx="146.4" cy="522.7" r="1.55" fill="#f8766d" />
<circle cx="150.0" cy="541.1" r="1.55" fill="#f8766d" />
<circle cx="148.0" cy="518.8" r="1.55" fill="#f8766d" />
<circle cx="140.1" cy="530.0" r="1.55" fill="#f8766d" />
<circle cx="143.7" cy="520.8" r="1.55" fill="#f8766d" />
<circle cx="137.6" cy="520.7" r="1.55" fill="#f8766d" />
<circle cx="135.8" cy="533.2" r="1.55" fill="#f8766d" />
<circle cx="127.8" cy="528.9" r="1.55" fill="#f8766d" />
<circle cx="132.1" cy="534.8" r="1.55" fill="#f8766d" />
<circle cx="149.7" cy="536.0" r="1.55" fill="#f8766d" />
<circle cx="134.6" cy="543.9" r="1.55" fill="#f8766d" />
<circle cx="148.4" cy="530.5" r="1.55" fill="#f8766d" />
<circle cx="134.6" cy="531.2" r="1.55" fill="#f8766d" />
<circle cx="145.7" cy="521.5" r="1.55" fill="#f8766d" />
<circle cx="144.6" cy="519.0" r="1.55" fill="#f8766d" />
<circle cx="128.2" cy="517.4" r="1.55" fill="#f8766d" />
<circle cx="147.9" cy="519.3" r="1.55" fill="#f8766d" />
<circle cx="149.8" cy="550.6" r="1.55" fill="#f8766d" />
<circle cx="141.7" cy="521.3" r="1.55" fill="#f8766d" />
<circle cx="132.4" cy="534.2" r="1.55" fill="#f8766d" />
<circle cx="131.6" cy="529.0" r="1.55" fill="#f8766d" />
<circle cx="129.7" cy="529.2" r="1.55" fill="#f8766d" />
<circle cx="127.3" cy="524.8" r="1.55" fill="#f8766d" />
<circle cx="134.2" cy="536.0" r="1.55" fill="#f8766d" />
<circle cx="124.8" cy="533.5" r="1.55" fill="#f8766d" />
<circle cx="146.3" cy="521.2" r="1.55" fill="#f8766d" />
<circle cx="130.8" cy="533.4" r="1.55" fill="#f8766d" />
<circle cx="125.1" cy="531.5" r="1.55" fill="#f8766d" />
<circle cx="139.9" cy="530.0" r="1.55" fill="#f8766d" />
<circle cx="142.0" cy="529.5" r="1.55" fill="#f8766d" />
<circle cx="136.1" cy="551.7" r="1.55" fill="#f8766d" />
<circle cx="127.7" cy="532.0" r="1.55" fill="#f8766d" />
<circle cx="146.7" cy="519.6" r="1.55" fill="#f8766d" />
<circle cx="131.0" cy="537.7" r="1.55" fill="#f8766d" />
<circle cx="148.6" cy="535.5" r="1.55" fill="#f8766d" />
<circle cx="138.4" cy="529.8" r="1.55" fill="#f8766d" />
<circle cx="131.9" cy="521.2" r="1.55" fill="#f8766d" />
<circle cx="149.5" cy="519.7" r="1.55" fill="#f8766d" />
<circle cx="126.5" cy="523.1" r="1.55" fill="#f8766d" />
<circle cx="148.0" cy="522.5" r="1.55" fill="#f8766d" />
<circle cx="127.8" cy="524.8" r="1.55" fill="#f8766d" />
<circle cx="145.7" cy="532.3" r="1.55" fill="#f8766d" />
<circle cx="139.6" cy="548.0" r="1.55" fill="#f8766d" />
<circle cx="141.8" cy="521.8" r="1.55" fill="#f8766d" />
<circle cx="127.3" cy="528.4" r="1.55" fill="#f8766d" />
<circle cx="125.4" cy="530.4" r="1.55" fill="#f8766d" />
<circle cx="139.6" cy="539.4" r="1.55" fill="#f8766d" />
<circle cx="134.5" cy="517.9" r="1.55" fill="#f8766d" />
<circle cx="144.7" cy="535.0" r="1.55" fill="#f8766d" />
<circle cx="128.1" cy="519.4" r="1.55" fill="#f8766d" />
<circle cx="145.7" cy="531.2" r="1.55" fill="#f8766d" />
<circle cx="127.3" cy="543.2" r="1.55" fill="#f8766d" />
<circle cx="149.2" cy="531.6" r="1.55" fill="#f8766d" />
<circle cx="150.3" cy="517.8" r="1.55" fill="#f8766d" />
<circle cx="131.9" cy="528.2" r="1.55" fill="#f8766d" />
<circle cx="148.7" cy="522.7" r="1.55" fill="#f8766d" />
<circle cx="125.2" cy="543.4" r="1.55" fill="#f8766d" />
<circle cx="147.8" cy="525.6" r="1.55" fill="#f8766d" />
<circle cx="145.4" cy="535.5" r="1.55" fill="#f8766d" />
<circle cx="139.2" cy="542.3" r="1.55" fill="#f8766d" />
<circle cx="133.4" cy="531.3" r="1.55" fill="#f8766d" />
<circle cx="130.8" cy="526.1" r="1.55" fill="#f8766d" />
<circle cx="146.6" cy="532.6" r="1.55" fill="#f8766d" />
<circle cx="128.2" cy="522.8" r="1.55" fill="#f8766d" />
<circle cx="146.0" cy="518.7" r="1.55" fill="#f8766d" />
<circle cx="147.6" cy="538.2" r="1.55" fill="#f8766d" />
<circle cx="128.6" cy="528.9" r="1.55" fill="#f8766d" />
<circle cx="149.5" cy="521.3" r="1.55" fill="#f8766d" />
<circle cx="148.5" cy="524.2" r="1.55" fill="#f8766d" />
<circle cx="138.8" cy="530.2" r="1.55" fill="#f8766d" />
<circle cx="124.5" cy="518.8" r="1.55" fill="#f8766d" />
<circle cx="132.6" cy="520.3" r="1.55" fill="#f8766d" />
<circle cx="129.4" cy="519.9" r="1.55" fill="#f8766d" />
<circle cx="126.3" cy="522.0" r="1.55" fill="#f8766d" />
<circle cx="147.4" cy="543.1" r="1.55" fill="#f8766d" />
<circle cx="136.8" cy="518.7" r="1.55" fill="#f8766d" />
<circle cx="141.0" cy="524.5" r="1.55" fill="#f8766d" />
<circle cx="130.2" cy="526.0" r="1.55" fill="#f8766d" />
<circle cx="138.0" cy="519.8" r="1.55" fill="#f8766d" />
<circle cx="148.8" cy="548.9" r="1.55" fill="#f8766d" />
<circle cx="138.4" cy="524.0" r="1.55" fill="#f8766d" />
<circle cx="125.5" cy="522.2" r="1.55" fill="#f8766d" />
<circle cx="145.8" cy="526.6" r="1.55" fill="#f8766d" />
<circle cx="128.0" cy="525.3" r="1.55" fill="#f8766d" />
<circle cx="146.4" cy="524.4" r="1.55" fill="#f8766d" />
<circle cx="147.0" cy="547.6" r="1.55" fill="#f8766d" />
<circle cx="136.6" cy="530.6" r="1.55" fill="#f8766d" />
<circle cx="125.3" cy="523.9" r="1.55" fill="#f8766d" />
<circle cx="142.8" cy="526.0" r="1.55" fill="#f8766d" />
<circle cx="129.5" cy="526.2" r="1.55" fill="#f8766d" />
<circle cx="147.7" cy="518.4" r="1.55" fill="#f8766d" />
<circle cx="146.6" cy="545.1" r="1.55" fill="#f8766d" />
<circle cx="150.3" cy="534.7" r="1.55" fill="#f8766d" />
<circle cx="124.8" cy="537.8" r="1.55" fill="#f8766d" />
<circle cx="137.2" cy="523.3" r="1.55" fill="#f8766d" />
<circle cx="128.8" cy="536.6" r="1.55" fill="#f8766d" />
<circle cx="124.7" cy="522.9" r="1.55" fill="#f8766d" />
<circle cx="129.2" cy="530.3" r="1.55" fill="#f8766d" />
<circle cx="141.1" cy="540.1" r="1.55" fill="#f8766d" />
<circle cx="144.1" cy="520.8" r="1.55" fill="#f8766d" />
<circle cx="125.0" cy="528.5" r="1.55" fill="#f8766d" />
<circle cx="129.9" cy="529.9" r="1.55" fill="#f8766d" />
<circle cx="146.3" cy="551.7" r="1.55" fill="#f8766d" />
<circle cx="144.6" cy="528.2" r="1.55" fill="#f8766d" />
<circle cx="146.7" cy="526.0" r="1.55" fill="#f8766d" />
<circle cx="142.2" cy="519.3" r="1.55" fill="#f8766d" />
<circle cx="147.7" cy="520.5" r="1.55" fill="#f8766d" />
<circle cx="133.6" cy="535.0" r="1.55" fill="#f8766d" />
<circle cx="145.0" cy="531.5" r="1.55" fill="#f8766d" />
<circle cx="150.3" cy="527.0" r="1.55" fill="#f8766d" />
<circle cx="145.2" cy="526.6" r="1.55" fill="#f8766d" />
<circle cx="133.2" cy="519.8" r="1.55" fill="#f8766d" />
<circle cx="143.4" cy="521.2" r="1.55" fill="#f8766d" />
<circle cx="134.3" cy="527.3" r="1.55" fill="#f8766d" />
<circle cx="133.5" cy="527.0" r="1.55" fill="#f8766d" />
<circle cx="139.3" cy="519.7" r="1.55" fill="#f8766d" />
<circle cx="126.6" cy="547.7" r="1.55" fill="#f8766d" />
<circle cx="139.7" cy="543.1" r="1.55" fill="#f8766d" />
<circle cx="127.5" cy="526.6" r="1.55" fill="#f8766d" />
<circle cx="137.8" cy="522.5" r="1.55" fill="#f8766d" />
<circle cx="134.9" cy="521.6" r="1.55" fill="#f8766d" />
<circle cx="135.1" cy="539.5" r="1.55" fill="#f8766d" />
<circle cx="125.2" cy="525.9" r="1.55" fill="#f8766d" />
<circle cx="139.1" cy="535.4" r="1.55" fill="#f8766d" />
<circle cx="130.2" cy="525.6" r="1.55" fill="#f8766d" />
<circle cx="142.8" cy="543.9" r="1.55" fill="#f8766d" />
<circle cx="134.0" cy="540.1" r="1.55" fill="#f8766d" />
<circle cx="143.2" cy="547.2" r="1.55" fill="#f8766d" />
<circle cx="137.5" cy="519.8" r="1.55" fill="#f8766d" />
<circle cx="140.1" cy="519.8" r="1.55" fill="#f8766d" />
<circle cx="143.0" cy="531.8" r="1.55" fill="#f8766d" />
<circle cx="143.8" cy="543.7" r="1.55" fill="#f8766d" />
<circle cx="129.1" cy="540.9" r="1.55" fill="#f8766d" />
<circle cx="141.0" cy="521.4" r="1.55" fill="#f8766d" />
<circle cx="128.9" cy="528.6" r="1.55" fill="#f8766d" />
<circle cx="149.8" cy="517.7" r="1.55" fill="#f8766d" />
<circle cx="144.2" cy="519.7" r="1.55" fill="#f8766d" />
<circle cx="147.0" cy="535.9" r="1.55" fill="#f8766d" />
<circle cx="130.3" cy="537.3" r="1.55" fill="#f8766d" />
<circle cx="125.5" cy="520.5" r="1.55" fill="#f8766d" />
<circle cx="138.2" cy="524.3" r="1.55" fill="#f8766d" />
<circle cx="143.2" cy="519.9" r="1.55" fill="#f8766d" />
<circle cx="148.6" cy="523.4" r="1.55" fill="#f8766d" />
<circle cx="144.6" cy="544.6" r="1.55" fill="#f8766d" />
<circle cx="134.2" cy="525.3" r="1.55" fill="#f8766d" />
<circle cx="138.3" cy="525.8" r="1.55" fill="#f8766d" />
<circle cx="136.4" cy="517.9" r="1.55" fill="#f8766d" />
<circle cx="131.9" cy="518.1" r="1.55" fill="#f8766d" />
<circle cx="130.5" cy="531.4" r="1.55" fill="#f8766d" />
<circle cx="126.4" cy="526.8" r="1.55" fill="#f8766d" />
<circle cx="143.3" cy="522.7" r="1.55" fill="#f8766d" />
<circle cx="125.3" cy="519.6" r="1.55" fill="#f8766d" />
<circle cx="141.7" cy="538.6" r="1.55" fill="#f8766d" />
<circle cx="145.3" cy="525.8" r="1.55" fill="#f8766d" />
<circle cx="138.7" cy="524.5" r="1.55" fill="#f8766d" />
<circle cx="147.6" cy="522.1" r="1.55" fill="#f8766d" />
<circle cx="142.3" cy="524.1" r="1.55" fill="#f8766d" />
<circle cx="126.5" cy="522.9" r="1.55" fill="#f8766d" />
<circle cx="149.1" cy="524.1" r="1.55" fill="#f8766d" />
<circle cx="150.2" cy="526.0" r="1.55" fill="#f8766d" />
<circle cx="126.3" cy="543.8" r="1.55" fill="#f8766d" />
<circle cx="147.1" cy="521.7" r="1.55" fill="#f8766d" />
<circle cx="131.4" cy="533.4" r="1.55" fill="#f8766d" />
<circle cx="145.3" cy="536.7" r="1.55" fill="#f8766d" />
<circle cx="147.0" cy="520.2" r="1.55" fill="#f8766d" />
<circle cx="148.8" cy="531.1" r="1.55" fill="#f8766d" />
<circle cx="128.7" cy="519.0" r="1.55" fill="#f8766d" />
<circle cx="142.7" cy="523.9" r="1.55" fill="#f8766d" />
<circle cx="149.0" cy="521.3" r="1.55" fill="#f8766d" />
<circle cx="139.6" cy="529.2" r="1.55" fill="#f8766d" />
<circle cx="141.0" cy="517.7" r="1.55" fill="#f8766d" />
<circle cx="125.6" cy="546.1" r="1.55" fill="#f8766d" />
<circle cx="132.8" cy="520.4" r="1.55" fill="#f8766d" />
<circle cx="143.2" cy="536.6" r="1.55" fill="#f8766d" />
<circle cx="124.7" cy="524.2" r="1.55" fill="#f8766d" />
<circle cx="134.8" cy="544.1" r="1.55" fill="#f8766d" />
<circle cx="150.3" cy="521.8" r="1.55" fill="#f8766d" />
<circle cx="131.2" cy="528.8" r="1.55" fill="#f8766d" />
<circle cx="145.6" cy="518.6" r="1.55" fill="#f8766d" />
<circle cx="138.1" cy="523.4" r="1.55" fill="#f8766d" />
<circle cx="134.6" cy="551.6" r="1.55" fill="#f8766d" />
<circle cx="142.3" cy="527.1" r="1.55" fill="#f8766d" />
<circle cx="140.0" cy="520.0" r="1.55" fill="#f8766d" />
<circle cx="127.6" cy="530.5" r="1.55" fill="#f8766d" />
<circle cx="148.1" cy="532.3" r="1.55" fill="#f8766d" />
<circle cx="131.9" cy="522.0" r="1.55" fill="#f8766d" />
<circle cx="127.0" cy="518.8" r="1.55" fill="#f8766d" />
<circle cx="148.8" cy="523.1" r="1.55" fill="#f8766d" />
<circle cx="126.8" cy="548.5" r="1.55" fill="#f8766d" />
<circle cx="141.9" cy="550.6" r="1.55" fill="#f8766d" />
<circle cx="148.3" cy="531.3" r="1.55" fill="#f8766d" />
<circle cx="139.5" cy="530.8" r="1.55" fill="#f8766d" />
<circle cx="135.9" cy="529.9" r="1.55" fill="#f8766d" />
<circle cx="127.3" cy="521.2" r="1.55" fill="#f8766d" />
<circle cx="145.8" cy="532.2" r="1.55" fill="#f8766d" />
<circle cx="148.3" cy="523.0" r="1.55" fill="#f8766d" />
<circle cx="138.1" cy="540.4" r="1.55" fill="#f8766d" />
<circle cx="133.0" cy="521.9" r="1.55" fill="#f8766d" />
<circle cx="128.0" cy="520.4" r="1.55" fill="#f8766d" />
<circle cx="149.3" cy="531.5" r="1.55" fill="#f8766d" />
<circle cx="147.7" cy="527.0" r="1.55" fill="#f8766d" />
<circle cx="135.0" cy="524.4" r="1.55" fill="#f8766d" />
<circle cx="142.3" cy="517.5" r="1.55" fill="#f8766d" />
<circle cx="144.8" cy="544.8" r="1.55" fill="#f8766d" />
<circle cx="137.4" cy="523.2" r="1.55" fill="#f8766d" />
<circle cx="126.3" cy="520.2" r="1.55" fill="#f8766d" />
<circle cx="136.9" cy="517.7" r="1.55" fill="#f8766d" />
<circle cx="135.0" cy="540.8" r="1.55" fill="#f8766d" />
<circle cx="146.7" cy="518.8" r="1.55" fill="#f8766d" />
<circle cx="147.4" cy="526.4" r="1.55" fill="#f8766d" />
<circle cx="146.9" cy="520.5" r="1.55" fill="#f8766d" />
<circle cx="126.6" cy="547.5" r="1.55" fill="#f8766d" />
<circle cx="139.2" cy="534.3" r="1.55" fill="#f8766d" />
<circle cx="132.9" cy="522.3" r="1.55" fill="#f8766d" />
<circle cx="142.8" cy="525.5" r="1.55" fill="#f8766d" />
<circle cx="143.0" cy="534.5" r="1.55" fill="#f8766d" />
<circle cx="131.2" cy="532.2" r="1.55" fill="#f8766d" />
<circle cx="149.1" cy="519.7" r="1.55" fill="#f8766d" />
<circle cx="144.4" cy="541.9" r="1.55" fill="#f8766d" />
<circle cx="145.5" cy="544.8" r="1.55" fill="#f8766d" />
<circle cx="146.1" cy="535.3" r="1.55" fill="#f8766d" />
<circle cx="138.0" cy="521.3" r="1.55" fill="#f8766d" />
<circle cx="148.3" cy="519.1" r="1.55" fill="#f8766d" />
<circle cx="134.3" cy="533.4" r="1.55" fill="#f8766d" />
<circle cx="139.8" cy="533.1" r="1.55" fill="#f8766d" />
<circle cx="126.0" cy="532.1" r="1.55" fill="#f8766d" />
<circle cx="138.0" cy="525.2" r="1.55" fill="#f8766d" />
<circle cx="149.0" cy="520.7" r="1.55" fill="#f8766d" />
<circle cx="142.0" cy="524.2" r="1.55" fill="#f8766d" />
<circle cx="144.3" cy="525.3" r="1.55" fill="#f8766d" />
<circle cx="149.7" cy="539.4" r="1.55" fill="#f8766d" />
<circle cx="137.9" cy="535.9" r="1.55" fill="#f8766d" />
<circle cx="146.8" cy="548.3" r="1.55" fill="#f8766d" />
<circle cx="134.4" cy="531.4" r="1.55" fill="#f8766d" />
<circle cx="140.2" cy="545.6" r="1.55" fill="#f8766d" />
<circle cx="130.0" cy="517.5" r="1.55" fill="#f8766d" />
<circle cx="142.2" cy="531.4" r="1.55" fill="#f8766d" />
<circle cx="141.6" cy="530.7" r="1.55" fill="#f8766d" />
<circle cx="141.0" cy="525.5" r="1.55" fill="#f8766d" />
<circle cx="133.1" cy="529.4" r="1.55" fill="#f8766d" />
<circle cx="141.3" cy="536.7" r="1.55" fill="#f8766d" />
<circle cx="137.3" cy="535.3" r="1.55" fill="#f8766d" />
<circle cx="141.8" cy="532.5" r="1.55" fill="#f8766d" />
<circle cx="126.3" cy="520.9" r="1.55" fill="#f8766d" />
<circle cx="139.3" cy="518.9" r="1.55" fill="#f8766d" />
<circle cx="148.4" cy="543.9" r="1.55" fill="#f8766d" />
<circle cx="143.6" cy="518.2" r="1.55" fill="#f8766d" />
<circle cx="147.5" cy="525.1" r="1.55" fill="#f8766d" />
<circle cx="150.4" cy="524.9" r="1.55" fill="#f8766d" />
<circle cx="129.2" cy="528.2" r="1.55" fill="#f8766d" />
<circle cx="128.0" cy="518.0" r="1.55" fill="#f8766d" />
<circle cx="134.1" cy="527.9" r="1.55" fill="#f8766d" />
<circle cx="148.1" cy="532.0" r="1.55" fill="#f8766d" />
<circle cx="144.5" cy="521.0" r="1.55" fill="#f8766d" />
<circle cx="148.6" cy="527.7" r="1.55" fill="#f8766d" />
<circle cx="131.6" cy="536.4" r="1.55" fill="#f8766d" />
<circle cx="145.5" cy="522.5" r="1.55" fill="#f8766d" />
<circle cx="146.0" cy="546.0" r="1.55" fill="#f8766d" />
<circle cx="137.4" cy="542.1" r="1.55" fill="#f8766d" />
<circle cx="128.0" cy="518.7" r="1.55" fill="#f8766d" />
<circle cx="143.4" cy="532.7" r="1.55" fill="#f8766d" />
<circle cx="140.5" cy="527.1" r="1.55" fill="#f8766d" />
<circle cx="130.6" cy="518.3" r="1.55" fill="#f8766d" />
<circle cx="144.8" cy="528.9" r="1.55" fill="#f8766d" />
<circle cx="148.0" cy="524.8" r="1.55" fill="#f8766d" />
<circle cx="137.7" cy="538.5" r="1.55" fill="#f8766d" />
<circle cx="136.5" cy="538.7" r="1.55" fill="#f8766d" />
<circle cx="127.7" cy="531.9" r="1.55" fill="#f8766d" />
<circle cx="140.3" cy="525.2" r="1.55" fill="#f8766d" />
<circle cx="127.9" cy="536.8" r="1.55" fill="#f8766d" />
<circle cx="135.5" cy="538.6" r="1.55" fill="#f8766d" />
<circle cx="136.7" cy="547.1" r="1.55" fill="#f8766d" />
<circle cx="148.0" cy="523.2" r="1.55" fill="#f8766d" />
<circle cx="141.6" cy="523.9" r="1.55" fill="#f8766d" />
<circle cx="126.3" cy="524.5" r="1.55" fill="#f8766d" />
<circle cx="146.4" cy="522.7" r="1.55" fill="#f8766d" />
<circle cx="135.4" cy="531.2" r="1.55" fill="#f8766d" />
<circle cx="143.0" cy="519.9" r="1.55" fill="#f8766d" />
<circle cx="146.0" cy="536.7" r="1.55" fill="#f8766d" />
<circle cx="135.4" cy="524.7" r="1.55" fill="#f8766d" />
<circle cx="134.6" cy="524.4" r="1.55" fill="#f8766d" />
<circle cx="139.5" cy="521.1" r="1.55" fill="#f8766d" />
<circle cx="142.8" cy="531.6" r="1.55" fill="#f8766d" />
<circle cx="133.5" cy="525.4" r="1.55" fill="#f8766d" />
<circle cx="130.5" cy="518.3" r="1.55" fill="#f8766d" />
<circle cx="134.0" cy="520.9" r="1.55" fill="#f8766d" />
<circle cx="150.3" cy="520.5" r="1.55" fill="#f8766d" />
<circle cx="126.6" cy="526.5" r="1.55" fill="#f8766d" />
<circle cx="128.9" cy="519.3" r="1.55" fill="#f8766d" />
<circle cx="136.5" cy="538.4" r="1.55" fill="#f8766d" />
<circle cx="133.6" cy="546.6" r="1.55" fill="#f8766d" />
<circle cx="148.3" cy="518.6" r="1.55" fill="#f8766d" />
<circle cx="129.0" cy="538.4" r="1.55" fill="#f8766d" />
<circle cx="127.1" cy="522.4" r="1.55" fill="#f8766d" />
<circle cx="129.0" cy="545.5" r="1.55" fill="#f8766d" />
<circle cx="132.0" cy="524.6" r="1.55" fill="#f8766d" />
<circle cx="140.0" cy="525.8" r="1.55" fill="#f8766d" />
<circle cx="125.1" cy="521.2" r="1.55" fill="#f8766d" />
<circle cx="128.3" cy="537.8" r="1.55" fill="#f8766d" />
<circle cx="140.4" cy="528.9" r="1.55" fill="#f8766d" />
<circle cx="143.5" cy="529.9" r="1.55" fill="#f8766d" />
<circle cx="141.7" cy="542.9" r="1.55" fill="#f8766d" />
<circle cx="135.1" cy="518.5" r="1.55" fill="#f8766d" />
<circle cx="138.0" cy="522.7" r="1.55" fill="#f8766d" />
<circle cx="143.2" cy="534.0" r="1.55" fill="#f8766d" />
<circle cx="126.8" cy="523.7" r="1.55" fill="#f8766d" />
<circle cx="134.4" cy="525.2" r="1.55" fill="#f8766d" />
<circle cx="135.0" cy="529.6" r="1.55" fill="#f8766d" />
<circle cx="144.4" cy="521.5" r="1.55" fill="#f8766d" />
<circle cx="135.0" cy="524.2" r="1.55" fill="#f8766d" />
<circle cx="139.3" cy="522.9" r="1.55" fill="#f8766d" />
<circle cx="135.5" cy="534.4" r="1.55" fill="#f8766d" />
<circle cx="139.4" cy="517.6" r="1.55" fill="#f8766d" />
<circle cx="133.8" cy="524.6" r="1.55" fill="#f8766d" />
<circle cx="130.5" cy="518.6" r="1.55" fill="#f8766d" />
<circle cx="130.4" cy="520.5" r="1.55" fill="#f8766d" />
<circle cx="128.0" cy="533.6" r="1.55" fill="#f8766d" />
<circle cx="143.8" cy="521.0" r="1.55" fill="#f8766d" />
<circle cx="135.1" cy="548.7" r="1.55" fill="#f8766d" />
<circle cx="142.2" cy="528.2" r="1.55" fill="#f8766d" />
<circle cx="137.2" cy="517.5" r="1.55" fill="#f8766d" />
<circle cx="140.2" cy="522.8" r="1.55" fill="#f8766d" />
<circle cx="134.3" cy="540.3" r="1.55" fill="#f8766d" />
<circle cx="126.9" cy="530.1" r="1.55" fill="#f8766d" />
<circle cx="126.6" cy="532.2" r="1.55" fill="#f8766d" />
<circle cx="130.2" cy="531.2" r="1.55" fill="#f8766d" />
<circle cx="146.4" cy="517.9" r="1.55" fill="#f8766d" />
<circle cx="143.0" cy="523.4" r="1.55" fill="#f8766d" />
<circle cx="125.1" cy="538.3" r="1.55" fill="#f8766d" />
<circle cx="134.3" cy="535.8" r="1.55" fill="#f8766d" />
<circle cx="128.7" cy="524.0" r="1.55" fill="#f8766d" />
<circle cx="127.0" cy="517.6" r="1.55" fill="#f8766d" />
<circle cx="132.0" cy="527.0" r="1.55" fill="#f8766d" />
<circle cx="149.2" cy="527.4" r="1.55" fill="#f8766d" />
<circle cx="136.8" cy="523.5" r="1.55" fill="#f8766d" />
<circle cx="143.4" cy="549.9" r="1.55" fill="#f8766d" />
<circle cx="142.1" cy="520.0" r="1.55" fill="#f8766d" />
<circle cx="143.1" cy="529.2" r="1.55" fill="#f8766d" />
<circle cx="148.4" cy="522.7" r="1.55" fill="#f8766d" />
<circle cx="133.9" cy="528.5" r="1.55" fill="#f8766d" />
<circle cx="138.0" cy="521.9" r="1.55" fill="#f8766d" />
<circle cx="136.7" cy="520.8" r="1.55" fill="#f8766d" />
<circle cx="145.4" cy="536.1" r="1.55" fill="#f8766d" />
<circle cx="141.3" cy="542.7" r="1.55" fill="#f8766d" />
<circle cx="139.6" cy="526.2" r="1.55" fill="#f8766d" />
<circle cx="128.5" cy="536.8" r="1.55" fill="#f8766d" />
<circle cx="132.5" cy="532.4" r="1.55" fill="#f8766d" />
<circle cx="149.6" cy="542.0" r="1.55" fill="#f8766d" />
<circle cx="143.5" cy="550.1" r="1.55" fill="#f8766d" />
<circle cx="150.3" cy="534.9" r="1.55" fill="#f8766d" />
<circle cx="129.3" cy="522.1" r="1.55" fill="#f8766d" />
<circle cx="136.1" cy="519.2" r="1.55" fill="#f8766d" />
<circle cx="149.5" cy="531.0" r="1.55" fill="#f8766d" />
<circle cx="137.5" cy="537.8" r="1.55" fill="#f8766d" />
<circle cx="138.2" cy="522.9" r="1.55" fill="#f8766d" />
<circle cx="139.3" cy="522.5" r="1.55" fill="#f8766d" />
<circle cx="145.3" cy="523.1" r="1.55" fill="#f8766d" />
<circle cx="136.6" cy="535.8" r="1.55" fill="#f8766d" />
<circle cx="126.8" cy="517.5" r="1.55" fill="#f8766d" />
<circle cx="128.2" cy="531.3" r="1.55" fill="#f8766d" />
<circle cx="139.0" cy="525.2" r="1.55" fill="#f8766d" />
<circle cx="140.8" cy="530.0" r="1.55" fill="#f8766d" />
<circle cx="147.0" cy="523.2" r="1.55" fill="#f8766d" />
<circle cx="128.3" cy="523.8" r="1.55" fill="#f8766d" />
<circle cx="127.3" cy="523.9" r="1.55" fill="#f8766d" />
<circle cx="138.1" cy="530.3" r="1.55" fill="#f8766d" />
<circle cx="138.9" cy="523.6" r="1.55" fill="#f8766d" />
<circle cx="141.8" cy="531.9" r="1.55" fill="#f8766d" />
<circle cx="132.7" cy="537.8" r="1.55" fill="#f8766d" />
<circle cx="137.0" cy="525.5" r="1.55" fill="#f8766d" />
<circle cx="148.3" cy="517.4" r="1.55" fill="#f8766d" />
<circle cx="137.8" cy="531.3" r="1.55" fill="#f8766d" />
<circle cx="125.4" cy="522.8" r="1.55" fill="#f8766d" />
<circle cx="134.4" cy="542.9" r="1.55" fill="#f8766d" />
<circle cx="141.7" cy="525.3" r="1.55" fill="#f8766d" />
<circle cx="147.4" cy="523.6" r="1.55" fill="#f8766d" />
<circle cx="139.5" cy="520.4" r="1.55" fill="#f8766d" />
<circle cx="134.4" cy="532.6" r="1.55" fill="#f8766d" />
<circle cx="140.1" cy="543.6" r="1.55" fill="#f8766d" />
<circle cx="127.3" cy="522.3" r="1.55" fill="#f8766d" />
<circle cx="141.5" cy="523.8" r="1.55" fill="#f8766d" />
<circle cx="149.7" cy="520.1" r="1.55" fill="#f8766d" />
<circle cx="127.4" cy="525.3" r="1.55" fill="#f8766d" />
<circle cx="143.1" cy="523.4" r="1.55" fill="#f8766d" />
<circle cx="132.9" cy="532.2" r="1.55" fill="#f8766d" />
<circle cx="126.0" cy="535.6" r="1.55" fill="#f8766d" />
<circle cx="139.5" cy="533.7" r="1.55" fill="#f8766d" />
<circle cx="138.9" cy="518.8" r="1.55" fill="#f8766d" />
<circle cx="133.6" cy="522.8" r="1.55" fill="#f8766d" />
<circle cx="129.2" cy="527.4" r="1.55" fill="#f8766d" />
<circle cx="130.8" cy="539.2" r="1.55" fill="#f8766d" />
<circle cx="135.3" cy="522.9" r="1.55" fill="#f8766d" />
<circle cx="148.7" cy="532.7" r="1.55" fill="#f8766d" />
<circle cx="148.8" cy="517.6" r="1.55" fill="#f8766d" />
<circle cx="126.7" cy="518.6" r="1.55" fill="#f8766d" />
<circle cx="125.6" cy="519.9" r="1.55" fill="#f8766d" />
<circle cx="132.9" cy="520.3" r="1.55" fill="#f8766d" />
<circle cx="140.1" cy="523.2" r="1.55" fill="#f8766d" />
<circle cx="135.3" cy="540.2" r="1.55" fill="#f8766d" />
<circle cx="128.3" cy="537.1" r="1.55" fill="#f8766d" />
<circle cx="139.7" cy="534.8" r="1.55" fill="#f8766d" />
<circle cx="138.0" cy="518.7" r="1.55" fill="#f8766d" />
<circle cx="130.4" cy="526.0" r="1.55" fill="#f8766d" />
<circle cx="135.5" cy="527.0" r="1.55" fill="#f8766d" />
<circle cx="146.5" cy="524.1" r="1.55" fill="#f8766d" />
<circle cx="148.4" cy="546.4" r="1.55" fill="#f8766d" />
<circle cx="129.4" cy="544.5" r="1.55" fill="#f8766d" />
<circle cx="126.8" cy="526.4" r="1.55" fill="#f8766d" />
<circle cx="142.5" cy="534.0" r="1.55" fill="#f8766d" />
<circle cx="145.7" cy="532.0" r="1.55" fill="#f8766d" />
<circle cx="138.9" cy="538.2" r="1.55" fill="#f8766d" />
<circle cx="146.3" cy="540.4" r="1.55" fill="#f8766d" />
<circle cx="124.7" cy="553.3" r="1.55" fill="#f8766d" />
<circle cx="149.3" cy="555.3" r="1.55" fill="#f8766d" />
<circle cx="150.6" cy="554.1" r="1.55" fill="#f8766d" />
<circle cx="139.6" cy="555.8" r="1.55" fill="#f8766d" />
<circle cx="141.9" cy="558.6" r="1.55" fill="#f8766d" />
<circle cx="129.9" cy="560.9" r="1.55" fill="#f8766d" />
<circle cx="133.5" cy="561.4" r="1.55" fill="#f8766d" />
<circle cx="136.4" cy="560.9" r="1.55" fill="#f8766d" />
<circle cx="126.4" cy="563.1" r="1.55" fill="#f8766d" />
<circle cx="136.4" cy="562.5" r="1.55" fill="#f8766d" />
<circle cx="141.6" cy="563.1" r="1.55" fill="#f8766d" />
<circle cx="134.4" cy="565.9" r="1.55" fill="#f8766d" />
<circle cx="144.1" cy="565.9" r="1.55" fill="#f8766d" />
<circle cx="137.0" cy="568.7" r="1.55" fill="#f8766d" />
<circle cx="145.1" cy="568.7" r="1.55" fill="#f8766d" />
<circle cx="137.3" cy="572.6" r="1.55" fill="#f8766d" />
<circle cx="138.3" cy="573.8" r="1.55" fill="#f8766d" />
<circle cx="128.3" cy="574.3" r="1.55" fill="#f8766d" />
<circle cx="146.5" cy="576.0" r="1.55" fill="#f8766d" />
<circle cx="142.6" cy="577.7" r="1.55" fill="#f8766d" />
<circle cx="141.8" cy="580.5" r="1.55" fill="#f8766d" />
<circle cx="141.6" cy="585.5" r="1.55" fill="#f8766d" />
<circle cx="132.9" cy="591.7" r="1.55" fill="#f8766d" />
<circle cx="146.1" cy="595.1" r="1.55" fill="#f8766d" />
<circle cx="125.1" cy="608.0" r="1.55" fill="#f8766d" />
<circle cx="205.7" cy="479.3" r="1.55" fill="#00b8dc" />
<circle cx="206.6" cy="487.6" r="1.55" fill="#00b8dc" />
<circle cx="194.7" cy="469.8" r="1.55" fill="#00b8dc" />
<circle cx="201.4" cy="476.5" r="1.55" fill="#00b8dc" />
<circle cx="215.4" cy="472.4" r="1.55" fill="#00b8dc" />
<circle cx="217.1" cy="475.0" r="1.55" fill="#00b8dc" />
<circle cx="208.3" cy="482.5" r="1.55" fill="#00b8dc" />
<circle cx="214.0" cy="482.4" r="1.55" fill="#00b8dc" />
<circle cx="192.4" cy="478.0" r="1.55" fill="#00b8dc" />
<circle cx="200.0" cy="473.2" r="1.55" fill="#00b8dc" />
<circle cx="217.2" cy="482.0" r="1.55" fill="#00b8dc" />
<circle cx="192.8" cy="481.7" r="1.55" fill="#00b8dc" />
<circle cx="210.7" cy="490.4" r="1.55" fill="#00b8dc" />
<circle cx="204.1" cy="482.1" r="1.55" fill="#00b8dc" />
<circle cx="201.0" cy="487.5" r="1.55" fill="#00b8dc" />
<circle cx="196.7" cy="470.7" r="1.55" fill="#00b8dc" />
<circle cx="212.0" cy="483.4" r="1.55" fill="#00b8dc" />
<circle cx="201.2" cy="479.0" r="1.55" fill="#00b8dc" />
<circle cx="204.9" cy="489.6" r="1.55" fill="#00b8dc" />
<circle cx="214.7" cy="476.9" r="1.55" fill="#00b8dc" />
<circle cx="203.8" cy="473.9" r="1.55" fill="#00b8dc" />
<circle cx="201.2" cy="480.9" r="1.55" fill="#00b8dc" />
<circle cx="211.0" cy="475.2" r="1.55" fill="#00b8dc" />
<circle cx="194.6" cy="472.4" r="1.55" fill="#00b8dc" />
<circle cx="213.0" cy="487.2" r="1.55" fill="#00b8dc" />
<circle cx="209.5" cy="482.0" r="1.55" fill="#00b8dc" />
<circle cx="200.8" cy="481.2" r="1.55" fill="#00b8dc" />
<circle cx="205.9" cy="488.6" r="1.55" fill="#00b8dc" />
<circle cx="192.0" cy="464.9" r="1.55" fill="#00b8dc" />
<circle cx="193.3" cy="483.8" r="1.55" fill="#00b8dc" />
<circle cx="201.5" cy="490.0" r="1.55" fill="#00b8dc" />
<circle cx="202.6" cy="483.9" r="1.55" fill="#00b8dc" />
<circle cx="205.2" cy="464.2" r="1.55" fill="#00b8dc" />
<circle cx="211.9" cy="483.1" r="1.55" fill="#00b8dc" />
<circle cx="213.6" cy="467.3" r="1.55" fill="#00b8dc" />
<circle cx="217.3" cy="469.6" r="1.55" fill="#00b8dc" />
<circle cx="213.7" cy="478.8" r="1.55" fill="#00b8dc" />
<circle cx="194.2" cy="486.4" r="1.55" fill="#00b8dc" />
<circle cx="207.4" cy="488.3" r="1.55" fill="#00b8dc" />
<circle cx="194.8" cy="470.7" r="1.55" fill="#00b8dc" />
<circle cx="201.9" cy="486.2" r="1.55" fill="#00b8dc" />
<circle cx="201.5" cy="471.1" r="1.55" fill="#00b8dc" />
<circle cx="199.6" cy="473.1" r="1.55" fill="#00b8dc" />
<circle cx="214.0" cy="468.9" r="1.55" fill="#00b8dc" />
<circle cx="191.9" cy="489.3" r="1.55" fill="#00b8dc" />
<circle cx="208.6" cy="484.4" r="1.55" fill="#00b8dc" />
<circle cx="212.9" cy="479.2" r="1.55" fill="#00b8dc" />
<circle cx="199.3" cy="470.2" r="1.55" fill="#00b8dc" />
<circle cx="204.6" cy="468.5" r="1.55" fill="#00b8dc" />
<circle cx="205.7" cy="476.6" r="1.55" fill="#00b8dc" />
<circle cx="209.3" cy="474.5" r="1.55" fill="#00b8dc" />
<circle cx="211.1" cy="485.7" r="1.55" fill="#00b8dc" />
<circle cx="192.1" cy="482.5" r="1.55" fill="#00b8dc" />
<circle cx="213.3" cy="476.2" r="1.55" fill="#00b8dc" />
<circle cx="192.9" cy="478.0" r="1.55" fill="#00b8dc" />
<circle cx="209.3" cy="486.0" r="1.55" fill="#00b8dc" />
<circle cx="200.3" cy="483.0" r="1.55" fill="#00b8dc" />
<circle cx="212.8" cy="475.2" r="1.55" fill="#00b8dc" />
<circle cx="200.1" cy="487.7" r="1.55" fill="#00b8dc" />
<circle cx="194.4" cy="474.9" r="1.55" fill="#00b8dc" />
<circle cx="196.0" cy="476.4" r="1.55" fill="#00b8dc" />
<circle cx="210.4" cy="478.7" r="1.55" fill="#00b8dc" />
<circle cx="210.8" cy="488.9" r="1.55" fill="#00b8dc" />
<circle cx="212.5" cy="476.8" r="1.55" fill="#00b8dc" />
<circle cx="203.1" cy="484.5" r="1.55" fill="#00b8dc" />
<circle cx="210.1" cy="469.0" r="1.55" fill="#00b8dc" />
<circle cx="196.2" cy="488.9" r="1.55" fill="#00b8dc" />
<circle cx="198.2" cy="474.9" r="1.55" fill="#00b8dc" />
<circle cx="201.0" cy="489.8" r="1.55" fill="#00b8dc" />
<circle cx="196.5" cy="473.0" r="1.55" fill="#00b8dc" />
<circle cx="207.8" cy="489.9" r="1.55" fill="#00b8dc" />
<circle cx="202.0" cy="488.9" r="1.55" fill="#00b8dc" />
<circle cx="208.4" cy="475.9" r="1.55" fill="#00b8dc" />
<circle cx="206.2" cy="485.9" r="1.55" fill="#00b8dc" />
<circle cx="208.7" cy="478.2" r="1.55" fill="#00b8dc" />
<circle cx="196.2" cy="471.4" r="1.55" fill="#00b8dc" />
<circle cx="217.3" cy="490.0" r="1.55" fill="#00b8dc" />
<circle cx="205.0" cy="483.5" r="1.55" fill="#00b8dc" />
<circle cx="193.5" cy="488.9" r="1.55" fill="#00b8dc" />
<circle cx="206.9" cy="474.0" r="1.55" fill="#00b8dc" />
<circle cx="192.1" cy="472.0" r="1.55" fill="#00b8dc" />
<circle cx="216.6" cy="464.4" r="1.55" fill="#00b8dc" />
<circle cx="203.6" cy="483.5" r="1.55" fill="#00b8dc" />
<circle cx="209.9" cy="483.6" r="1.55" fill="#00b8dc" />
<circle cx="211.0" cy="474.9" r="1.55" fill="#00b8dc" />
<circle cx="217.1" cy="476.0" r="1.55" fill="#00b8dc" />
<circle cx="208.3" cy="478.4" r="1.55" fill="#00b8dc" />
<circle cx="194.2" cy="489.0" r="1.55" fill="#00b8dc" />
<circle cx="192.8" cy="480.4" r="1.55" fill="#00b8dc" />
<circle cx="198.7" cy="485.3" r="1.55" fill="#00b8dc" />
<circle cx="209.0" cy="478.0" r="1.55" fill="#00b8dc" />
<circle cx="203.9" cy="480.0" r="1.55" fill="#00b8dc" />
<circle cx="201.1" cy="473.0" r="1.55" fill="#00b8dc" />
<circle cx="212.8" cy="481.9" r="1.55" fill="#00b8dc" />
<circle cx="206.8" cy="473.7" r="1.55" fill="#00b8dc" />
<circle cx="197.9" cy="426.2" r="1.55" fill="#00b8dc" />
<circle cx="202.8" cy="422.9" r="1.55" fill="#00b8dc" />
<circle cx="193.6" cy="440.8" r="1.55" fill="#00b8dc" />
<circle cx="199.5" cy="446.4" r="1.55" fill="#00b8dc" />
<circle cx="205.4" cy="443.1" r="1.55" fill="#00b8dc" />
<circle cx="211.5" cy="445.3" r="1.55" fill="#00b8dc" />
<circle cx="203.9" cy="449.8" r="1.55" fill="#00b8dc" />
<circle cx="193.0" cy="454.3" r="1.55" fill="#00b8dc" />
<circle cx="197.3" cy="453.1" r="1.55" fill="#00b8dc" />
<circle cx="200.2" cy="454.3" r="1.55" fill="#00b8dc" />
<circle cx="207.6" cy="453.1" r="1.55" fill="#00b8dc" />
<circle cx="215.0" cy="392.0" r="1.55" fill="#00b8dc" />
<circle cx="213.9" cy="548.9" r="1.55" fill="#00b8dc" />
<circle cx="193.5" cy="550.6" r="1.55" fill="#00b8dc" />
<circle cx="198.1" cy="532.8" r="1.55" fill="#00b8dc" />
<circle cx="211.0" cy="534.2" r="1.55" fill="#00b8dc" />
<circle cx="200.2" cy="525.9" r="1.55" fill="#00b8dc" />
<circle cx="197.5" cy="551.7" r="1.55" fill="#00b8dc" />
<circle cx="212.3" cy="537.3" r="1.55" fill="#00b8dc" />
<circle cx="209.1" cy="532.2" r="1.55" fill="#00b8dc" />
<circle cx="199.3" cy="551.9" r="1.55" fill="#00b8dc" />
<circle cx="201.1" cy="553.1" r="1.55" fill="#00b8dc" />
<circle cx="202.8" cy="553.4" r="1.55" fill="#00b8dc" />
<circle cx="201.5" cy="518.6" r="1.55" fill="#00b8dc" />
<circle cx="194.6" cy="522.2" r="1.55" fill="#00b8dc" />
<circle cx="210.7" cy="537.0" r="1.55" fill="#00b8dc" />
<circle cx="208.4" cy="544.9" r="1.55" fill="#00b8dc" />
<circle cx="204.4" cy="527.2" r="1.55" fill="#00b8dc" />
<circle cx="214.0" cy="537.2" r="1.55" fill="#00b8dc" />
<circle cx="200.6" cy="525.2" r="1.55" fill="#00b8dc" />
<circle cx="203.3" cy="522.7" r="1.55" fill="#00b8dc" />
<circle cx="195.1" cy="523.5" r="1.55" fill="#00b8dc" />
<circle cx="217.2" cy="557.2" r="1.55" fill="#00b8dc" />
<circle cx="206.8" cy="536.5" r="1.55" fill="#00b8dc" />
<circle cx="215.1" cy="561.0" r="1.55" fill="#00b8dc" />
<circle cx="207.6" cy="561.3" r="1.55" fill="#00b8dc" />
<circle cx="197.8" cy="552.9" r="1.55" fill="#00b8dc" />
<circle cx="212.9" cy="531.5" r="1.55" fill="#00b8dc" />
<circle cx="202.0" cy="540.0" r="1.55" fill="#00b8dc" />
<circle cx="197.5" cy="565.4" r="1.55" fill="#00b8dc" />
<circle cx="209.0" cy="538.0" r="1.55" fill="#00b8dc" />
<circle cx="215.1" cy="529.7" r="1.55" fill="#00b8dc" />
<circle cx="206.8" cy="536.1" r="1.55" fill="#00b8dc" />
<circle cx="212.2" cy="542.1" r="1.55" fill="#00b8dc" />
<circle cx="203.6" cy="522.0" r="1.55" fill="#00b8dc" />
<circle cx="195.0" cy="519.8" r="1.55" fill="#00b8dc" />
<circle cx="217.0" cy="518.6" r="1.55" fill="#00b8dc" />
<circle cx="210.2" cy="536.1" r="1.55" fill="#00b8dc" />
<circle cx="211.1" cy="547.1" r="1.55" fill="#00b8dc" />
<circle cx="201.7" cy="547.3" r="1.55" fill="#00b8dc" />
<circle cx="211.5" cy="546.6" r="1.55" fill="#00b8dc" />
<circle cx="205.5" cy="518.2" r="1.55" fill="#00b8dc" />
<circle cx="191.9" cy="517.4" r="1.55" fill="#00b8dc" />
<circle cx="212.0" cy="553.6" r="1.55" fill="#00b8dc" />
<circle cx="200.5" cy="533.9" r="1.55" fill="#00b8dc" />
<circle cx="202.3" cy="544.2" r="1.55" fill="#00b8dc" />
<circle cx="212.4" cy="559.7" r="1.55" fill="#00b8dc" />
<circle cx="207.3" cy="551.8" r="1.55" fill="#00b8dc" />
<circle cx="193.3" cy="526.4" r="1.55" fill="#00b8dc" />
<circle cx="209.2" cy="543.9" r="1.55" fill="#00b8dc" />
<circle cx="196.0" cy="521.2" r="1.55" fill="#00b8dc" />
<circle cx="208.8" cy="534.4" r="1.55" fill="#00b8dc" />
<circle cx="213.2" cy="536.4" r="1.55" fill="#00b8dc" />
<circle cx="204.2" cy="519.2" r="1.55" fill="#00b8dc" />
<circle cx="203.2" cy="544.9" r="1.55" fill="#00b8dc" />
<circle cx="216.9" cy="522.2" r="1.55" fill="#00b8dc" />
<circle cx="203.6" cy="536.1" r="1.55" fill="#00b8dc" />
<circle cx="209.5" cy="520.5" r="1.55" fill="#00b8dc" />
<circle cx="198.9" cy="548.0" r="1.55" fill="#00b8dc" />
<circle cx="213.2" cy="525.3" r="1.55" fill="#00b8dc" />
<circle cx="210.7" cy="531.2" r="1.55" fill="#00b8dc" />
<circle cx="214.4" cy="522.3" r="1.55" fill="#00b8dc" />
<circle cx="207.5" cy="547.6" r="1.55" fill="#00b8dc" />
<circle cx="200.7" cy="536.0" r="1.55" fill="#00b8dc" />
<circle cx="195.3" cy="567.4" r="1.55" fill="#00b8dc" />
<circle cx="209.6" cy="531.6" r="1.55" fill="#00b8dc" />
<circle cx="195.8" cy="542.1" r="1.55" fill="#00b8dc" />
<circle cx="215.2" cy="519.5" r="1.55" fill="#00b8dc" />
<circle cx="208.3" cy="531.4" r="1.55" fill="#00b8dc" />
<circle cx="200.1" cy="554.6" r="1.55" fill="#00b8dc" />
<circle cx="200.5" cy="525.8" r="1.55" fill="#00b8dc" />
<circle cx="196.9" cy="534.3" r="1.55" fill="#00b8dc" />
<circle cx="208.5" cy="519.2" r="1.55" fill="#00b8dc" />
<circle cx="195.1" cy="536.7" r="1.55" fill="#00b8dc" />
<circle cx="194.1" cy="542.0" r="1.55" fill="#00b8dc" />
<circle cx="204.3" cy="529.7" r="1.55" fill="#00b8dc" />
<circle cx="197.3" cy="526.8" r="1.55" fill="#00b8dc" />
<circle cx="201.4" cy="533.6" r="1.55" fill="#00b8dc" />
<circle cx="211.0" cy="540.7" r="1.55" fill="#00b8dc" />
<circle cx="212.3" cy="522.7" r="1.55" fill="#00b8dc" />
<circle cx="197.1" cy="524.6" r="1.55" fill="#00b8dc" />
<circle cx="214.1" cy="519.1" r="1.55" fill="#00b8dc" />
<circle cx="214.5" cy="556.4" r="1.55" fill="#00b8dc" />
<circle cx="197.0" cy="541.3" r="1.55" fill="#00b8dc" />
<circle cx="192.3" cy="538.1" r="1.55" fill="#00b8dc" />
<circle cx="194.4" cy="536.7" r="1.55" fill="#00b8dc" />
<circle cx="196.8" cy="526.4" r="1.55" fill="#00b8dc" />
<circle cx="194.7" cy="550.9" r="1.55" fill="#00b8dc" />
<circle cx="206.5" cy="522.3" r="1.55" fill="#00b8dc" />
<circle cx="193.2" cy="528.5" r="1.55" fill="#00b8dc" />
<circle cx="201.9" cy="519.1" r="1.55" fill="#00b8dc" />
<circle cx="217.0" cy="523.8" r="1.55" fill="#00b8dc" />
<circle cx="209.8" cy="527.1" r="1.55" fill="#00b8dc" />
<circle cx="210.8" cy="524.0" r="1.55" fill="#00b8dc" />
<circle cx="192.7" cy="558.1" r="1.55" fill="#00b8dc" />
<circle cx="209.7" cy="533.7" r="1.55" fill="#00b8dc" />
<circle cx="192.0" cy="538.4" r="1.55" fill="#00b8dc" />
<circle cx="201.1" cy="527.5" r="1.55" fill="#00b8dc" />
<circle cx="195.9" cy="554.2" r="1.55" fill="#00b8dc" />
<circle cx="201.6" cy="520.6" r="1.55" fill="#00b8dc" />
<circle cx="201.8" cy="556.9" r="1.55" fill="#00b8dc" />
<circle cx="197.4" cy="538.5" r="1.55" fill="#00b8dc" />
<circle cx="210.7" cy="524.6" r="1.55" fill="#00b8dc" />
<circle cx="205.5" cy="530.6" r="1.55" fill="#00b8dc" />
<circle cx="196.6" cy="534.1" r="1.55" fill="#00b8dc" />
<circle cx="207.7" cy="520.0" r="1.55" fill="#00b8dc" />
<circle cx="216.5" cy="521.9" r="1.55" fill="#00b8dc" />
<circle cx="199.8" cy="523.3" r="1.55" fill="#00b8dc" />
<circle cx="194.4" cy="535.5" r="1.55" fill="#00b8dc" />
<circle cx="217.6" cy="539.7" r="1.55" fill="#00b8dc" />
<circle cx="203.5" cy="523.2" r="1.55" fill="#00b8dc" />
<circle cx="196.8" cy="532.3" r="1.55" fill="#00b8dc" />
<circle cx="209.4" cy="560.7" r="1.55" fill="#00b8dc" />
<circle cx="212.6" cy="523.6" r="1.55" fill="#00b8dc" />
<circle cx="200.5" cy="534.2" r="1.55" fill="#00b8dc" />
<circle cx="212.0" cy="532.2" r="1.55" fill="#00b8dc" />
<circle cx="214.8" cy="527.3" r="1.55" fill="#00b8dc" />
<circle cx="195.4" cy="529.6" r="1.55" fill="#00b8dc" />
<circle cx="202.8" cy="532.3" r="1.55" fill="#00b8dc" />
<circle cx="203.5" cy="521.7" r="1.55" fill="#00b8dc" />
<circle cx="214.6" cy="533.6" r="1.55" fill="#00b8dc" />
<circle cx="203.2" cy="523.4" r="1.55" fill="#00b8dc" />
<circle cx="216.4" cy="519.2" r="1.55" fill="#00b8dc" />
<circle cx="207.6" cy="520.3" r="1.55" fill="#00b8dc" />
<circle cx="208.8" cy="527.7" r="1.55" fill="#00b8dc" />
<circle cx="202.5" cy="550.8" r="1.55" fill="#00b8dc" />
<circle cx="196.8" cy="541.0" r="1.55" fill="#00b8dc" />
<circle cx="213.6" cy="525.2" r="1.55" fill="#00b8dc" />
<circle cx="204.0" cy="535.8" r="1.55" fill="#00b8dc" />
<circle cx="208.3" cy="521.5" r="1.55" fill="#00b8dc" />
<circle cx="213.0" cy="533.0" r="1.55" fill="#00b8dc" />
<circle cx="204.7" cy="541.0" r="1.55" fill="#00b8dc" />
<circle cx="213.2" cy="536.0" r="1.55" fill="#00b8dc" />
<circle cx="193.1" cy="528.4" r="1.55" fill="#00b8dc" />
<circle cx="217.4" cy="556.1" r="1.55" fill="#00b8dc" />
<circle cx="203.7" cy="565.3" r="1.55" fill="#00b8dc" />
<circle cx="209.1" cy="545.9" r="1.55" fill="#00b8dc" />
<circle cx="204.1" cy="528.6" r="1.55" fill="#00b8dc" />
<circle cx="212.0" cy="534.3" r="1.55" fill="#00b8dc" />
<circle cx="207.9" cy="541.0" r="1.55" fill="#00b8dc" />
<circle cx="203.5" cy="540.2" r="1.55" fill="#00b8dc" />
<circle cx="205.3" cy="520.9" r="1.55" fill="#00b8dc" />
<circle cx="210.1" cy="525.3" r="1.55" fill="#00b8dc" />
<circle cx="193.4" cy="519.4" r="1.55" fill="#00b8dc" />
<circle cx="195.9" cy="520.4" r="1.55" fill="#00b8dc" />
<circle cx="210.6" cy="533.9" r="1.55" fill="#00b8dc" />
<circle cx="215.3" cy="528.6" r="1.55" fill="#00b8dc" />
<circle cx="198.8" cy="530.5" r="1.55" fill="#00b8dc" />
<circle cx="205.0" cy="548.7" r="1.55" fill="#00b8dc" />
<circle cx="200.7" cy="536.9" r="1.55" fill="#00b8dc" />
<circle cx="202.4" cy="544.3" r="1.55" fill="#00b8dc" />
<circle cx="211.8" cy="521.4" r="1.55" fill="#00b8dc" />
<circle cx="215.8" cy="523.0" r="1.55" fill="#00b8dc" />
<circle cx="196.8" cy="536.7" r="1.55" fill="#00b8dc" />
<circle cx="210.4" cy="517.3" r="1.55" fill="#00b8dc" />
<circle cx="208.3" cy="553.4" r="1.55" fill="#00b8dc" />
<circle cx="192.1" cy="518.6" r="1.55" fill="#00b8dc" />
<circle cx="212.5" cy="536.8" r="1.55" fill="#00b8dc" />
<circle cx="202.1" cy="519.7" r="1.55" fill="#00b8dc" />
<circle cx="193.6" cy="559.8" r="1.55" fill="#00b8dc" />
<circle cx="214.6" cy="535.5" r="1.55" fill="#00b8dc" />
<circle cx="203.0" cy="537.0" r="1.55" fill="#00b8dc" />
<circle cx="198.3" cy="517.7" r="1.55" fill="#00b8dc" />
<circle cx="200.1" cy="549.3" r="1.55" fill="#00b8dc" />
<circle cx="207.8" cy="522.1" r="1.55" fill="#00b8dc" />
<circle cx="206.2" cy="537.7" r="1.55" fill="#00b8dc" />
<circle cx="206.3" cy="546.7" r="1.55" fill="#00b8dc" />
<circle cx="195.3" cy="531.2" r="1.55" fill="#00b8dc" />
<circle cx="198.6" cy="527.5" r="1.55" fill="#00b8dc" />
<circle cx="208.8" cy="547.2" r="1.55" fill="#00b8dc" />
<circle cx="195.4" cy="524.8" r="1.55" fill="#00b8dc" />
<circle cx="213.9" cy="551.3" r="1.55" fill="#00b8dc" />
<circle cx="205.2" cy="535.0" r="1.55" fill="#00b8dc" />
<circle cx="204.6" cy="552.4" r="1.55" fill="#00b8dc" />
<circle cx="216.6" cy="523.2" r="1.55" fill="#00b8dc" />
<circle cx="205.9" cy="540.7" r="1.55" fill="#00b8dc" />
<circle cx="195.3" cy="529.4" r="1.55" fill="#00b8dc" />
<circle cx="200.0" cy="529.8" r="1.55" fill="#00b8dc" />
<circle cx="191.7" cy="539.5" r="1.55" fill="#00b8dc" />
<circle cx="194.4" cy="520.9" r="1.55" fill="#00b8dc" />
<circle cx="205.6" cy="518.3" r="1.55" fill="#00b8dc" />
<circle cx="202.7" cy="536.1" r="1.55" fill="#00b8dc" />
<circle cx="203.4" cy="534.4" r="1.55" fill="#00b8dc" />
<circle cx="195.5" cy="542.4" r="1.55" fill="#00b8dc" />
<circle cx="194.9" cy="520.6" r="1.55" fill="#00b8dc" />
<circle cx="209.9" cy="543.2" r="1.55" fill="#00b8dc" />
<circle cx="205.3" cy="522.6" r="1.55" fill="#00b8dc" />
<circle cx="211.4" cy="544.5" r="1.55" fill="#00b8dc" />
<circle cx="197.8" cy="528.9" r="1.55" fill="#00b8dc" />
<circle cx="198.5" cy="532.8" r="1.55" fill="#00b8dc" />
<circle cx="197.5" cy="527.8" r="1.55" fill="#00b8dc" />
<circle cx="199.6" cy="536.2" r="1.55" fill="#00b8dc" />
<circle cx="198.0" cy="518.7" r="1.55" fill="#00b8dc" />
<circle cx="201.6" cy="540.1" r="1.55" fill="#00b8dc" />
<circle cx="200.9" cy="519.9" r="1.55" fill="#00b8dc" />
<circle cx="197.5" cy="558.3" r="1.55" fill="#00b8dc" />
<circle cx="216.6" cy="532.6" r="1.55" fill="#00b8dc" />
<circle cx="212.5" cy="553.1" r="1.55" fill="#00b8dc" />
<circle cx="211.9" cy="545.7" r="1.55" fill="#00b8dc" />
<circle cx="197.1" cy="529.2" r="1.55" fill="#00b8dc" />
<circle cx="204.4" cy="533.8" r="1.55" fill="#00b8dc" />
<circle cx="203.0" cy="541.8" r="1.55" fill="#00b8dc" />
<circle cx="197.6" cy="518.7" r="1.55" fill="#00b8dc" />
<circle cx="202.0" cy="538.0" r="1.55" fill="#00b8dc" />
<circle cx="208.5" cy="544.1" r="1.55" fill="#00b8dc" />
<circle cx="214.5" cy="520.6" r="1.55" fill="#00b8dc" />
<circle cx="213.3" cy="521.0" r="1.55" fill="#00b8dc" />
<circle cx="196.1" cy="536.7" r="1.55" fill="#00b8dc" />
<circle cx="205.1" cy="533.5" r="1.55" fill="#00b8dc" />
<circle cx="207.5" cy="519.6" r="1.55" fill="#00b8dc" />
<circle cx="217.4" cy="517.9" r="1.55" fill="#00b8dc" />
<circle cx="207.8" cy="526.6" r="1.55" fill="#00b8dc" />
<circle cx="197.5" cy="552.8" r="1.55" fill="#00b8dc" />
<circle cx="215.5" cy="537.9" r="1.55" fill="#00b8dc" />
<circle cx="206.7" cy="549.5" r="1.55" fill="#00b8dc" />
<circle cx="204.2" cy="551.5" r="1.55" fill="#00b8dc" />
<circle cx="216.6" cy="521.0" r="1.55" fill="#00b8dc" />
<circle cx="214.0" cy="528.7" r="1.55" fill="#00b8dc" />
<circle cx="207.0" cy="549.7" r="1.55" fill="#00b8dc" />
<circle cx="205.7" cy="526.7" r="1.55" fill="#00b8dc" />
<circle cx="207.2" cy="528.5" r="1.55" fill="#00b8dc" />
<circle cx="209.3" cy="529.0" r="1.55" fill="#00b8dc" />
<circle cx="203.2" cy="520.8" r="1.55" fill="#00b8dc" />
<circle cx="209.7" cy="553.2" r="1.55" fill="#00b8dc" />
<circle cx="196.8" cy="539.0" r="1.55" fill="#00b8dc" />
<circle cx="206.2" cy="522.1" r="1.55" fill="#00b8dc" />
<circle cx="196.7" cy="555.0" r="1.55" fill="#00b8dc" />
<circle cx="194.5" cy="540.5" r="1.55" fill="#00b8dc" />
<circle cx="201.7" cy="529.3" r="1.55" fill="#00b8dc" />
<circle cx="198.1" cy="522.1" r="1.55" fill="#00b8dc" />
<circle cx="194.9" cy="564.9" r="1.55" fill="#00b8dc" />
<circle cx="196.3" cy="547.0" r="1.55" fill="#00b8dc" />
<circle cx="206.4" cy="542.8" r="1.55" fill="#00b8dc" />
<circle cx="207.9" cy="522.6" r="1.55" fill="#00b8dc" />
<circle cx="207.5" cy="552.4" r="1.55" fill="#00b8dc" />
<circle cx="214.2" cy="518.8" r="1.55" fill="#00b8dc" />
<circle cx="210.6" cy="533.4" r="1.55" fill="#00b8dc" />
<circle cx="195.4" cy="522.9" r="1.55" fill="#00b8dc" />
<circle cx="209.4" cy="551.9" r="1.55" fill="#00b8dc" />
<circle cx="198.6" cy="519.6" r="1.55" fill="#00b8dc" />
<circle cx="215.9" cy="518.0" r="1.55" fill="#00b8dc" />
<circle cx="196.2" cy="526.2" r="1.55" fill="#00b8dc" />
<circle cx="194.3" cy="522.0" r="1.55" fill="#00b8dc" />
<circle cx="213.1" cy="552.0" r="1.55" fill="#00b8dc" />
<circle cx="208.3" cy="517.6" r="1.55" fill="#00b8dc" />
<circle cx="200.7" cy="533.8" r="1.55" fill="#00b8dc" />
<circle cx="205.9" cy="542.0" r="1.55" fill="#00b8dc" />
<circle cx="194.5" cy="520.5" r="1.55" fill="#00b8dc" />
<circle cx="198.0" cy="527.0" r="1.55" fill="#00b8dc" />
<circle cx="192.6" cy="535.1" r="1.55" fill="#00b8dc" />
<circle cx="206.4" cy="550.7" r="1.55" fill="#00b8dc" />
<circle cx="200.0" cy="526.5" r="1.55" fill="#00b8dc" />
<circle cx="207.8" cy="544.6" r="1.55" fill="#00b8dc" />
<circle cx="195.2" cy="518.8" r="1.55" fill="#00b8dc" />
<circle cx="213.1" cy="547.3" r="1.55" fill="#00b8dc" />
<circle cx="208.4" cy="540.8" r="1.55" fill="#00b8dc" />
<circle cx="212.9" cy="545.4" r="1.55" fill="#00b8dc" />
<circle cx="194.6" cy="527.6" r="1.55" fill="#00b8dc" />
<circle cx="205.1" cy="529.0" r="1.55" fill="#00b8dc" />
<circle cx="198.7" cy="538.2" r="1.55" fill="#00b8dc" />
<circle cx="212.7" cy="553.7" r="1.55" fill="#00b8dc" />
<circle cx="216.6" cy="526.1" r="1.55" fill="#00b8dc" />
<circle cx="209.3" cy="521.9" r="1.55" fill="#00b8dc" />
<circle cx="193.3" cy="536.3" r="1.55" fill="#00b8dc" />
<circle cx="202.0" cy="546.4" r="1.55" fill="#00b8dc" />
<circle cx="198.4" cy="521.3" r="1.55" fill="#00b8dc" />
<circle cx="198.4" cy="524.1" r="1.55" fill="#00b8dc" />
<circle cx="193.1" cy="531.8" r="1.55" fill="#00b8dc" />
<circle cx="207.6" cy="525.8" r="1.55" fill="#00b8dc" />
<circle cx="194.5" cy="528.4" r="1.55" fill="#00b8dc" />
<circle cx="209.7" cy="554.6" r="1.55" fill="#00b8dc" />
<circle cx="214.0" cy="521.6" r="1.55" fill="#00b8dc" />
<circle cx="196.5" cy="531.0" r="1.55" fill="#00b8dc" />
<circle cx="209.0" cy="548.3" r="1.55" fill="#00b8dc" />
<circle cx="192.5" cy="518.7" r="1.55" fill="#00b8dc" />
<circle cx="209.7" cy="531.9" r="1.55" fill="#00b8dc" />
<circle cx="192.3" cy="518.4" r="1.55" fill="#00b8dc" />
<circle cx="212.4" cy="548.5" r="1.55" fill="#00b8dc" />
<circle cx="215.1" cy="520.1" r="1.55" fill="#00b8dc" />
<circle cx="215.2" cy="527.5" r="1.55" fill="#00b8dc" />
<circle cx="201.0" cy="518.0" r="1.55" fill="#00b8dc" />
<circle cx="210.2" cy="528.8" r="1.55" fill="#00b8dc" />
<circle cx="197.6" cy="523.2" r="1.55" fill="#00b8dc" />
<circle cx="201.8" cy="520.8" r="1.55" fill="#00b8dc" />
<circle cx="217.0" cy="519.4" r="1.55" fill="#00b8dc" />
<circle cx="208.4" cy="537.0" r="1.55" fill="#00b8dc" />
<circle cx="210.9" cy="550.9" r="1.55" fill="#00b8dc" />
<circle cx="198.3" cy="528.4" r="1.55" fill="#00b8dc" />
<circle cx="203.6" cy="526.3" r="1.55" fill="#00b8dc" />
<circle cx="208.7" cy="523.8" r="1.55" fill="#00b8dc" />
<circle cx="204.6" cy="550.8" r="1.55" fill="#00b8dc" />
<circle cx="207.6" cy="529.6" r="1.55" fill="#00b8dc" />
<circle cx="210.1" cy="525.1" r="1.55" fill="#00b8dc" />
<circle cx="207.4" cy="538.6" r="1.55" fill="#00b8dc" />
<circle cx="195.7" cy="518.6" r="1.55" fill="#00b8dc" />
<circle cx="196.8" cy="528.6" r="1.55" fill="#00b8dc" />
<circle cx="211.5" cy="517.5" r="1.55" fill="#00b8dc" />
<circle cx="205.7" cy="557.0" r="1.55" fill="#00b8dc" />
<circle cx="202.3" cy="524.9" r="1.55" fill="#00b8dc" />
<circle cx="216.8" cy="536.6" r="1.55" fill="#00b8dc" />
<circle cx="204.9" cy="536.2" r="1.55" fill="#00b8dc" />
<circle cx="209.1" cy="566.1" r="1.55" fill="#00b8dc" />
<circle cx="194.1" cy="517.9" r="1.55" fill="#00b8dc" />
<circle cx="213.7" cy="519.8" r="1.55" fill="#00b8dc" />
<circle cx="192.2" cy="544.6" r="1.55" fill="#00b8dc" />
<circle cx="212.8" cy="540.4" r="1.55" fill="#00b8dc" />
<circle cx="196.2" cy="527.5" r="1.55" fill="#00b8dc" />
<circle cx="193.0" cy="553.4" r="1.55" fill="#00b8dc" />
<circle cx="212.0" cy="518.1" r="1.55" fill="#00b8dc" />
<circle cx="211.5" cy="562.8" r="1.55" fill="#00b8dc" />
<circle cx="198.1" cy="522.5" r="1.55" fill="#00b8dc" />
<circle cx="213.0" cy="536.8" r="1.55" fill="#00b8dc" />
<circle cx="193.2" cy="518.5" r="1.55" fill="#00b8dc" />
<circle cx="200.7" cy="526.3" r="1.55" fill="#00b8dc" />
<circle cx="192.6" cy="543.1" r="1.55" fill="#00b8dc" />
<circle cx="198.0" cy="524.3" r="1.55" fill="#00b8dc" />
<circle cx="208.2" cy="565.7" r="1.55" fill="#00b8dc" />
<circle cx="195.2" cy="544.1" r="1.55" fill="#00b8dc" />
<circle cx="196.6" cy="518.9" r="1.55" fill="#00b8dc" />
<circle cx="211.0" cy="526.6" r="1.55" fill="#00b8dc" />
<circle cx="196.5" cy="522.8" r="1.55" fill="#00b8dc" />
<circle cx="192.3" cy="518.1" r="1.55" fill="#00b8dc" />
<circle cx="199.3" cy="525.0" r="1.55" fill="#00b8dc" />
<circle cx="198.9" cy="527.2" r="1.55" fill="#00b8dc" />
<circle cx="207.0" cy="522.8" r="1.55" fill="#00b8dc" />
<circle cx="210.3" cy="525.5" r="1.55" fill="#00b8dc" />
<circle cx="200.5" cy="530.4" r="1.55" fill="#00b8dc" />
<circle cx="199.4" cy="550.0" r="1.55" fill="#00b8dc" />
<circle cx="212.6" cy="530.6" r="1.55" fill="#00b8dc" />
<circle cx="192.1" cy="535.4" r="1.55" fill="#00b8dc" />
<circle cx="211.7" cy="540.5" r="1.55" fill="#00b8dc" />
<circle cx="216.0" cy="555.9" r="1.55" fill="#00b8dc" />
<circle cx="204.9" cy="533.6" r="1.55" fill="#00b8dc" />
<circle cx="194.8" cy="533.9" r="1.55" fill="#00b8dc" />
<circle cx="204.1" cy="538.0" r="1.55" fill="#00b8dc" />
<circle cx="211.6" cy="543.3" r="1.55" fill="#00b8dc" />
<circle cx="194.3" cy="517.6" r="1.55" fill="#00b8dc" />
<circle cx="211.8" cy="523.5" r="1.55" fill="#00b8dc" />
<circle cx="200.6" cy="560.8" r="1.55" fill="#00b8dc" />
<circle cx="213.8" cy="546.6" r="1.55" fill="#00b8dc" />
<circle cx="195.0" cy="518.4" r="1.55" fill="#00b8dc" />
<circle cx="212.2" cy="530.1" r="1.55" fill="#00b8dc" />
<circle cx="202.7" cy="549.2" r="1.55" fill="#00b8dc" />
<circle cx="195.5" cy="525.5" r="1.55" fill="#00b8dc" />
<circle cx="196.6" cy="549.0" r="1.55" fill="#00b8dc" />
<circle cx="209.5" cy="531.0" r="1.55" fill="#00b8dc" />
<circle cx="211.9" cy="532.8" r="1.55" fill="#00b8dc" />
<circle cx="196.9" cy="549.3" r="1.55" fill="#00b8dc" />
<circle cx="197.9" cy="520.3" r="1.55" fill="#00b8dc" />
<circle cx="194.0" cy="552.5" r="1.55" fill="#00b8dc" />
<circle cx="215.9" cy="552.5" r="1.55" fill="#00b8dc" />
<circle cx="201.2" cy="535.3" r="1.55" fill="#00b8dc" />
<circle cx="209.1" cy="538.0" r="1.55" fill="#00b8dc" />
<circle cx="194.1" cy="546.9" r="1.55" fill="#00b8dc" />
<circle cx="207.4" cy="517.9" r="1.55" fill="#00b8dc" />
<circle cx="194.5" cy="534.6" r="1.55" fill="#00b8dc" />
<circle cx="193.2" cy="520.5" r="1.55" fill="#00b8dc" />
<circle cx="214.9" cy="544.8" r="1.55" fill="#00b8dc" />
<circle cx="212.2" cy="519.4" r="1.55" fill="#00b8dc" />
<circle cx="195.6" cy="533.4" r="1.55" fill="#00b8dc" />
<circle cx="203.8" cy="530.6" r="1.55" fill="#00b8dc" />
<circle cx="198.1" cy="534.7" r="1.55" fill="#00b8dc" />
<circle cx="212.7" cy="535.9" r="1.55" fill="#00b8dc" />
<circle cx="210.4" cy="522.7" r="1.55" fill="#00b8dc" />
<circle cx="197.2" cy="551.1" r="1.55" fill="#00b8dc" />
<circle cx="205.4" cy="535.8" r="1.55" fill="#00b8dc" />
<circle cx="198.7" cy="539.4" r="1.55" fill="#00b8dc" />
<circle cx="195.3" cy="548.9" r="1.55" fill="#00b8dc" />
<circle cx="211.8" cy="533.8" r="1.55" fill="#00b8dc" />
<circle cx="210.3" cy="524.9" r="1.55" fill="#00b8dc" />
<circle cx="192.2" cy="525.3" r="1.55" fill="#00b8dc" />
<circle cx="194.0" cy="528.6" r="1.55" fill="#00b8dc" />
<circle cx="212.5" cy="518.6" r="1.55" fill="#00b8dc" />
<circle cx="206.5" cy="562.7" r="1.55" fill="#00b8dc" />
<circle cx="207.8" cy="553.2" r="1.55" fill="#00b8dc" />
<circle cx="194.1" cy="553.2" r="1.55" fill="#00b8dc" />
<circle cx="191.8" cy="539.7" r="1.55" fill="#00b8dc" />
<circle cx="211.8" cy="535.0" r="1.55" fill="#00b8dc" />
<circle cx="193.9" cy="540.4" r="1.55" fill="#00b8dc" />
<circle cx="212.0" cy="537.7" r="1.55" fill="#00b8dc" />
<circle cx="197.5" cy="536.2" r="1.55" fill="#00b8dc" />
<circle cx="217.5" cy="529.9" r="1.55" fill="#00b8dc" />
<circle cx="206.8" cy="542.5" r="1.55" fill="#00b8dc" />
<circle cx="202.3" cy="519.0" r="1.55" fill="#00b8dc" />
<circle cx="196.9" cy="532.1" r="1.55" fill="#00b8dc" />
<circle cx="215.0" cy="529.8" r="1.55" fill="#00b8dc" />
<circle cx="198.2" cy="526.3" r="1.55" fill="#00b8dc" />
<circle cx="216.8" cy="559.1" r="1.55" fill="#00b8dc" />
<circle cx="217.3" cy="521.6" r="1.55" fill="#00b8dc" />
<circle cx="208.4" cy="537.3" r="1.55" fill="#00b8dc" />
<circle cx="194.9" cy="535.1" r="1.55" fill="#00b8dc" />
<circle cx="212.4" cy="527.5" r="1.55" fill="#00b8dc" />
<circle cx="209.8" cy="530.3" r="1.55" fill="#00b8dc" />
<circle cx="192.2" cy="528.5" r="1.55" fill="#00b8dc" />
<circle cx="199.4" cy="554.4" r="1.55" fill="#00b8dc" />
<circle cx="195.4" cy="538.1" r="1.55" fill="#00b8dc" />
<circle cx="195.7" cy="528.7" r="1.55" fill="#00b8dc" />
<circle cx="210.0" cy="526.3" r="1.55" fill="#00b8dc" />
<circle cx="203.7" cy="534.2" r="1.55" fill="#00b8dc" />
<circle cx="215.6" cy="524.0" r="1.55" fill="#00b8dc" />
<circle cx="202.0" cy="521.6" r="1.55" fill="#00b8dc" />
<circle cx="212.8" cy="529.7" r="1.55" fill="#00b8dc" />
<circle cx="202.6" cy="529.9" r="1.55" fill="#00b8dc" />
<circle cx="197.8" cy="521.8" r="1.55" fill="#00b8dc" />
<circle cx="214.8" cy="544.9" r="1.55" fill="#00b8dc" />
<circle cx="205.0" cy="537.3" r="1.55" fill="#00b8dc" />
<circle cx="215.6" cy="527.1" r="1.55" fill="#00b8dc" />
<circle cx="195.9" cy="525.4" r="1.55" fill="#00b8dc" />
<circle cx="214.6" cy="517.6" r="1.55" fill="#00b8dc" />
<circle cx="204.4" cy="528.9" r="1.55" fill="#00b8dc" />
<circle cx="215.2" cy="517.5" r="1.55" fill="#00b8dc" />
<circle cx="192.0" cy="543.9" r="1.55" fill="#00b8dc" />
<circle cx="216.1" cy="520.0" r="1.55" fill="#00b8dc" />
<circle cx="210.7" cy="533.5" r="1.55" fill="#00b8dc" />
<circle cx="216.3" cy="544.1" r="1.55" fill="#00b8dc" />
<circle cx="207.6" cy="518.2" r="1.55" fill="#00b8dc" />
<circle cx="208.3" cy="523.8" r="1.55" fill="#00b8dc" />
<circle cx="198.3" cy="526.4" r="1.55" fill="#00b8dc" />
<circle cx="211.6" cy="531.1" r="1.55" fill="#00b8dc" />
<circle cx="203.8" cy="534.9" r="1.55" fill="#00b8dc" />
<circle cx="207.4" cy="557.4" r="1.55" fill="#00b8dc" />
<circle cx="212.5" cy="525.3" r="1.55" fill="#00b8dc" />
<circle cx="200.2" cy="543.6" r="1.55" fill="#00b8dc" />
<circle cx="202.9" cy="531.5" r="1.55" fill="#00b8dc" />
<circle cx="208.2" cy="528.5" r="1.55" fill="#00b8dc" />
<circle cx="208.4" cy="542.8" r="1.55" fill="#00b8dc" />
<circle cx="205.9" cy="552.4" r="1.55" fill="#00b8dc" />
<circle cx="195.5" cy="525.3" r="1.55" fill="#00b8dc" />
<circle cx="200.7" cy="537.0" r="1.55" fill="#00b8dc" />
<circle cx="202.0" cy="521.5" r="1.55" fill="#00b8dc" />
<circle cx="202.5" cy="524.4" r="1.55" fill="#00b8dc" />
<circle cx="211.9" cy="521.5" r="1.55" fill="#00b8dc" />
<circle cx="197.5" cy="547.6" r="1.55" fill="#00b8dc" />
<circle cx="207.2" cy="545.8" r="1.55" fill="#00b8dc" />
<circle cx="208.7" cy="539.3" r="1.55" fill="#00b8dc" />
<circle cx="197.6" cy="528.1" r="1.55" fill="#00b8dc" />
<circle cx="197.0" cy="519.0" r="1.55" fill="#00b8dc" />
<circle cx="205.3" cy="532.0" r="1.55" fill="#00b8dc" />
<circle cx="207.6" cy="536.7" r="1.55" fill="#00b8dc" />
<circle cx="193.1" cy="564.3" r="1.55" fill="#00b8dc" />
<circle cx="215.2" cy="546.2" r="1.55" fill="#00b8dc" />
<circle cx="207.3" cy="522.4" r="1.55" fill="#00b8dc" />
<circle cx="204.4" cy="552.2" r="1.55" fill="#00b8dc" />
<circle cx="194.6" cy="522.7" r="1.55" fill="#00b8dc" />
<circle cx="201.9" cy="532.8" r="1.55" fill="#00b8dc" />
<circle cx="207.2" cy="532.4" r="1.55" fill="#00b8dc" />
<circle cx="210.8" cy="533.9" r="1.55" fill="#00b8dc" />
<circle cx="212.0" cy="532.7" r="1.55" fill="#00b8dc" />
<circle cx="208.5" cy="530.0" r="1.55" fill="#00b8dc" />
<circle cx="210.0" cy="526.5" r="1.55" fill="#00b8dc" />
<circle cx="215.3" cy="546.6" r="1.55" fill="#00b8dc" />
<circle cx="192.2" cy="525.3" r="1.55" fill="#00b8dc" />
<circle cx="197.1" cy="591.2" r="1.55" fill="#00b8dc" />
<circle cx="216.4" cy="593.4" r="1.55" fill="#00b8dc" />
<circle cx="190.9" cy="572.6" r="1.55" fill="#00b8dc" />
<circle cx="201.8" cy="575.4" r="1.55" fill="#00b8dc" />
<rect x="36.60" y="384.50" width="200.90" height="232.70" fill="none" stroke="#666" stroke-width="1"/>
<line x1="33.00" y1="392.00" x2="36.60" y2="392.00" stroke="#555" stroke-width="0.9" />
<text x="0.00" y="0.00" font-size="10" fill="#222" text-anchor="middle" font-weight="normal" transform="translate(27.2,392.00) rotate(-90)">2</text>
<line x1="33.00" y1="448.10" x2="36.60" y2="448.10" stroke="#555" stroke-width="0.9" />
<text x="0.00" y="0.00" font-size="10" fill="#222" text-anchor="middle" font-weight="normal" transform="translate(27.2,448.10) rotate(-90)">1</text>
<line x1="33.00" y1="504.20" x2="36.60" y2="504.20" stroke="#555" stroke-width="0.9" />
<text x="0.00" y="0.00" font-size="10" fill="#222" text-anchor="middle" font-weight="normal" transform="translate(27.2,504.20) rotate(-90)">0</text>
<line x1="33.00" y1="560.30" x2="36.60" y2="560.30" stroke="#555" stroke-width="0.9" />
<text x="0.00" y="0.00" font-size="10" fill="#222" text-anchor="middle" font-weight="normal" transform="translate(27.2,560.30) rotate(-90)">-1</text>
<line x1="33.00" y1="616.40" x2="36.60" y2="616.40" stroke="#555" stroke-width="0.9" />
<text x="0.00" y="0.00" font-size="10" fill="#222" text-anchor="middle" font-weight="normal" transform="translate(27.2,616.40) rotate(-90)">-2</text>
<line x1="70.90" y1="617.20" x2="70.90" y2="620.50" stroke="#666" stroke-width="0.9" />
<text x="69.70" y="631.80" font-size="10" fill="#222" text-anchor="middle" font-weight="normal" >Astroglia</text>
<line x1="137.40" y1="617.20" x2="137.40" y2="620.50" stroke="#666" stroke-width="0.9" />
<text x="140.40" y="631.80" font-size="10" fill="#222" text-anchor="middle" font-weight="normal" >Microglia</text>
<line x1="204.60" y1="617.20" x2="204.60" y2="620.50" stroke="#666" stroke-width="0.9" />
<text x="205.90" y="631.80" font-size="10" fill="#222" text-anchor="middle" font-weight="normal" >Oligodendroglia</text>
<text x="0.00" y="0.00" font-size="10" fill="#222" text-anchor="middle" font-weight="normal" transform="translate(14,485.5) rotate(-90)">Average LogFold Change</text>
<circle cx="55.0" cy="373.8" r="2.20" fill="#22cc78" />
<circle cx="108.0" cy="373.8" r="2.20" fill="#f8a19b" />
<circle cx="163.0" cy="373.6" r="2.20" fill="#14b6dc" />
<text x="62.60" y="377.00" font-size="10" fill="#111" text-anchor="start" font-weight="normal" >Astroglia</text>
<text x="115.50" y="377.00" font-size="10" fill="#111" text-anchor="start" font-weight="normal" >Microglia</text>
<text x="169.60" y="377.00" font-size="10" fill="#111" text-anchor="start" font-weight="normal" >Oligodendroglia</text>
<text x="263.80" y="348.70" font-size="17.6" fill="#111" text-anchor="start" font-weight="bold" >D</text>
<text x="379.70" y="351.20" font-size="10" fill="#111" text-anchor="start" font-weight="normal" >GO pathway enrichment</text>
<rect x="363.50" y="372.70" width="46.20" height="262.00" fill="#fff" />
<line x1="365.13" y1="372.70" x2="365.13" y2="634.70" stroke="#ebebeb" stroke-width="0.5" />
<line x1="371.00" y1="372.70" x2="371.00" y2="634.70" stroke="#ebebeb" stroke-width="0.9" />
<line x1="376.87" y1="372.70" x2="376.87" y2="634.70" stroke="#ebebeb" stroke-width="0.5" />
<line x1="382.73" y1="372.70" x2="382.73" y2="634.70" stroke="#ebebeb" stroke-width="0.9" />
<line x1="388.60" y1="372.70" x2="388.60" y2="634.70" stroke="#ebebeb" stroke-width="0.5" />
<line x1="394.46" y1="372.70" x2="394.46" y2="634.70" stroke="#ebebeb" stroke-width="0.9" />
<line x1="400.33" y1="372.70" x2="400.33" y2="634.70" stroke="#ebebeb" stroke-width="0.5" />
<line x1="406.20" y1="372.70" x2="406.20" y2="634.70" stroke="#ebebeb" stroke-width="0.9" />
<line x1="363.50" y1="383.30" x2="409.70" y2="383.30" stroke="#ebebeb" stroke-width="0.9" />
<line x1="363.50" y1="400.51" x2="409.70" y2="400.51" stroke="#ebebeb" stroke-width="0.9" />
<line x1="363.50" y1="417.72" x2="409.70" y2="417.72" stroke="#ebebeb" stroke-width="0.9" />
<line x1="363.50" y1="434.93" x2="409.70" y2="434.93" stroke="#ebebeb" stroke-width="0.9" />
<line x1="363.50" y1="452.14" x2="409.70" y2="452.14" stroke="#ebebeb" stroke-width="0.9" />
<line x1="363.50" y1="469.35" x2="409.70" y2="469.35" stroke="#ebebeb" stroke-width="0.9" />
<line x1="363.50" y1="486.56" x2="409.70" y2="486.56" stroke="#ebebeb" stroke-width="0.9" />
<line x1="363.50" y1="503.77" x2="409.70" y2="503.77" stroke="#ebebeb" stroke-width="0.9" />
<line x1="363.50" y1="520.98" x2="409.70" y2="520.98" stroke="#ebebeb" stroke-width="0.9" />
<line x1="363.50" y1="538.19" x2="409.70" y2="538.19" stroke="#ebebeb" stroke-width="0.9" />
<line x1="363.50" y1="555.40" x2="409.70" y2="555.40" stroke="#ebebeb" stroke-width="0.9" />
<line x1="363.50" y1="572.61" x2="409.70" y2="572.61" stroke="#ebebeb" stroke-width="0.9" />
<line x1="363.50" y1="589.82" x2="409.70" y2="589.82" stroke="#ebebeb" stroke-width="0.9" />
<line x1="363.50" y1="607.03" x2="409.70" y2="607.03" stroke="#ebebeb" stroke-width="0.9" />
<line x1="363.50" y1="624.24" x2="409.70" y2="624.24" stroke="#ebebeb" stroke-width="0.9" />
<rect x="413.20" y="372.70" width="46.20" height="262.00" fill="#fff" />
<line x1="414.83" y1="372.70" x2="414.83" y2="634.70" stroke="#ebebeb" stroke-width="0.5" />
<line x1="420.70" y1="372.70" x2="420.70" y2="634.70" stroke="#ebebeb" stroke-width="0.9" />
<line x1="426.57" y1="372.70" x2="426.57" y2="634.70" stroke="#ebebeb" stroke-width="0.5" />
<line x1="432.43" y1="372.70" x2="432.43" y2="634.70" stroke="#ebebeb" stroke-width="0.9" />
<line x1="438.30" y1="372.70" x2="438.30" y2="634.70" stroke="#ebebeb" stroke-width="0.5" />
<line x1="444.16" y1="372.70" x2="444.16" y2="634.70" stroke="#ebebeb" stroke-width="0.9" />
<line x1="450.03" y1="372.70" x2="450.03" y2="634.70" stroke="#ebebeb" stroke-width="0.5" />
<line x1="455.90" y1="372.70" x2="455.90" y2="634.70" stroke="#ebebeb" stroke-width="0.9" />
<line x1="413.20" y1="383.30" x2="459.40" y2="383.30" stroke="#ebebeb" stroke-width="0.9" />
<line x1="413.20" y1="400.51" x2="459.40" y2="400.51" stroke="#ebebeb" stroke-width="0.9" />
<line x1="413.20" y1="417.72" x2="459.40" y2="417.72" stroke="#ebebeb" stroke-width="0.9" />
<line x1="413.20" y1="434.93" x2="459.40" y2="434.93" stroke="#ebebeb" stroke-width="0.9" />
<line x1="413.20" y1="452.14" x2="459.40" y2="452.14" stroke="#ebebeb" stroke-width="0.9" />
<line x1="413.20" y1="469.35" x2="459.40" y2="469.35" stroke="#ebebeb" stroke-width="0.9" />
<line x1="413.20" y1="486.56" x2="459.40" y2="486.56" stroke="#ebebeb" stroke-width="0.9" />
<line x1="413.20" y1="503.77" x2="459.40" y2="503.77" stroke="#ebebeb" stroke-width="0.9" />
<line x1="413.20" y1="520.98" x2="459.40" y2="520.98" stroke="#ebebeb" stroke-width="0.9" />
<line x1="413.20" y1="538.19" x2="459.40" y2="538.19" stroke="#ebebeb" stroke-width="0.9" />
<line x1="413.20" y1="555.40" x2="459.40" y2="555.40" stroke="#ebebeb" stroke-width="0.9" />
<line x1="413.20" y1="572.61" x2="459.40" y2="572.61" stroke="#ebebeb" stroke-width="0.9" />
<line x1="413.20" y1="589.82" x2="459.40" y2="589.82" stroke="#ebebeb" stroke-width="0.9" />
<line x1="413.20" y1="607.03" x2="459.40" y2="607.03" stroke="#ebebeb" stroke-width="0.9" />
<line x1="413.20" y1="624.24" x2="459.40" y2="624.24" stroke="#ebebeb" stroke-width="0.9" />
<rect x="463.40" y="372.70" width="46.20" height="262.00" fill="#fff" />
<line x1="465.03" y1="372.70" x2="465.03" y2="634.70" stroke="#ebebeb" stroke-width="0.5" />
<line x1="470.90" y1="372.70" x2="470.90" y2="634.70" stroke="#ebebeb" stroke-width="0.9" />
<line x1="476.77" y1="372.70" x2="476.77" y2="634.70" stroke="#ebebeb" stroke-width="0.5" />
<line x1="482.63" y1="372.70" x2="482.63" y2="634.70" stroke="#ebebeb" stroke-width="0.9" />
<line x1="488.50" y1="372.70" x2="488.50" y2="634.70" stroke="#ebebeb" stroke-width="0.5" />
<line x1="494.36" y1="372.70" x2="494.36" y2="634.70" stroke="#ebebeb" stroke-width="0.9" />
<line x1="500.23" y1="372.70" x2="500.23" y2="634.70" stroke="#ebebeb" stroke-width="0.5" />
<line x1="506.10" y1="372.70" x2="506.10" y2="634.70" stroke="#ebebeb" stroke-width="0.9" />
<line x1="463.40" y1="383.30" x2="509.60" y2="383.30" stroke="#ebebeb" stroke-width="0.9" />
<line x1="463.40" y1="400.51" x2="509.60" y2="400.51" stroke="#ebebeb" stroke-width="0.9" />
<line x1="463.40" y1="417.72" x2="509.60" y2="417.72" stroke="#ebebeb" stroke-width="0.9" />
<line x1="463.40" y1="434.93" x2="509.60" y2="434.93" stroke="#ebebeb" stroke-width="0.9" />
<line x1="463.40" y1="452.14" x2="509.60" y2="452.14" stroke="#ebebeb" stroke-width="0.9" />
<line x1="463.40" y1="469.35" x2="509.60" y2="469.35" stroke="#ebebeb" stroke-width="0.9" />
<line x1="463.40" y1="486.56" x2="509.60" y2="486.56" stroke="#ebebeb" stroke-width="0.9" />
<line x1="463.40" y1="503.77" x2="509.60" y2="503.77" stroke="#ebebeb" stroke-width="0.9" />
<line x1="463.40" y1="520.98" x2="509.60" y2="520.98" stroke="#ebebeb" stroke-width="0.9" />
<line x1="463.40" y1="538.19" x2="509.60" y2="538.19" stroke="#ebebeb" stroke-width="0.9" />
<line x1="463.40" y1="555.40" x2="509.60" y2="555.40" stroke="#ebebeb" stroke-width="0.9" />
<line x1="463.40" y1="572.61" x2="509.60" y2="572.61" stroke="#ebebeb" stroke-width="0.9" />
<line x1="463.40" y1="589.82" x2="509.60" y2="589.82" stroke="#ebebeb" stroke-width="0.9" />
<line x1="463.40" y1="607.03" x2="509.60" y2="607.03" stroke="#ebebeb" stroke-width="0.9" />
<line x1="463.40" y1="624.24" x2="509.60" y2="624.24" stroke="#ebebeb" stroke-width="0.9" />
<circle cx="404.50" cy="383.30" r="3.5" fill="#ff0000" clip-path="url(#cp0)"/>
<circle cx="457.00" cy="383.30" r="3.5" fill="#ff0000" clip-path="url(#cp1)"/>
<circle cx="497.40" cy="383.30" r="3.3" fill="#ff0000" clip-path="url(#cp2)"/>
<circle cx="441.00" cy="400.51" r="3.0" fill="#ff0000" clip-path="url(#cp1)"/>
<circle cx="442.60" cy="417.72" r="3.2" fill="#f43320" clip-path="url(#cp1)"/>
<circle cx="431.00" cy="434.93" r="2.6" fill="#ff0000" clip-path="url(#cp1)"/>
<circle cx="426.60" cy="452.14" r="2.3" fill="#ff0000" clip-path="url(#cp1)"/>
<circle cx="424.40" cy="469.35" r="2.2" fill="#ff0000" clip-path="url(#cp1)"/>
<circle cx="377.40" cy="486.56" r="2.4" fill="#c77f98" clip-path="url(#cp0)"/>
<circle cx="431.40" cy="486.56" r="2.6" fill="#ff0000" clip-path="url(#cp1)"/>
<circle cx="395.30" cy="503.77" r="3.2" fill="#ff0000" clip-path="url(#cp0)"/>
<circle cx="430.00" cy="503.77" r="2.5" fill="#f06565" clip-path="url(#cp1)"/>
<circle cx="489.20" cy="503.77" r="3.0" fill="#ff0000" clip-path="url(#cp2)"/>
<circle cx="396.30" cy="520.98" r="3.3" fill="#ff0000" clip-path="url(#cp0)"/>
<circle cx="440.60" cy="520.98" r="3.0" fill="#ff0000" clip-path="url(#cp1)"/>
<circle cx="492.00" cy="520.98" r="3.2" fill="#ff0000" clip-path="url(#cp2)"/>
<circle cx="467.90" cy="538.19" r="1.7" fill="#ff0000" clip-path="url(#cp2)"/>
<circle cx="467.90" cy="555.40" r="1.7" fill="#ff0000" clip-path="url(#cp2)"/>
<circle cx="391.00" cy="572.61" r="3.0" fill="#ff0000" clip-path="url(#cp0)"/>
<circle cx="478.90" cy="572.61" r="2.5" fill="#f33a2a" clip-path="url(#cp2)"/>
<circle cx="373.90" cy="589.82" r="2.2" fill="#ff0000" clip-path="url(#cp0)"/>
<circle cx="386.70" cy="607.03" r="2.8" fill="#ff0000" clip-path="url(#cp0)"/>
<circle cx="480.50" cy="607.03" r="2.7" fill="#ff0000" clip-path="url(#cp2)"/>
<circle cx="369.60" cy="624.24" r="1.8" fill="#ff0000" clip-path="url(#cp0)"/>
<circle cx="465.30" cy="624.24" r="0.8" fill="#ff3030" clip-path="url(#cp2)"/>
<rect x="363.50" y="372.70" width="46.20" height="0.00" fill="none" />
<rect x="363.50" y="361.10" width="46.20" height="11.60" fill="#d9d9d9" stroke="#707070" stroke-width="0.8"/>
<rect x="363.50" y="372.70" width="46.20" height="262.00" fill="none" stroke="#787878" stroke-width="0.8"/>
<line x1="371.00" y1="634.70" x2="371.00" y2="636.70" stroke="#555" stroke-width="0.6" />
<text x="368.30" y="641.20" font-size="4.6" fill="#8a8a8a" text-anchor="middle" font-weight="normal" >0.04</text>
<line x1="382.73" y1="634.70" x2="382.73" y2="636.70" stroke="#555" stroke-width="0.6" />
<text x="381.20" y="641.20" font-size="4.6" fill="#8a8a8a" text-anchor="middle" font-weight="normal" >0.08</text>
<line x1="394.46" y1="634.70" x2="394.46" y2="636.70" stroke="#555" stroke-width="0.6" />
<text x="393.70" y="641.20" font-size="4.6" fill="#8a8a8a" text-anchor="middle" font-weight="normal" >0.12</text>
<line x1="406.20" y1="634.70" x2="406.20" y2="636.70" stroke="#555" stroke-width="0.6" />
<text x="406.30" y="641.20" font-size="4.6" fill="#8a8a8a" text-anchor="middle" font-weight="normal" >0.16</text>
<rect x="413.20" y="372.70" width="46.20" height="0.00" fill="none" />
<rect x="413.20" y="361.10" width="46.20" height="11.60" fill="#d9d9d9" stroke="#707070" stroke-width="0.8"/>
<rect x="413.20" y="372.70" width="46.20" height="262.00" fill="none" stroke="#787878" stroke-width="0.8"/>
<line x1="420.70" y1="634.70" x2="420.70" y2="636.70" stroke="#555" stroke-width="0.6" />
<text x="417.60" y="641.20" font-size="4.6" fill="#8a8a8a" text-anchor="middle" font-weight="normal" >0.04</text>
<line x1="432.43" y1="634.70" x2="432.43" y2="636.70" stroke="#555" stroke-width="0.6" />
<text x="430.50" y="641.20" font-size="4.6" fill="#8a8a8a" text-anchor="middle" font-weight="normal" >0.08</text>
<line x1="444.16" y1="634.70" x2="444.16" y2="636.70" stroke="#555" stroke-width="0.6" />
<text x="443.00" y="641.20" font-size="4.6" fill="#8a8a8a" text-anchor="middle" font-weight="normal" >0.12</text>
<line x1="455.90" y1="634.70" x2="455.90" y2="636.70" stroke="#555" stroke-width="0.6" />
<text x="455.60" y="641.20" font-size="4.6" fill="#8a8a8a" text-anchor="middle" font-weight="normal" >0.16</text>
<rect x="463.40" y="372.70" width="46.20" height="0.00" fill="none" />
<rect x="463.40" y="361.10" width="46.20" height="11.60" fill="#d9d9d9" stroke="#707070" stroke-width="0.8"/>
<rect x="463.40" y="372.70" width="46.20" height="262.00" fill="none" stroke="#787878" stroke-width="0.8"/>
<line x1="470.90" y1="634.70" x2="470.90" y2="636.70" stroke="#555" stroke-width="0.6" />
<text x="468.60" y="641.20" font-size="4.6" fill="#8a8a8a" text-anchor="middle" font-weight="normal" >0.04</text>
<line x1="482.63" y1="634.70" x2="482.63" y2="636.70" stroke="#555" stroke-width="0.6" />
<text x="481.50" y="641.20" font-size="4.6" fill="#8a8a8a" text-anchor="middle" font-weight="normal" >0.08</text>
<line x1="494.36" y1="634.70" x2="494.36" y2="636.70" stroke="#555" stroke-width="0.6" />
<text x="494.00" y="641.20" font-size="4.6" fill="#8a8a8a" text-anchor="middle" font-weight="normal" >0.12</text>
<line x1="506.10" y1="634.70" x2="506.10" y2="636.70" stroke="#555" stroke-width="0.6" />
<text x="506.60" y="641.20" font-size="4.6" fill="#8a8a8a" text-anchor="middle" font-weight="normal" >0.16</text>
<text x="386.00" y="368.70" font-size="6.9" fill="#1a1a1a" text-anchor="middle" font-weight="normal" >Astroglia</text>
<text x="435.70" y="368.70" font-size="6.9" fill="#1a1a1a" text-anchor="middle" font-weight="normal" >Microglia</text>
<text x="485.90" y="368.70" font-size="6.9" fill="#1a1a1a" text-anchor="middle" font-weight="normal" >Oligodendroglia</text>
<text x="358.00" y="385.80" font-size="7" fill="#4d4d4d" text-anchor="end" font-weight="normal" >Cell migration</text>
<line x1="360.80" y1="383.30" x2="363.50" y2="383.30" stroke="#333" stroke-width="0.9" />
<text x="358.40" y="403.01" font-size="7" fill="#4d4d4d" text-anchor="end" font-weight="normal" >Immune system development</text>
<line x1="360.80" y1="400.51" x2="363.50" y2="400.51" stroke="#333" stroke-width="0.9" />
<text x="358.40" y="420.22" font-size="7" fill="#4d4d4d" text-anchor="end" font-weight="normal" >Immune response</text>
<line x1="360.80" y1="417.72" x2="363.50" y2="417.72" stroke="#333" stroke-width="0.9" />
<text x="356.00" y="437.43" font-size="7" fill="#4d4d4d" text-anchor="end" font-weight="normal" >Endocytosis</text>
<line x1="360.80" y1="434.93" x2="363.50" y2="434.93" stroke="#333" stroke-width="0.9" />
<text x="357.50" y="454.64" font-size="7" fill="#4d4d4d" text-anchor="end" font-weight="normal" >Myeloid cell differentiation</text>
<line x1="360.80" y1="452.14" x2="363.50" y2="452.14" stroke="#333" stroke-width="0.9" />
<text x="358.40" y="471.85" font-size="7" fill="#4d4d4d" text-anchor="end" font-weight="normal" >Immune resp. reg. signaling pathway</text>
<line x1="360.80" y1="469.35" x2="363.50" y2="469.35" stroke="#333" stroke-width="0.9" />
<text x="360.30" y="489.06" font-size="7" fill="#4d4d4d" text-anchor="end" font-weight="normal" >Positive regulation of cell motility</text>
<line x1="360.80" y1="486.56" x2="363.50" y2="486.56" stroke="#333" stroke-width="0.9" />
<text x="357.50" y="506.27" font-size="7" fill="#4d4d4d" text-anchor="end" font-weight="normal" >Cell junction organization</text>
<line x1="360.80" y1="503.77" x2="363.50" y2="503.77" stroke="#333" stroke-width="0.9" />
<text x="354.40" y="523.48" font-size="7" fill="#4d4d4d" text-anchor="end" font-weight="normal" >Cell morphogenesis</text>
<line x1="360.80" y1="520.98" x2="363.50" y2="520.98" stroke="#333" stroke-width="0.9" />
<text x="350.40" y="540.69" font-size="7" fill="#4d4d4d" text-anchor="end" font-weight="normal" >Myelination</text>
<line x1="360.80" y1="538.19" x2="363.50" y2="538.19" stroke="#333" stroke-width="0.9" />
<text x="354.90" y="557.90" font-size="7" fill="#4d4d4d" text-anchor="end" font-weight="normal" >Axon ensheathment</text>
<line x1="360.80" y1="555.40" x2="363.50" y2="555.40" stroke="#333" stroke-width="0.9" />
<text x="349.70" y="575.11" font-size="7" fill="#4d4d4d" text-anchor="end" font-weight="normal" >Behavior</text>
<line x1="360.80" y1="572.61" x2="363.50" y2="572.61" stroke="#333" stroke-width="0.9" />
<text x="354.90" y="592.32" font-size="7" fill="#4d4d4d" text-anchor="end" font-weight="normal" >Learning or memory</text>
<line x1="360.80" y1="589.82" x2="363.50" y2="589.82" stroke="#333" stroke-width="0.9" />
<text x="357.50" y="609.53" font-size="7" fill="#4d4d4d" text-anchor="end" font-weight="normal" >Trans−synaptic signaling</text>
<line x1="360.80" y1="607.03" x2="363.50" y2="607.03" stroke="#333" stroke-width="0.9" />
<text x="359.80" y="626.74" font-size="7" fill="#4d4d4d" text-anchor="end" font-weight="normal" >Regulation of synapse assembly</text>
<line x1="360.80" y1="624.24" x2="363.50" y2="624.24" stroke="#333" stroke-width="0.9" />
<text x="439.30" y="651.30" font-size="9" fill="#111" text-anchor="middle" font-weight="normal" >GeneRatio</text>
<text x="516.30" y="442.50" font-size="6.3" fill="#1a1a1a" text-anchor="start" font-weight="normal" >GeneRatio</text>
<circle cx="519.2" cy="449.2" r="1.20" fill="#000" />
<text x="525.40" y="451.50" font-size="6.3" fill="#1a1a1a" text-anchor="start" font-weight="normal" >0.04</text>
<circle cx="519.2" cy="455.8" r="1.80" fill="#000" />
<text x="525.40" y="458.10" font-size="6.3" fill="#1a1a1a" text-anchor="start" font-weight="normal" >0.08</text>
<circle cx="519.2" cy="462.1" r="2.20" fill="#000" />
<text x="525.40" y="464.40" font-size="6.3" fill="#1a1a1a" text-anchor="start" font-weight="normal" >0.12</text>
<circle cx="519.2" cy="469.3" r="2.70" fill="#000" />
<text x="525.40" y="471.60" font-size="6.3" fill="#1a1a1a" text-anchor="start" font-weight="normal" >0.16</text>
<text x="530.20" y="486.30" font-size="6.3" fill="#1a1a1a" text-anchor="middle" font-weight="normal" >Enrichment</text>
<text x="530.80" y="494.40" font-size="6.3" fill="#1a1a1a" text-anchor="middle" font-weight="normal" >FDR</text>
<rect x="515.9" y="503" width="5.9" height="33.2" fill="url(#gr)"/>
<text x="525.40" y="504.70" font-size="6.3" fill="#1a1a1a" text-anchor="start" font-weight="normal" >0.05</text>
<text x="525.40" y="511.38" font-size="6.3" fill="#1a1a1a" text-anchor="start" font-weight="normal" >0.04</text>
<text x="525.40" y="518.06" font-size="6.3" fill="#1a1a1a" text-anchor="start" font-weight="normal" >0.03</text>
<text x="525.40" y="524.74" font-size="6.3" fill="#1a1a1a" text-anchor="start" font-weight="normal" >0.02</text>
<text x="525.40" y="531.42" font-size="6.3" fill="#1a1a1a" text-anchor="start" font-weight="normal" >0.01</text>
<text x="525.40" y="538.10" font-size="6.3" fill="#1a1a1a" text-anchor="start" font-weight="normal" >0.00</text>
</svg>
</body></html>
